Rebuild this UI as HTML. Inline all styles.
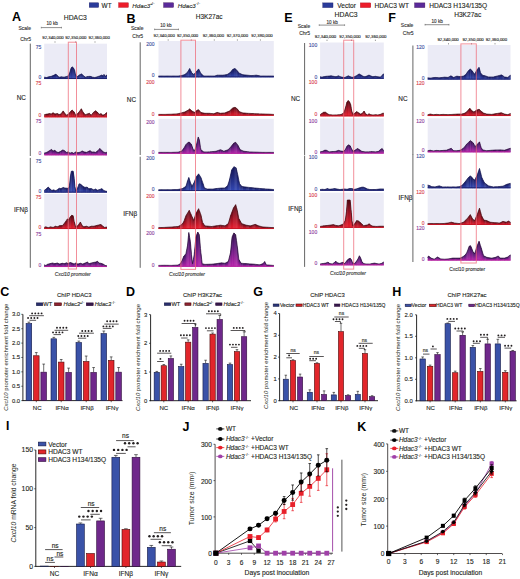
<!DOCTYPE html>
<html><head><meta charset="utf-8"><title>Figure</title>
<style>text{paint-order:stroke;}html,body{margin:0;padding:0;background:#fff;width:520px;height:579px;overflow:hidden;font-family:"Liberation Sans",sans-serif;}svg{display:block;}</style>
</head><body>
<svg width="520" height="579" viewBox="0 0 520 579" font-family="Liberation Sans, sans-serif"><defs><linearGradient id="cgb" x1="0" y1="0" x2="0" y2="1"><stop offset="0" stop-color="#15165a"/><stop offset="0.35" stop-color="#1f2675"/><stop offset="1" stop-color="#3348b4"/></linearGradient><linearGradient id="cgr" x1="0" y1="0" x2="0" y2="1"><stop offset="0" stop-color="#4e0812"/><stop offset="0.35" stop-color="#8c1020"/><stop offset="1" stop-color="#ec1e2e"/></linearGradient><linearGradient id="cgp" x1="0" y1="0" x2="0" y2="1"><stop offset="0" stop-color="#33104a"/><stop offset="0.35" stop-color="#5a1a78"/><stop offset="1" stop-color="#b824ac"/></linearGradient></defs><rect width="520" height="579" fill="#fff"/><rect x="89.2" y="2.8" width="9.5" height="4.6" fill="#2a3b9a" stroke="#1c1d66" stroke-width="0.4"/>
<text x="101.6" y="7.6" font-size="6.4" fill="#231f20" stroke="#231f20" stroke-width="0.12">WT</text>
<rect x="118.6" y="2.8" width="9.8" height="4.6" fill="#ec1c2a" stroke="#b01020" stroke-width="0.4"/>
<text x="132.3" y="7.6" font-size="6.2" fill="#231f20" stroke="#231f20" stroke-width="0.12"><tspan font-style="italic">Hdac3</tspan><tspan font-size="3.2" dy="-2.6">+/−</tspan></text>
<rect x="163.6" y="2.8" width="10" height="4.6" fill="#5a2a9a" stroke="#3c0f55" stroke-width="0.4"/>
<text x="177.8" y="7.6" font-size="6.2" fill="#231f20" stroke="#231f20" stroke-width="0.12"><tspan font-style="italic">Hdac3</tspan><tspan font-size="3.2" dy="-2.6">−/−</tspan></text>
<rect x="322.8" y="2.9" width="10.2" height="4.7" fill="#2a3b9a" stroke="#1c1d66" stroke-width="0.4"/>
<text x="337.2" y="7.6" font-size="6.6" fill="#231f20" stroke="#231f20" stroke-width="0.12">Vector</text>
<rect x="360.3" y="2.9" width="10.5" height="4.7" fill="#ec1c2a" stroke="#b01020" stroke-width="0.4"/>
<text x="374.6" y="7.6" font-size="6.6" fill="#231f20" stroke="#231f20" stroke-width="0.12">HDAC3 WT</text>
<rect x="414.6" y="2.9" width="10.3" height="4.7" fill="#5a2a9a" stroke="#3c0f55" stroke-width="0.4"/>
<text x="429.2" y="7.6" font-size="6.6" fill="#231f20" stroke="#231f20" stroke-width="0.12">HDAC3 H134/135Q</text>
<text x="12" y="21.3" font-size="12.5" font-weight="bold" fill="#000">A</text>
<text x="63.8" y="19.9" font-size="6.8" fill="#231f20" stroke="#231f20" stroke-width="0.12">HDAC3</text>
<text x="18.5" y="30.4" font-size="5" fill="#333" stroke="#333" stroke-width="0.12">Scale</text>
<text x="46.5" y="25.4" font-size="4.6" fill="#333" stroke="#333" stroke-width="0.12">10 kb</text>
<line x1="41.3" y1="27.6" x2="61.5" y2="27.6" stroke="#444" stroke-width="0.6"/>
<line x1="41.3" y1="26.8" x2="41.3" y2="28.4" stroke="#444" stroke-width="0.5"/>
<line x1="61.5" y1="26.8" x2="61.5" y2="28.4" stroke="#444" stroke-width="0.5"/>
<text x="20.2" y="40.8" font-size="5" fill="#333" stroke="#333" stroke-width="0.12">Chr5</text>
<text x="53" y="39.1" font-size="4.25" text-anchor="middle" fill="#222" stroke="#222" stroke-width="0.12">92,340,000</text>
<text x="75.8" y="39.1" font-size="4.25" text-anchor="middle" fill="#222" stroke="#222" stroke-width="0.12">92,350,000</text>
<text x="99.2" y="39.1" font-size="4.25" text-anchor="middle" fill="#222" stroke="#222" stroke-width="0.12">92,360,000</text>
<line x1="55" y1="41.4" x2="55" y2="42.6" stroke="#444" stroke-width="0.6"/>
<line x1="75.7" y1="41.4" x2="75.7" y2="42.6" stroke="#444" stroke-width="0.6"/>
<line x1="95" y1="41.4" x2="95" y2="42.6" stroke="#444" stroke-width="0.6"/>
<rect x="44.2" y="43.7" width="62.8" height="35.3" fill="#ebebf6"/>
<rect x="44.2" y="118" width="62.8" height="37.2" fill="#ebebf6"/>
<g fill="url(#cgb)"><path d="M44.2 79V77.2L45.4 77.3L45.8 77.4V79Z"/><path d="M45.4 79V77.3L46.4 77.5L46.8 77.4V79Z"/><path d="M46.4 79V77.5L46.6 77.5L47 77.4V79Z"/><path d="M46.6 79V77.5L47.8 77.1L48.2 77V79Z"/><path d="M47.8 79V77.1L48.8 76.8L49.2 76.7V79Z"/><path d="M48.8 79V76.8L49 76.8L49.4 76.7V79Z"/><path d="M49 79V76.8L50.2 76.5L50.6 76.4V79Z"/><path d="M50.2 79V76.5L51.3 76.3L51.6 76.2V79Z"/><path d="M51.3 79V76.3L51.4 76.3L51.8 76.1V79Z"/><path d="M51.4 79V76.3L52.6 75.8L53 75.6V79Z"/><path d="M52.6 79V75.8L53.7 75.3L54 75.1V79Z"/><path d="M53.7 79V75.3L53.8 75.3L54.2 75.1V79Z"/><path d="M53.8 79V75.3L55 74.6L55.4 74.4V79Z"/><path d="M55 79V74.6L55.9 74.1L56.2 74.5V79Z"/><path d="M55.9 79V74.1L56.2 74.4L56.6 74.8V79Z"/><path d="M56.2 79V74.4L57.3 75.6L57.7 75.9V79Z"/><path d="M57.3 79V75.6L57.4 75.6L57.8 75.9V79Z"/><path d="M57.4 79V75.6L58.6 76.7L59 77V79Z"/><path d="M58.6 79V76.7L59.2 77.2L59.5 77.1V79Z"/><path d="M59.2 79V77.2L59.8 77.1L60.2 77V79Z"/><path d="M59.8 79V77.1L61 76.9L61.4 76.8V79Z"/><path d="M61 79V76.9L61.6 76.8L61.9 76.8V79Z"/><path d="M61.6 79V76.8L62.2 76.9L62.6 76.9V79Z"/><path d="M62.2 79V76.9L63.4 77.1L63.8 77.1V79Z"/><path d="M63.4 79V77.1L64 77.2L64.3 77.1V79Z"/><path d="M64 79V77.2L64.6 77L64.9 76.9V79Z"/><path d="M64.6 79V77L65.8 76.7L66.1 76.6V79Z"/><path d="M65.8 79V76.7L66.4 76.5L66.8 76.4V79Z"/><path d="M66.4 79V76.5L67 76.4L67.3 76.2V79Z"/><path d="M67 79V76.4L68.2 76L68.5 75.3V79Z"/><path d="M68.2 79V76L68.2 75.9L68.6 75.2V79Z"/><path d="M68.2 79V75.9L69.4 73.5L69.8 72.7V79Z"/><path d="M69.4 79V73.5L69.7 72.9L70 71.7V79Z"/><path d="M69.7 79V72.9L70.6 69.7L70.9 68.6V79Z"/><path d="M70.6 79V69.7L70.9 68.7L71.3 68.1V79Z"/><path d="M70.9 79V68.7L71.8 67.3L72.1 66.9V79Z"/><path d="M71.8 79V67.3L72.1 66.8L72.5 67.1V79Z"/><path d="M72.1 79V66.8L73 67.6L73.3 67.8V79Z"/><path d="M73 79V67.6L73.3 67.8L73.7 68.4V79Z"/><path d="M73.3 79V67.8L74.2 69.3L74.5 69.9V79Z"/><path d="M74.2 79V69.3L74.5 69.9L74.9 71.5V79Z"/><path d="M74.5 79V69.9L75.4 73.7L75.8 75.3V79Z"/><path d="M75.4 79V73.7L75.8 75.3L76.1 75.6V79Z"/><path d="M75.8 79V75.3L76.6 76L76.9 76.3V79Z"/><path d="M76.6 79V76L77.3 76.5L77.7 76.3V79Z"/><path d="M77.3 79V76.5L77.8 76.2L78.2 75.9V79Z"/><path d="M77.8 79V76.2L79 75.2L79.3 75V79Z"/><path d="M79 79V75.2L79.2 75.1L79.5 74.9V79Z"/><path d="M79.2 79V75.1L80.2 74.6L80.5 74.4V79Z"/><path d="M80.2 79V74.6L81.4 74L81.8 74V79Z"/><path d="M81.4 79V74L81.6 73.9L81.9 74.2V79Z"/><path d="M81.6 79V73.9L82.6 74.8L82.9 75.2V79Z"/><path d="M82.6 79V74.8L83.4 75.6L83.7 75.9V79Z"/><path d="M83.4 79V75.6L83.8 75.9L84.2 76.2V79Z"/><path d="M83.8 79V75.9L85 77L85.3 77.1V79Z"/><path d="M85 79V77L85.2 77.2L85.6 77.1V79Z"/><path d="M85.2 79V77.2L86.2 76.9L86.5 76.8V79Z"/><path d="M86.2 79V76.9L87.4 76.6L87.8 76.5V79Z"/><path d="M87.4 79V76.6L87.6 76.5L88 76.5V79Z"/><path d="M87.6 79V76.5L88.6 76.4L88.9 76.4V79Z"/><path d="M88.6 79V76.4L89.8 76.3L90.2 76.3V79Z"/><path d="M89.8 79V76.3L90.1 76.3L90.4 76.4V79Z"/><path d="M90.1 79V76.3L91 76.6L91.3 76.8V79Z"/><path d="M91 79V76.6L92.2 77.1L92.5 77.2V79Z"/><path d="M92.2 79V77.1L92.5 77.2L92.8 77.2V79Z"/><path d="M92.5 79V77.2L93.4 77.3L93.8 77.3V79Z"/><path d="M93.4 79V77.3L94.6 77.5L94.9 77.5V79Z"/><path d="M94.6 79V77.5L94.9 77.5L95.3 77.4V79Z"/><path d="M94.9 79V77.5L95.8 77.2L96.2 77.1V79Z"/><path d="M95.8 79V77.2L97 76.9L97.3 76.8V79Z"/><path d="M97 79V76.9L97.3 76.8L97.7 76.7V79Z"/><path d="M97.3 79V76.8L98.2 76.5L98.5 76.4V79Z"/><path d="M98.2 79V76.5L99.4 76.1L99.8 75.9V79Z"/><path d="M99.4 79V76.1L99.8 75.9L100.1 75.8V79Z"/><path d="M99.8 79V75.9L100.6 75.5L100.9 75.4V79Z"/><path d="M100.6 79V75.5L101.6 75.1L101.9 75.2V79Z"/><path d="M101.6 79V75.1L101.8 75.2L102.1 75.3V79Z"/><path d="M101.8 79V75.2L102.8 75.6L103.1 75.2V79Z"/><path d="M102.8 79V75.6L103 75.4L103.3 75V79Z"/><path d="M103 79V75.4L104 74.4L104.3 74.9V79Z"/><path d="M104 79V74.4L104.2 74.7L104.5 75.2V79Z"/><path d="M104.2 79V74.7L105.2 76.3L105.6 76V79Z"/><path d="M105.2 79V76.3L105.4 76.2L105.8 75.9V79Z"/><path d="M105.4 79V76.2L106.4 75.3L106.8 75.3V79Z"/><path d="M106.4 79V75.3L106.6 75.3L106.9 75.3V79Z"/><path d="M106.6 79V75.3L107 75.3L107 75.3V79Z"/></g>
<path d="M44.2 77.15 L45.4 77.35 L46.42 77.52 L46.6 77.46 L47.8 77.1 L48.85 76.79 L49 76.76 L50.2 76.52 L51.27 76.3 L51.4 76.25 L52.6 75.77 L53.7 75.33 L53.8 75.28 L55 74.61 L55.88 74.12 L56.2 74.44 L57.33 75.58 L57.4 75.63 L58.6 76.67 L59.15 77.15 L59.8 77.05 L61 76.87 L61.58 76.79 L62.2 76.88 L63.4 77.06 L64 77.15 L64.6 77 L65.8 76.7 L66.42 76.55 L67 76.35 L68.2 75.95 L68.24 75.94 L69.4 73.53 L69.7 72.91 L70.6 69.75 L70.91 68.67 L71.8 67.33 L72.12 66.85 L73 67.55 L73.33 67.82 L74.2 69.29 L74.55 69.88 L75.4 73.72 L75.76 75.33 L76.6 75.98 L77.33 76.55 L77.8 76.17 L79 75.21 L79.15 75.09 L80.2 74.57 L81.4 73.97 L81.58 73.88 L82.6 74.83 L83.39 75.58 L83.8 75.93 L85 76.97 L85.21 77.15 L86.2 76.9 L87.4 76.6 L87.64 76.55 L88.6 76.45 L89.8 76.33 L90.06 76.3 L91 76.63 L92.2 77.05 L92.48 77.15 L93.4 77.29 L94.6 77.47 L94.91 77.52 L95.8 77.25 L97 76.89 L97.33 76.79 L98.2 76.48 L99.4 76.06 L99.76 75.94 L100.6 75.55 L101.58 75.09 L101.8 75.18 L102.79 75.58 L103 75.36 L104 74.36 L104.2 74.68 L105.21 76.3 L105.4 76.15 L106.42 75.33 L106.6 75.33 L107 75.33" fill="none" stroke="#141550" stroke-width="0.7" stroke-linejoin="round"/>
<line x1="44.2" y1="78.55" x2="107" y2="78.55" stroke="#1c1e68" stroke-width="0.9"/>
<text x="41.2" y="48.7" font-size="5" text-anchor="end" fill="#3e4f9e" stroke="#3e4f9e" stroke-width="0.12">75</text>
<text x="41.2" y="79" font-size="5" text-anchor="end" fill="#3e4f9e" stroke="#3e4f9e" stroke-width="0.12">0</text>
<g fill="url(#cgr)"><path d="M44.2 117.3V114.8L45.4 114.4L45.8 114.3V117.3Z"/><path d="M45.4 117.3V114.4L45.8 114.3L46.2 114.2V117.3Z"/><path d="M45.8 117.3V114.3L46.6 114.1L47 114.1V117.3Z"/><path d="M46.6 117.3V114.1L47.6 113.9L48 113.9V117.3Z"/><path d="M47.6 117.3V113.9L47.8 113.9L48.2 113.8V117.3Z"/><path d="M47.8 117.3V113.9L49 113.7L49.4 113.6V117.3Z"/><path d="M49 117.3V113.7L49.5 113.6L49.8 113.6V117.3Z"/><path d="M49.5 117.3V113.6L50.2 113.7L50.6 113.8V117.3Z"/><path d="M50.2 117.3V113.7L51.3 113.9L51.6 113.7V117.3Z"/><path d="M51.3 117.3V113.9L51.4 113.9L51.8 113.6V117.3Z"/><path d="M51.4 117.3V113.9L52.6 113.1L53 112.8V117.3Z"/><path d="M52.6 117.3V113.1L53.1 112.7L53.4 113V117.3Z"/><path d="M53.1 117.3V112.7L53.8 113.2L54.2 113.4V117.3Z"/><path d="M53.8 117.3V113.2L54.9 113.9L55.3 113.9V117.3Z"/><path d="M54.9 117.3V113.9L55 113.9L55.4 113.9V117.3Z"/><path d="M55 117.3V113.9L56.2 113.7L56.6 113.7V117.3Z"/><path d="M56.2 117.3V113.7L57.3 113.6L57.7 113.8V117.3Z"/><path d="M57.3 117.3V113.6L57.4 113.6L57.8 113.8V117.3Z"/><path d="M57.4 117.3V113.6L58.6 114.3L59 114.4V117.3Z"/><path d="M58.6 117.3V114.3L59.2 114.5L59.5 114.4V117.3Z"/><path d="M59.2 117.3V114.5L59.8 114.3L60.2 114.2V117.3Z"/><path d="M59.8 117.3V114.3L61 113.9L61.3 113.5V117.3Z"/><path d="M61 117.3V113.9L61 113.9L61.4 113.4V117.3Z"/><path d="M61 117.3V113.9L62.2 112.2L62.6 111.7V117.3Z"/><path d="M62.2 117.3V112.2L63.2 110.9L63.5 111.4V117.3Z"/><path d="M63.2 117.3V110.9L63.4 111.3L63.8 111.8V117.3Z"/><path d="M63.4 117.3V111.3L64.6 113L64.9 113.5V117.3Z"/><path d="M64.6 117.3V113L64.8 113.3L65.2 113.7V117.3Z"/><path d="M64.8 117.3V113.3L65.8 114.4L66.1 114.8V117.3Z"/><path d="M65.8 117.3V114.4L66.4 115.2L66.8 115V117.3Z"/><path d="M66.4 117.3V115.2L67 114.9L67.3 114.7V117.3Z"/><path d="M67 117.3V114.9L68.2 114.3L68.5 113.9V117.3Z"/><path d="M68.2 117.3V114.3L68.2 114.3L68.6 113.9V117.3Z"/><path d="M68.2 117.3V114.3L69.4 112.9L69.8 112.5V117.3Z"/><path d="M69.4 117.3V112.9L70.1 112.1L70.4 111.8V117.3Z"/><path d="M70.1 117.3V112.1L70.6 111.6L70.9 111.2V117.3Z"/><path d="M70.6 117.3V111.6L71.8 110.3L72.1 110V117.3Z"/><path d="M71.8 117.3V110.3L72.1 109.9L72.5 110.3V117.3Z"/><path d="M72.1 117.3V109.9L73 110.8L73.3 111.2V117.3Z"/><path d="M73 117.3V110.8L74.1 111.9L74.4 112.6V117.3Z"/><path d="M74.1 117.3V111.9L74.2 112.1L74.5 112.8V117.3Z"/><path d="M74.2 117.3V112.1L75.4 114.5L75.8 115.1V117.3Z"/><path d="M75.4 117.3V114.5L75.8 115.2L76.1 114.9V117.3Z"/><path d="M75.8 117.3V115.2L76.6 114.5L76.9 114.2V117.3Z"/><path d="M76.6 117.3V114.5L77.3 113.9L77.7 113.5V117.3Z"/><path d="M77.3 117.3V113.9L77.8 113.4L78.2 113V117.3Z"/><path d="M77.8 117.3V113.4L79 112L79.3 111.6V117.3Z"/><path d="M79 117.3V112L79.4 111.5L79.7 111V117.3Z"/><path d="M79.4 117.3V111.5L80.2 110.4L80.5 109.9V117.3Z"/><path d="M80.2 117.3V110.4L81.3 108.7L81.7 109.4V117.3Z"/><path d="M81.3 117.3V108.7L81.4 108.9L81.8 109.6V117.3Z"/><path d="M81.4 117.3V108.9L82.6 111.3L82.9 112V117.3Z"/><path d="M82.6 117.3V111.3L83 112.1L83.4 112.5V117.3Z"/><path d="M83 117.3V112.1L83.8 113.1L84.2 113.5V117.3Z"/><path d="M83.8 117.3V113.1L85 114.5L85.3 114.7V117.3Z"/><path d="M85 117.3V114.5L85.2 114.8L85.6 114.7V117.3Z"/><path d="M85.2 117.3V114.8L86.2 114.4L86.5 114.3V117.3Z"/><path d="M86.2 117.3V114.4L87.4 113.9L87.7 113.8V117.3Z"/><path d="M87.4 117.3V113.9L87.4 113.9L87.8 113.8V117.3Z"/><path d="M87.4 117.3V113.9L88.6 113.6L88.9 113.5V117.3Z"/><path d="M88.6 117.3V113.6L89.5 113.3L89.8 113.7V117.3Z"/><path d="M89.5 117.3V113.3L89.8 113.7L90.2 114V117.3Z"/><path d="M89.8 117.3V113.7L91 114.9L91.3 115V117.3Z"/><path d="M91 117.3V114.9L91.3 115.2L91.6 114.7V117.3Z"/><path d="M91.3 117.3V115.2L92.2 113.9L92.5 113.4V117.3Z"/><path d="M92.2 117.3V113.9L93.1 112.7L93.4 112.4V117.3Z"/><path d="M93.1 117.3V112.7L93.4 112.5L93.8 112.2V117.3Z"/><path d="M93.4 117.3V112.5L94.6 111.4L94.9 111.1V117.3Z"/><path d="M94.6 117.3V111.4L95.5 110.7L95.9 110.9V117.3Z"/><path d="M95.5 117.3V110.7L95.8 110.9L96.2 111.2V117.3Z"/><path d="M95.8 117.3V110.9L97 111.9L97.3 112.1V117.3Z"/><path d="M97 117.3V111.9L97.3 112.1L97.7 112.5V117.3Z"/><path d="M97.3 117.3V112.1L98.2 113.2L98.5 113.6V117.3Z"/><path d="M98.2 117.3V113.2L99.2 114.3L99.5 114.2V117.3Z"/><path d="M99.2 117.3V114.3L99.4 114.2L99.8 114.1V117.3Z"/><path d="M99.4 117.3V114.2L100.6 113.7L100.9 113.6V117.3Z"/><path d="M100.6 117.3V113.7L101 113.6L101.3 113.9V117.3Z"/><path d="M101 117.3V113.6L101.8 114.3L102.1 114.6V117.3Z"/><path d="M101.8 117.3V114.3L102.8 115.2L103.1 115V117.3Z"/><path d="M102.8 117.3V115.2L103 115.1L103.3 115V117.3Z"/><path d="M103 117.3V115.1L104.2 114.7L104.5 114.6V117.3Z"/><path d="M104.2 117.3V114.7L104.6 114.5L105 114.2V117.3Z"/><path d="M104.6 117.3V114.5L105.4 113.8L105.8 113.4V117.3Z"/><path d="M105.4 117.3V113.8L106.4 112.7L106.8 112.7V117.3Z"/><path d="M106.4 117.3V112.7L106.6 112.7L106.9 112.7V117.3Z"/><path d="M106.6 117.3V112.7L107 112.7L107 112.7V117.3Z"/></g>
<path d="M44.2 114.79 L45.4 114.43 L45.82 114.3 L46.6 114.15 L47.64 113.94 L47.8 113.91 L49 113.67 L49.45 113.58 L50.2 113.72 L51.27 113.94 L51.4 113.85 L52.6 113.05 L53.09 112.73 L53.8 113.2 L54.91 113.94 L55 113.93 L56.2 113.75 L57.33 113.58 L57.4 113.61 L58.6 114.25 L59.15 114.55 L59.8 114.33 L60.97 113.94 L61 113.9 L62.2 112.23 L63.15 110.91 L63.4 111.26 L64.6 112.98 L64.85 113.33 L65.8 114.43 L66.42 115.15 L67 114.88 L68.2 114.32 L68.24 114.3 L69.4 112.91 L70.06 112.12 L70.6 111.55 L71.8 110.28 L72.12 109.94 L73 110.82 L74.06 111.88 L74.2 112.15 L75.4 114.46 L75.76 115.15 L76.6 114.5 L77.33 113.94 L77.8 113.39 L79 111.98 L79.39 111.52 L80.2 110.36 L81.33 108.73 L81.4 108.86 L82.6 111.26 L83.03 112.12 L83.8 113.06 L85 114.53 L85.21 114.79 L86.2 114.4 L87.39 113.94 L87.4 113.94 L88.6 113.58 L89.45 113.33 L89.8 113.68 L91 114.88 L91.27 115.15 L92.2 113.92 L93.09 112.73 L93.4 112.46 L94.6 111.44 L95.52 110.67 L95.8 110.89 L97 111.85 L97.33 112.12 L98.2 113.16 L99.15 114.3 L99.4 114.2 L100.6 113.72 L100.97 113.58 L101.8 114.3 L102.79 115.15 L103 115.08 L104.2 114.68 L104.61 114.55 L105.4 113.75 L106.42 112.73 L106.6 112.73 L107 112.73" fill="none" stroke="#4a0810" stroke-width="0.7" stroke-linejoin="round"/>
<line x1="44.2" y1="116.85" x2="107" y2="116.85" stroke="#c01424" stroke-width="0.9"/>
<text x="41.2" y="85" font-size="5" text-anchor="end" fill="#d8404c" stroke="#d8404c" stroke-width="0.12">75</text>
<text x="41.2" y="117.3" font-size="5" text-anchor="end" fill="#d8404c" stroke="#d8404c" stroke-width="0.12">0</text>
<g fill="url(#cgp)"><path d="M44.2 155.2V153.1L45.4 152.8L45.8 152.7V155.2Z"/><path d="M45.4 155.2V152.8L45.8 152.7L46.2 152.6V155.2Z"/><path d="M45.8 155.2V152.7L46.6 152.4L47 152.2V155.2Z"/><path d="M46.6 155.2V152.4L47.6 151.9L48 151.6V155.2Z"/><path d="M47.6 155.2V151.9L47.8 151.8L48.2 151.5V155.2Z"/><path d="M47.8 155.2V151.8L49 151L49.4 150.7V155.2Z"/><path d="M49 155.2V151L49.5 150.7L49.8 150.5V155.2Z"/><path d="M49.5 155.2V150.7L50.2 150.2L50.6 150V155.2Z"/><path d="M50.2 155.2V150.2L51.4 149.5L51.8 149.7V155.2Z"/><path d="M51.4 155.2V149.5L51.5 149.5L51.9 149.8V155.2Z"/><path d="M51.5 155.2V149.5L52.6 150.5L53 150.8V155.2Z"/><path d="M52.6 155.2V150.5L53.1 150.9L53.4 150.8V155.2Z"/><path d="M53.1 155.2V150.9L53.8 150.7L54.2 150.6V155.2Z"/><path d="M53.8 155.2V150.7L54.9 150.3L55.3 150.7V155.2Z"/><path d="M54.9 155.2V150.3L55 150.4L55.4 150.7V155.2Z"/><path d="M55 155.2V150.4L56.2 151.6L56.6 151.9V155.2Z"/><path d="M56.2 155.2V151.6L56.7 152.1L57.1 152.2V155.2Z"/><path d="M56.7 155.2V152.1L57.4 152.2L57.8 152.3V155.2Z"/><path d="M57.4 155.2V152.2L58.5 152.4L58.9 152.2V155.2Z"/><path d="M58.5 155.2V152.4L58.6 152.3L59 152.2V155.2Z"/><path d="M58.6 155.2V152.3L59.8 151.8L60.2 151.6V155.2Z"/><path d="M59.8 155.2V151.8L60.4 151.5L60.7 151.3V155.2Z"/><path d="M60.4 155.2V151.5L61 151.1L61.4 150.9V155.2Z"/><path d="M61 155.2V151.1L62.2 150.3L62.6 150.1V155.2Z"/><path d="M62.2 155.2V150.3L62.8 149.9L63.1 150.1V155.2Z"/><path d="M62.8 155.2V149.9L63.4 150.2L63.8 150.3V155.2Z"/><path d="M63.4 155.2V150.2L64.6 150.7L64.9 151V155.2Z"/><path d="M64.6 155.2V150.7L64.6 150.7L65 151V155.2Z"/><path d="M64.6 155.2V150.7L65.8 151.8L66.1 152.1V155.2Z"/><path d="M65.8 155.2V151.8L66.4 152.4L66.8 152.3V155.2Z"/><path d="M66.4 155.2V152.4L67 152.2L67.3 152.1V155.2Z"/><path d="M67 155.2V152.2L68.2 151.9L68.5 152.1V155.2Z"/><path d="M68.2 155.2V151.9L68.2 151.9L68.6 152.1V155.2Z"/><path d="M68.2 155.2V151.9L69.4 152.7L69.8 152.9V155.2Z"/><path d="M69.4 155.2V152.7L70.1 153.1L70.4 153V155.2Z"/><path d="M70.1 155.2V153.1L70.6 152.9L70.9 152.7V155.2Z"/><path d="M70.6 155.2V152.9L71.8 152.4L72.1 152.5V155.2Z"/><path d="M71.8 155.2V152.4L71.9 152.4L72.2 152.6V155.2Z"/><path d="M71.9 155.2V152.4L73 153L73.3 153.1V155.2Z"/><path d="M73 155.2V153L73.7 153.3L74 153.1V155.2Z"/><path d="M73.7 155.2V153.3L74.2 153L74.5 152.7V155.2Z"/><path d="M74.2 155.2V153L75.4 152.1L75.8 151.9V155.2Z"/><path d="M75.4 155.2V152.1L75.8 151.9L76.1 152V155.2Z"/><path d="M75.8 155.2V151.9L76.6 152.2L76.9 152.3V155.2Z"/><path d="M76.6 155.2V152.2L77.8 152.7L78.2 152.7V155.2Z"/><path d="M77.8 155.2V152.7L77.9 152.7L78.3 152.6V155.2Z"/><path d="M77.9 155.2V152.7L79 152.5L79.3 152.4V155.2Z"/><path d="M79 155.2V152.5L80.2 152.2L80.5 152V155.2Z"/><path d="M80.2 155.2V152.2L80.4 152.1L80.7 151.9V155.2Z"/><path d="M80.4 155.2V152.1L81.4 151.4L81.8 151.2V155.2Z"/><path d="M81.4 155.2V151.4L82.2 150.9L82.5 151.1V155.2Z"/><path d="M82.2 155.2V150.9L82.6 151.1L82.9 151.3V155.2Z"/><path d="M82.6 155.2V151.1L83.8 151.8L84.2 151.9V155.2Z"/><path d="M83.8 155.2V151.8L84 151.9L84.3 151.9V155.2Z"/><path d="M84 155.2V151.9L85 152.1L85.3 152.1V155.2Z"/><path d="M85 155.2V152.1L86.2 152.3L86.5 152.3V155.2Z"/><path d="M86.2 155.2V152.3L86.4 152.4L86.8 152.2V155.2Z"/><path d="M86.4 155.2V152.4L87.4 151.9L87.8 151.7V155.2Z"/><path d="M87.4 155.2V151.9L88.2 151.5L88.6 151.4V155.2Z"/><path d="M88.2 155.2V151.5L88.6 151.3L88.9 151.2V155.2Z"/><path d="M88.6 155.2V151.3L89.8 150.8L90.2 150.7V155.2Z"/><path d="M89.8 155.2V150.8L90.1 150.7L90.4 150.9V155.2Z"/><path d="M90.1 155.2V150.7L91 151.4L91.3 151.7V155.2Z"/><path d="M91 155.2V151.4L91.9 152.1L92.2 152.1V155.2Z"/><path d="M91.9 155.2V152.1L92.2 152.1L92.5 152V155.2Z"/><path d="M92.2 155.2V152.1L93.4 151.9L93.8 151.9V155.2Z"/><path d="M93.4 155.2V151.9L93.7 151.9L94 152V155.2Z"/><path d="M93.7 155.2V151.9L94.6 152.1L94.9 152.2V155.2Z"/><path d="M94.6 155.2V152.1L95.5 152.4L95.9 152.1V155.2Z"/><path d="M95.5 155.2V152.4L95.8 152.2L96.2 151.9V155.2Z"/><path d="M95.8 155.2V152.2L97 151.3L97.3 151.1V155.2Z"/><path d="M97 155.2V151.3L97.9 150.7L98.3 150.2V155.2Z"/><path d="M97.9 155.2V150.7L98.2 150.4L98.5 149.9V155.2Z"/><path d="M98.2 155.2V150.4L99.4 148.9L99.8 148.5V155.2Z"/><path d="M99.4 155.2V148.9L99.8 148.5L100.1 148.8V155.2Z"/><path d="M99.8 155.2V148.5L100.6 149.3L100.9 149.7V155.2Z"/><path d="M100.6 155.2V149.3L101.6 150.3L101.9 150.6V155.2Z"/><path d="M101.6 155.2V150.3L101.8 150.5L102.1 150.8V155.2Z"/><path d="M101.8 155.2V150.5L103 151.5L103.3 151.8V155.2Z"/><path d="M103 155.2V151.5L103.4 151.9L103.7 152V155.2Z"/><path d="M103.4 155.2V151.9L104.2 152.3L104.5 152.4V155.2Z"/><path d="M104.2 155.2V152.3L105.2 152.7L105.6 152.6V155.2Z"/><path d="M105.2 155.2V152.7L105.4 152.7L105.8 152.6V155.2Z"/><path d="M105.4 155.2V152.7L106.4 152.4L106.8 152.4V155.2Z"/><path d="M106.4 155.2V152.4L106.6 152.4L106.9 152.4V155.2Z"/><path d="M106.6 155.2V152.4L107 152.4L107 152.4V155.2Z"/></g>
<path d="M44.2 153.09 L45.4 152.82 L45.82 152.73 L46.6 152.36 L47.64 151.88 L47.8 151.77 L49 150.97 L49.45 150.67 L50.2 150.23 L51.4 149.52 L51.52 149.45 L52.6 150.46 L53.09 150.91 L53.8 150.67 L54.91 150.3 L55 150.39 L56.2 151.59 L56.73 152.12 L57.4 152.21 L58.55 152.36 L58.6 152.34 L59.8 151.78 L60.36 151.52 L61 151.1 L62.2 150.32 L62.79 149.94 L63.4 150.18 L64.6 150.66 L64.61 150.67 L65.8 151.78 L66.42 152.36 L67 152.21 L68.2 151.89 L68.24 151.88 L69.4 152.65 L70.06 153.09 L70.6 152.88 L71.8 152.4 L71.88 152.36 L73 152.96 L73.7 153.33 L74.2 152.98 L75.4 152.13 L75.76 151.88 L76.6 152.21 L77.8 152.67 L77.94 152.73 L79 152.46 L80.2 152.16 L80.36 152.12 L81.4 151.43 L82.18 150.91 L82.6 151.13 L83.8 151.77 L84 151.88 L85 152.08 L86.2 152.32 L86.42 152.36 L87.4 151.91 L88.24 151.52 L88.6 151.35 L89.8 150.79 L90.06 150.67 L91 151.42 L91.88 152.12 L92.2 152.08 L93.4 151.92 L93.7 151.88 L94.6 152.12 L95.52 152.36 L95.8 152.16 L97 151.32 L97.94 150.67 L98.2 150.35 L99.4 148.91 L99.76 148.48 L100.6 149.33 L101.58 150.3 L101.8 150.5 L103 151.54 L103.39 151.88 L104.2 152.25 L105.21 152.73 L105.4 152.67 L106.42 152.36 L106.6 152.36 L107 152.36" fill="none" stroke="#2a0a3a" stroke-width="0.7" stroke-linejoin="round"/>
<line x1="44.2" y1="154.75" x2="107" y2="154.75" stroke="#b01e98" stroke-width="0.9"/>
<text x="41.2" y="123" font-size="5" text-anchor="end" fill="#8d3e9c" stroke="#8d3e9c" stroke-width="0.12">75</text>
<text x="41.2" y="155.2" font-size="5" text-anchor="end" fill="#8d3e9c" stroke="#8d3e9c" stroke-width="0.12">0</text>
<line x1="30.3" y1="43.6" x2="30.3" y2="156" stroke="#555" stroke-width="0.9"/>
<text x="16.7" y="99.7" font-size="6.4" fill="#222" stroke="#222" stroke-width="0.12">NC</text>
<rect x="44.2" y="194" width="62.8" height="35" fill="#ebebf6"/>
<g fill="url(#cgb)"><path d="M44.2 192.6V190.5L45.4 189.6L45.8 189.3V192.6Z"/><path d="M45.4 192.6V189.6L45.8 189.2L46.2 188.9V192.6Z"/><path d="M45.8 192.6V189.2L46.6 188.5L47 188.2V192.6Z"/><path d="M46.6 192.6V188.5L47.8 187.5L48.2 187.1V192.6Z"/><path d="M47.8 192.6V187.5L48.2 187.1L48.6 187.4V192.6Z"/><path d="M48.2 192.6V187.1L49 187.9L49.4 188.2V192.6Z"/><path d="M49 192.6V187.9L50.1 189L50.4 189.3V192.6Z"/><path d="M50.1 192.6V189L50.2 189.1L50.6 189.4V192.6Z"/><path d="M50.2 192.6V189.1L51.4 190.1L51.8 190.4V192.6Z"/><path d="M51.4 192.6V190.1L51.9 190.5L52.2 190.3V192.6Z"/><path d="M51.9 192.6V190.5L52.6 190.2L53 190.1V192.6Z"/><path d="M52.6 192.6V190.2L53.7 189.8L54 190V192.6Z"/><path d="M53.7 192.6V189.8L53.8 189.9L54.2 190.1V192.6Z"/><path d="M53.8 192.6V189.9L55 190.5L55.4 190.6V192.6Z"/><path d="M55 192.6V190.5L55.5 190.7L55.9 190.5V192.6Z"/><path d="M55.5 192.6V190.7L56.2 190.4L56.6 190.2V192.6Z"/><path d="M56.2 192.6V190.4L57.3 189.8L57.7 189.5V192.6Z"/><path d="M57.3 192.6V189.8L57.4 189.8L57.8 189.5V192.6Z"/><path d="M57.4 192.6V189.8L58.6 188.8L59 188.4V192.6Z"/><path d="M58.6 192.6V188.8L59.2 188.3L59.5 188.3V192.6Z"/><path d="M59.2 192.6V188.3L59.8 188.4L60.2 188.5V192.6Z"/><path d="M59.8 192.6V188.4L61 188.6L61.3 188.4V192.6Z"/><path d="M61 192.6V188.6L61 188.6L61.4 188.4V192.6Z"/><path d="M61 192.6V188.6L62.2 188L62.6 187.8V192.6Z"/><path d="M62.2 192.6V188L63.2 187.4L63.5 187.5V192.6Z"/><path d="M63.2 192.6V187.4L63.4 187.5L63.8 187.6V192.6Z"/><path d="M63.4 192.6V187.5L64.6 187.9L64.9 188V192.6Z"/><path d="M64.6 192.6V187.9L65.2 188L65.6 188.1V192.6Z"/><path d="M65.2 192.6V188L65.8 188.1L66.1 188.1V192.6Z"/><path d="M65.8 192.6V188.1L67 188.2L67.3 188.2V192.6Z"/><path d="M67 192.6V188.2L67.6 188.3L68 188.1V192.6Z"/><path d="M67.6 192.6V188.3L68.2 188L68.5 187.8V192.6Z"/><path d="M68.2 192.6V188L69.2 187.4L69.6 184.3V192.6Z"/><path d="M69.2 192.6V187.4L69.4 185.7L69.8 182.6V192.6Z"/><path d="M69.4 192.6V185.7L70.4 176.5L70.8 174.4V192.6Z"/><path d="M70.4 192.6V176.5L70.6 175.4L70.9 173.3V192.6Z"/><path d="M70.6 192.6V175.4L71.3 171.3L71.6 171.3V192.6Z"/><path d="M71.3 192.6V171.3L71.8 171.2L72.1 171.2V192.6Z"/><path d="M71.8 192.6V171.2L73 171.1L73.3 172.7V192.6Z"/><path d="M73 192.6V171.1L73.1 171.1L73.4 173.2V192.6Z"/><path d="M73.1 192.6V171.1L74.1 177.1L74.4 181.1V192.6Z"/><path d="M74.1 192.6V177.1L74.2 178.7L74.5 182.7V192.6Z"/><path d="M74.2 192.6V178.7L74.9 186.8L75.3 188.1V192.6Z"/><path d="M74.9 192.6V186.8L75.4 188.6L75.8 189.9V192.6Z"/><path d="M75.4 192.6V188.6L76.1 191.3L76.5 190.5V192.6Z"/><path d="M76.1 192.6V191.3L76.6 190.2L76.9 189.5V192.6Z"/><path d="M76.6 192.6V190.2L77.3 188.6L77.7 187.7V192.6Z"/><path d="M77.3 192.6V188.6L77.8 187.4L78.2 186.5V192.6Z"/><path d="M77.8 192.6V187.4L79 184.2L79.3 183.9V192.6Z"/><path d="M79 192.6V184.2L79.2 183.8L79.5 183.9V192.6Z"/><path d="M79.2 192.6V183.8L80.2 184.1L80.5 184.3V192.6Z"/><path d="M80.2 192.6V184.1L81 184.4L81.3 184.7V192.6Z"/><path d="M81 192.6V184.4L81.4 184.8L81.8 185.2V192.6Z"/><path d="M81.4 192.6V184.8L82.6 186L82.9 186.3V192.6Z"/><path d="M82.6 192.6V186L82.8 186.2L83.1 186.4V192.6Z"/><path d="M82.8 192.6V186.2L83.8 186.8L84.2 187V192.6Z"/><path d="M83.8 192.6V186.8L85 187.4L85.3 187.4V192.6Z"/><path d="M85 192.6V187.4L85 187.4L85.3 187.4V192.6Z"/><path d="M85 192.6V187.4L86.2 187.2L86.5 187.1V192.6Z"/><path d="M86.2 192.6V187.2L87 187.1L87.4 187.4V192.6Z"/><path d="M87 192.6V187.1L87.4 187.4L87.8 187.7V192.6Z"/><path d="M87.4 192.6V187.4L88.6 188.4L88.9 188.6V192.6Z"/><path d="M88.6 192.6V188.4L88.8 188.6L89.2 188.6V192.6Z"/><path d="M88.8 192.6V188.6L89.8 188.6L90.2 188.6V192.6Z"/><path d="M89.8 192.6V188.6L91 188.6L91.3 188.7V192.6Z"/><path d="M91 192.6V188.6L91.3 188.6L91.6 188.8V192.6Z"/><path d="M91.3 192.6V188.6L92.2 189.1L92.5 189.3V192.6Z"/><path d="M92.2 192.6V189.1L93.4 189.7L93.8 189.8V192.6Z"/><path d="M93.4 192.6V189.7L93.7 189.8L94 189.7V192.6Z"/><path d="M93.7 192.6V189.8L94.6 189.4L94.9 189.3V192.6Z"/><path d="M94.6 192.6V189.4L95.5 189L95.9 189.2V192.6Z"/><path d="M95.5 192.6V189L95.8 189.2L96.2 189.4V192.6Z"/><path d="M95.8 192.6V189.2L97 190L97.3 190.2V192.6Z"/><path d="M97 192.6V190L97.3 190.2L97.7 190.1V192.6Z"/><path d="M97.3 192.6V190.2L98.2 190L98.5 189.8V192.6Z"/><path d="M98.2 192.6V190L99.4 189.6L99.8 189.5V192.6Z"/><path d="M99.4 192.6V189.6L99.8 189.5L100.1 189.3V192.6Z"/><path d="M99.8 192.6V189.5L100.6 189.2L100.9 189V192.6Z"/><path d="M100.6 192.6V189.2L101.8 188.7L102.1 188.8V192.6Z"/><path d="M101.8 192.6V188.7L101.9 188.6L102.3 189V192.6Z"/><path d="M101.9 192.6V188.6L103 189.7L103.3 190V192.6Z"/><path d="M103 192.6V189.7L104 190.7L104.3 190.8V192.6Z"/><path d="M104 192.6V190.7L104.2 190.7L104.5 190.8V192.6Z"/><path d="M104.2 192.6V190.7L105.4 191L105.8 191.1V192.6Z"/><path d="M105.4 192.6V191L106.4 191.3L106.8 191.3V192.6Z"/><path d="M106.4 192.6V191.3L106.6 191.3L106.9 191.3V192.6Z"/><path d="M106.6 192.6V191.3L107 191.3L107 191.3V192.6Z"/></g>
<path d="M44.2 190.45 L45.4 189.56 L45.82 189.24 L46.6 188.54 L47.8 187.46 L48.24 187.06 L49 187.87 L50.06 189 L50.2 189.11 L51.4 190.07 L51.88 190.45 L52.6 190.21 L53.7 189.85 L53.8 189.9 L55 190.46 L55.52 190.7 L56.2 190.38 L57.33 189.85 L57.4 189.79 L58.6 188.75 L59.15 188.27 L59.8 188.4 L60.97 188.64 L61 188.62 L62.2 187.95 L63.15 187.42 L63.4 187.5 L64.6 187.85 L65.21 188.03 L65.8 188.09 L67 188.21 L67.64 188.27 L68.2 187.97 L69.21 187.42 L69.4 185.73 L70.42 176.52 L70.6 175.44 L71.27 171.3 L71.8 171.23 L73 171.07 L73.09 171.06 L74.06 177.12 L74.2 178.71 L74.91 186.82 L75.4 188.63 L76.12 191.3 L76.6 190.25 L77.33 188.64 L77.8 187.39 L79 184.19 L79.15 183.79 L80.2 184.14 L80.97 184.39 L81.4 184.82 L82.6 186.02 L82.79 186.21 L83.8 186.77 L84.97 187.42 L85 187.42 L86.2 187.21 L87.03 187.06 L87.4 187.38 L88.6 188.42 L88.85 188.64 L89.8 188.64 L91 188.64 L91.27 188.64 L92.2 189.1 L93.4 189.7 L93.7 189.85 L94.6 189.43 L95.52 189 L95.8 189.19 L97 189.99 L97.33 190.21 L98.2 189.95 L99.4 189.59 L99.76 189.48 L100.6 189.16 L101.8 188.69 L101.94 188.64 L103 189.7 L104 190.7 L104.2 190.75 L105.4 191.05 L106.42 191.3 L106.6 191.3 L107 191.3" fill="none" stroke="#141550" stroke-width="0.7" stroke-linejoin="round"/>
<line x1="44.2" y1="192.15" x2="107" y2="192.15" stroke="#1c1e68" stroke-width="0.9"/>
<text x="41.2" y="163" font-size="5" text-anchor="end" fill="#3e4f9e" stroke="#3e4f9e" stroke-width="0.12">75</text>
<text x="41.2" y="192.6" font-size="5" text-anchor="end" fill="#3e4f9e" stroke="#3e4f9e" stroke-width="0.12">0</text>
<g fill="url(#cgr)"><path d="M44.2 229V227.4L45.4 227L45.8 226.8V229Z"/><path d="M45.4 229V227L45.8 226.8L46.2 226.9V229Z"/><path d="M45.8 229V226.8L46.6 227.1L47 227.2V229Z"/><path d="M46.6 229V227.1L47.8 227.5L48.2 227.7V229Z"/><path d="M47.8 229V227.5L48.2 227.7L48.6 227.6V229Z"/><path d="M48.2 229V227.7L49 227.4L49.4 227.3V229Z"/><path d="M49 229V227.4L50.2 227L50.6 226.9V229Z"/><path d="M50.2 229V227L50.7 226.8L51 226.9V229Z"/><path d="M50.7 229V226.8L51.4 227L51.8 227.1V229Z"/><path d="M51.4 229V227L52.6 227.3L53 227.4V229Z"/><path d="M52.6 229V227.3L53.1 227.4L53.4 227.2V229Z"/><path d="M53.1 229V227.4L53.8 227.1L54.2 226.9V229Z"/><path d="M53.8 229V227.1L55 226.5L55.4 226.3V229Z"/><path d="M55 229V226.5L55.5 226.2L55.9 226.3V229Z"/><path d="M55.5 229V226.2L56.2 226.4L56.6 226.6V229Z"/><path d="M56.2 229V226.4L57.3 226.8L57.7 226.6V229Z"/><path d="M57.3 229V226.8L57.4 226.8L57.8 226.6V229Z"/><path d="M57.4 229V226.8L58.6 226.2L59 226V229Z"/><path d="M58.6 229V226.2L59.8 225.6L60.1 225.6V229Z"/><path d="M59.8 229V225.6L59.8 225.6L60.2 225.6V229Z"/><path d="M59.8 229V225.6L61 225.6L61.4 225.6V229Z"/><path d="M61 229V225.6L62.2 225.6L62.5 225.3V229Z"/><path d="M62.2 229V225.6L62.2 225.6L62.6 225.2V229Z"/><path d="M62.2 229V225.6L63.4 224.4L63.8 224V229Z"/><path d="M63.4 229V224.4L64 223.8L64.3 223.3V229Z"/><path d="M64 229V223.8L64.6 223L64.9 222.5V229Z"/><path d="M64.6 229V223L65.8 221.4L66.1 220.8V229Z"/><path d="M65.8 229V221.4L65.8 221.4L66.2 220.8V229Z"/><path d="M65.8 229V221.4L67 219.4L67.3 219V229Z"/><path d="M67 229V219.4L67.3 218.9L67.6 219.1V229Z"/><path d="M67.3 229V218.9L68.2 219.3L68.5 219.4V229Z"/><path d="M68.2 229V219.3L68.8 219.5L69.2 218.8V229Z"/><path d="M68.8 229V219.5L69.4 218.4L69.8 217.7V229Z"/><path d="M69.4 229V218.4L70.1 217.1L70.4 216.7V229Z"/><path d="M70.1 229V217.1L70.6 216.5L70.9 216.1V229Z"/><path d="M70.6 229V216.5L71.6 215.3L72 215.4V229Z"/><path d="M71.6 229V215.3L71.8 215.3L72.1 215.4V229Z"/><path d="M71.8 229V215.3L73 215.6L73.3 217V229Z"/><path d="M73 229V215.6L73.1 215.7L73.4 217.5V229Z"/><path d="M73.1 229V215.7L74.2 221.4L74.5 222.8V229Z"/><path d="M74.2 229V221.4L74.3 222L74.7 223.1V229Z"/><path d="M74.3 229V222L75.4 225.6L75.8 226.8V229Z"/><path d="M75.4 229V225.6L75.8 226.8L76.1 226.6V229Z"/><path d="M75.8 229V226.8L76.6 226.4L76.9 226.2V229Z"/><path d="M76.6 229V226.4L77.8 225.7L78.2 225.3V229Z"/><path d="M77.8 229V225.7L77.9 225.6L78.3 225.1V229Z"/><path d="M77.9 229V225.6L79 224L79.3 223.5V229Z"/><path d="M79 229V224L80.2 222.2L80.5 222.3V229Z"/><path d="M80.2 229V222.2L80.4 222L80.7 222.7V229Z"/><path d="M80.4 229V222L81.4 224L81.8 224.7V229Z"/><path d="M81.4 229V224L82.2 225.6L82.5 225.8V229Z"/><path d="M82.2 229V225.6L82.6 225.9L82.9 226.1V229Z"/><path d="M82.6 229V225.9L83.8 226.7L84.2 226.8V229Z"/><path d="M83.8 229V226.7L84 226.8L84.3 226.7V229Z"/><path d="M84 229V226.8L85 226.6L85.3 226.5V229Z"/><path d="M85 229V226.6L86.2 226.3L86.5 226.3V229Z"/><path d="M86.2 229V226.3L86.4 226.2L86.8 226.3V229Z"/><path d="M86.4 229V226.2L87.4 226.6L87.8 226.7V229Z"/><path d="M87.4 229V226.6L88.6 227L88.9 227V229Z"/><path d="M88.6 229V227L88.8 227.1L89.2 226.9V229Z"/><path d="M88.8 229V227.1L89.8 226.7L90.2 226.6V229Z"/><path d="M89.8 229V226.7L91 226.3L91.3 226.2V229Z"/><path d="M91 229V226.3L91.3 226.2L91.6 226.2V229Z"/><path d="M91.3 229V226.2L92.2 226.2L92.5 226.2V229Z"/><path d="M92.2 229V226.2L93.4 226.2L93.8 226.2V229Z"/><path d="M93.4 229V226.2L93.7 226.2L94 226.1V229Z"/><path d="M93.7 229V226.2L94.6 226L94.9 225.9V229Z"/><path d="M94.6 229V226L95.8 225.7L96.2 225.6V229Z"/><path d="M95.8 229V225.7L96.1 225.6L96.5 225.5V229Z"/><path d="M96.1 229V225.6L97 225.4L97.3 225.3V229Z"/><path d="M97 229V225.4L98.2 225.1L98.5 225V229Z"/><path d="M98.2 229V225.1L98.5 225L98.9 224.9V229Z"/><path d="M98.5 229V225L99.4 224.8L99.8 224.7V229Z"/><path d="M99.4 229V224.8L100.6 224.5L100.9 224.4V229Z"/><path d="M100.6 229V224.5L101 224.4L101.3 224.7V229Z"/><path d="M101 229V224.4L101.8 225.2L102.1 225.6V229Z"/><path d="M101.8 229V225.2L102.8 226.2L103.1 226.4V229Z"/><path d="M102.8 229V226.2L103 226.4L103.3 226.6V229Z"/><path d="M103 229V226.4L104.2 227.2L104.5 227.4V229Z"/><path d="M104.2 229V227.2L104.6 227.4L105 227.4V229Z"/><path d="M104.6 229V227.4L105.4 227.3L105.8 227.2V229Z"/><path d="M105.4 229V227.3L106.4 227.1L106.8 227.1V229Z"/><path d="M106.4 229V227.1L106.6 227.1L106.9 227.1V229Z"/><path d="M106.6 229V227.1L107 227.1L107 227.1V229Z"/></g>
<path d="M44.2 227.42 L45.4 226.97 L45.82 226.82 L46.6 227.1 L47.8 227.54 L48.24 227.7 L49 227.42 L50.2 226.99 L50.67 226.82 L51.4 227 L52.6 227.3 L53.09 227.42 L53.8 227.07 L55 226.47 L55.52 226.21 L56.2 226.44 L57.33 226.82 L57.4 226.78 L58.6 226.18 L59.76 225.61 L59.8 225.61 L61 225.61 L62.18 225.61 L62.2 225.59 L63.4 224.39 L64 223.79 L64.6 222.99 L65.8 221.39 L65.82 221.36 L67 219.39 L67.27 218.94 L68.2 219.3 L68.85 219.55 L69.4 218.44 L70.06 217.12 L70.6 216.5 L71.64 215.3 L71.8 215.34 L73 215.64 L73.09 215.67 L74.2 221.43 L74.3 221.97 L75.4 225.63 L75.76 226.82 L76.6 226.35 L77.8 225.68 L77.94 225.61 L79 224.02 L80.2 222.22 L80.36 221.97 L81.4 224.04 L82.18 225.61 L82.6 225.88 L83.8 226.68 L84 226.82 L85 226.57 L86.2 226.27 L86.42 226.21 L87.4 226.55 L88.6 226.97 L88.85 227.06 L89.8 226.73 L91 226.31 L91.27 226.21 L92.2 226.21 L93.4 226.21 L93.7 226.21 L94.6 225.99 L95.8 225.69 L96.12 225.61 L97 225.39 L98.2 225.09 L98.55 225 L99.4 224.79 L100.6 224.49 L100.97 224.39 L101.8 225.22 L102.79 226.21 L103 226.35 L104.2 227.15 L104.61 227.42 L105.4 227.27 L106.42 227.06 L106.6 227.06 L107 227.06" fill="none" stroke="#4a0810" stroke-width="0.7" stroke-linejoin="round"/>
<line x1="44.2" y1="228.55" x2="107" y2="228.55" stroke="#c01424" stroke-width="0.9"/>
<text x="41.2" y="199" font-size="5" text-anchor="end" fill="#d8404c" stroke="#d8404c" stroke-width="0.12">75</text>
<text x="41.2" y="229" font-size="5" text-anchor="end" fill="#d8404c" stroke="#d8404c" stroke-width="0.12">0</text>
<g fill="url(#cgp)"><path d="M44.2 267V264.8L45.4 265.3L45.8 265.4V267Z"/><path d="M45.4 267V265.3L45.8 265.5L46.2 265.2V267Z"/><path d="M45.8 267V265.5L46.6 264.9L47 264.7V267Z"/><path d="M46.6 267V264.9L47.6 264.2L48 264.2V267Z"/><path d="M47.6 267V264.2L47.8 264.2L48.2 264.1V267Z"/><path d="M47.8 267V264.2L49 263.9L49.4 263.8V267Z"/><path d="M49 267V263.9L50.1 263.6L50.4 263.5V267Z"/><path d="M50.1 267V263.6L50.2 263.6L50.6 263.5V267Z"/><path d="M50.2 267V263.6L51.4 263.3L51.8 263.2V267Z"/><path d="M51.4 267V263.3L52.5 263L52.8 263.1V267Z"/><path d="M52.5 267V263L52.6 263.1L53 263.1V267Z"/><path d="M52.6 267V263.1L53.8 263.4L54.2 263.4V267Z"/><path d="M53.8 267V263.4L54.9 263.6L55.3 263.5V267Z"/><path d="M54.9 267V263.6L55 263.6L55.4 263.5V267Z"/><path d="M55 267V263.6L56.2 263.3L56.6 263.2V267Z"/><path d="M56.2 267V263.3L57.3 263L57.7 263.2V267Z"/><path d="M57.3 267V263L57.4 263.1L57.8 263.2V267Z"/><path d="M57.4 267V263.1L58.6 263.5L59 263.7V267Z"/><path d="M58.6 267V263.5L59.8 264L60.1 263.9V267Z"/><path d="M59.8 267V264L59.8 264L60.2 263.9V267Z"/><path d="M59.8 267V264L61 263.6L61.4 263.5V267Z"/><path d="M61 267V263.6L62.2 263.3L62.5 263.3V267Z"/><path d="M62.2 267V263.3L62.2 263.3L62.6 263.3V267Z"/><path d="M62.2 267V263.3L63.4 263.5L63.8 263.5V267Z"/><path d="M63.4 267V263.5L64.6 263.6L64.9 263.5V267Z"/><path d="M64.6 267V263.6L64.6 263.6L65 263.5V267Z"/><path d="M64.6 267V263.6L65.8 263.1L66.1 262.9V267Z"/><path d="M65.8 267V263.1L66.4 262.8L66.8 263V267Z"/><path d="M66.4 267V262.8L67 263.1L67.3 263.2V267Z"/><path d="M67 267V263.1L68.2 263.6L68.5 263.4V267Z"/><path d="M68.2 267V263.6L68.2 263.6L68.6 263.4V267Z"/><path d="M68.2 267V263.6L69.4 262.9L69.8 262.6V267Z"/><path d="M69.4 267V262.9L70.1 262.4L70.4 262.5V267Z"/><path d="M70.1 267V262.4L70.6 262.6L70.9 262.7V267Z"/><path d="M70.6 267V262.6L71.8 263L72.1 263.2V267Z"/><path d="M71.8 267V263L71.9 263L72.2 263.2V267Z"/><path d="M71.9 267V263L73 263.5L73.3 263.7V267Z"/><path d="M73 267V263.5L74.1 264L74.4 263.8V267Z"/><path d="M74.1 267V264L74.2 263.9L74.5 263.7V267Z"/><path d="M74.2 267V263.9L75.4 263.2L75.8 263V267Z"/><path d="M75.4 267V263.2L75.8 263L76.1 263.2V267Z"/><path d="M75.8 267V263L76.6 263.4L76.9 263.6V267Z"/><path d="M76.6 267V263.4L77.8 263.9L78.2 263.9V267Z"/><path d="M77.8 267V263.9L77.9 264L78.3 263.9V267Z"/><path d="M77.9 267V264L79 263.7L79.3 263.6V267Z"/><path d="M79 267V263.7L80.2 263.3L80.5 263.3V267Z"/><path d="M80.2 267V263.3L80.4 263.3L80.7 263.4V267Z"/><path d="M80.4 267V263.3L81.4 263.6L81.8 263.7V267Z"/><path d="M81.4 267V263.6L82.6 263.9L82.9 263.9V267Z"/><path d="M82.6 267V263.9L82.8 264L83.1 263.9V267Z"/><path d="M82.8 267V264L83.8 263.6L84.2 263.5V267Z"/><path d="M83.8 267V263.6L85 263.1L85.3 263V267Z"/><path d="M85 267V263.1L85.2 263L85.6 262.9V267Z"/><path d="M85.2 267V263L86.2 262.6L86.5 262.4V267Z"/><path d="M86.2 267V262.6L87.4 262.1L87.7 262.4V267Z"/><path d="M87.4 267V262.1L87.4 262.1L87.8 262.4V267Z"/><path d="M87.4 267V262.1L88.6 263.2L88.9 263.5V267Z"/><path d="M88.6 267V263.2L89.1 263.6L89.4 263.5V267Z"/><path d="M89.1 267V263.6L89.8 263.4L90.2 263.3V267Z"/><path d="M89.8 267V263.4L91 263.1L91.3 263V267Z"/><path d="M91 267V263.1L91.3 263L91.6 262.9V267Z"/><path d="M91.3 267V263L92.2 262.8L92.5 262.7V267Z"/><path d="M92.2 267V262.8L93.4 262.5L93.8 262.4V267Z"/><path d="M93.4 267V262.5L93.7 262.4L94 262.4V267Z"/><path d="M93.7 267V262.4L94.6 262.3L94.9 262.2V267Z"/><path d="M94.6 267V262.3L95.8 262.1L96.2 261.9V267Z"/><path d="M95.8 267V262.1L95.9 262.1L96.2 261.9V267Z"/><path d="M95.9 267V262.1L97 261.4L97.3 261.2V267Z"/><path d="M97 267V261.4L97.3 261.2L97.7 261.6V267Z"/><path d="M97.3 267V261.2L98.2 262.1L98.5 262.4V267Z"/><path d="M98.2 267V262.1L99.2 263L99.5 263.1V267Z"/><path d="M99.2 267V263L99.4 263.1L99.8 263.1V267Z"/><path d="M99.4 267V263.1L100.6 263.2L100.9 263.3V267Z"/><path d="M100.6 267V263.2L101 263.3L101.3 263.4V267Z"/><path d="M101 267V263.3L101.8 263.6L102.1 263.7V267Z"/><path d="M101.8 267V263.6L103 264.1L103.3 264.2V267Z"/><path d="M103 267V264.1L103.4 264.2L103.7 264.5V267Z"/><path d="M103.4 267V264.2L104.2 264.8L104.5 265V267Z"/><path d="M104.2 267V264.8L105.2 265.5L105.6 265.5V267Z"/><path d="M105.2 267V265.5L105.4 265.5L105.8 265.6V267Z"/><path d="M105.4 267V265.5L106.4 265.7L106.8 265.7V267Z"/><path d="M106.4 267V265.7L106.6 265.7L106.9 265.7V267Z"/><path d="M106.6 267V265.7L107 265.7L107 265.7V267Z"/></g>
<path d="M44.2 264.85 L45.4 265.3 L45.82 265.45 L46.6 264.93 L47.64 264.24 L47.8 264.2 L49 263.9 L50.06 263.64 L50.2 263.6 L51.4 263.3 L52.48 263.03 L52.6 263.06 L53.8 263.36 L54.91 263.64 L55 263.61 L56.2 263.31 L57.33 263.03 L57.4 263.06 L58.6 263.54 L59.76 264 L59.8 263.99 L61 263.63 L62.18 263.27 L62.2 263.28 L63.4 263.46 L64.6 263.64 L64.61 263.64 L65.8 263.08 L66.42 262.79 L67 263.06 L68.2 263.62 L68.24 263.64 L69.4 262.86 L70.06 262.42 L70.6 262.6 L71.8 263 L71.88 263.03 L73 263.53 L74.06 264 L74.2 263.92 L75.4 263.23 L75.76 263.03 L76.6 263.4 L77.8 263.94 L77.94 264 L79 263.68 L80.2 263.32 L80.36 263.27 L81.4 263.58 L82.6 263.94 L82.79 264 L83.8 263.6 L85 263.12 L85.21 263.03 L86.2 262.59 L87.39 262.06 L87.4 262.07 L88.6 263.18 L89.09 263.64 L89.8 263.44 L91 263.11 L91.27 263.03 L92.2 262.8 L93.4 262.5 L93.7 262.42 L94.6 262.27 L95.8 262.07 L95.88 262.06 L97 261.41 L97.33 261.21 L98.2 262.08 L99.15 263.03 L99.4 263.06 L100.6 263.22 L100.97 263.27 L101.8 263.6 L103 264.08 L103.39 264.24 L104.2 264.78 L105.21 265.45 L105.4 265.49 L106.42 265.7 L106.6 265.7 L107 265.7" fill="none" stroke="#2a0a3a" stroke-width="0.7" stroke-linejoin="round"/>
<line x1="44.2" y1="266.55" x2="107" y2="266.55" stroke="#b01e98" stroke-width="0.9"/>
<text x="41.2" y="235.5" font-size="5" text-anchor="end" fill="#8d3e9c" stroke="#8d3e9c" stroke-width="0.12">75</text>
<text x="41.2" y="267" font-size="5" text-anchor="end" fill="#8d3e9c" stroke="#8d3e9c" stroke-width="0.12">0</text>
<line x1="30.3" y1="157.9" x2="30.3" y2="267.8" stroke="#555" stroke-width="0.9"/>
<text x="13.9" y="212.4" font-size="6.4" fill="#222" stroke="#222" stroke-width="0.12">IFNβ</text>
<rect x="68.3" y="42.2" width="8.2" height="226.8" fill="none" stroke="#ee6a78" stroke-width="1.0" stroke-opacity="0.75"/>
<text x="54.8" y="275.8" font-size="4.9" fill="#333" stroke="#333" stroke-width="0.12" font-style="italic">Cxcl10 promoter</text>
<text x="126.4" y="23.3" font-size="12.5" font-weight="bold" fill="#000">B</text>
<text x="195.8" y="19" font-size="6.5" fill="#231f20" stroke="#231f20" stroke-width="0.12">H3K27ac</text>
<text x="131" y="29.9" font-size="5" fill="#333" stroke="#333" stroke-width="0.12">Scale</text>
<text x="160.3" y="27.3" font-size="4.6" fill="#333" stroke="#333" stroke-width="0.12">10 kb</text>
<line x1="154.6" y1="29.4" x2="178.5" y2="29.4" stroke="#444" stroke-width="0.6"/>
<line x1="154.6" y1="28.6" x2="154.6" y2="30.2" stroke="#444" stroke-width="0.5"/>
<line x1="178.5" y1="28.6" x2="178.5" y2="30.2" stroke="#444" stroke-width="0.5"/>
<text x="132.3" y="37.7" font-size="5" fill="#333" stroke="#333" stroke-width="0.12">Chr5</text>
<text x="164.2" y="37.2" font-size="4.25" text-anchor="middle" fill="#222" stroke="#222" stroke-width="0.12">92,340,000</text>
<text x="187.6" y="37.2" font-size="4.25" text-anchor="middle" fill="#222" stroke="#222" stroke-width="0.12">92,350,000</text>
<text x="213.4" y="37.2" font-size="4.25" text-anchor="middle" fill="#222" stroke="#222" stroke-width="0.12">92,360,000</text>
<text x="237.4" y="37.2" font-size="4.25" text-anchor="middle" fill="#222" stroke="#222" stroke-width="0.12">92,370,000</text>
<text x="262" y="37.2" font-size="4.25" text-anchor="middle" fill="#222" stroke="#222" stroke-width="0.12">92,380,000</text>
<line x1="168.2" y1="39.4" x2="168.2" y2="40.6" stroke="#444" stroke-width="0.6"/>
<line x1="191.3" y1="39.4" x2="191.3" y2="40.6" stroke="#444" stroke-width="0.6"/>
<line x1="214.3" y1="39.4" x2="214.3" y2="40.6" stroke="#444" stroke-width="0.6"/>
<line x1="237.4" y1="39.4" x2="237.4" y2="40.6" stroke="#444" stroke-width="0.6"/>
<line x1="260.4" y1="39.4" x2="260.4" y2="40.6" stroke="#444" stroke-width="0.6"/>
<rect x="158.5" y="41" width="115.3" height="36.3" fill="#ebebf6"/>
<rect x="158.5" y="118.8" width="115.3" height="34.9" fill="#ebebf6"/>
<g fill="url(#cgb)"><path d="M158.5 77.3V76L159.7 76L160 76V77.3Z"/><path d="M159.7 77.3V76L160.9 76L161.2 76V77.3Z"/><path d="M160.9 77.3V76L162.1 76L162.4 76V77.3Z"/><path d="M162.1 77.3V76L163.3 76L163.7 76V77.3Z"/><path d="M163.3 77.3V76L164.5 76L164.8 76V77.3Z"/><path d="M164.5 77.3V76L164.7 76L165 76V77.3Z"/><path d="M164.7 77.3V76L165.7 76L166 76V77.3Z"/><path d="M165.7 77.3V76L166.9 76L167.2 76V77.3Z"/><path d="M166.9 77.3V76L168.1 76L168.4 76V77.3Z"/><path d="M168.1 77.3V76L169.3 76L169.7 76V77.3Z"/><path d="M169.3 77.3V76L170.5 76L170.8 76V77.3Z"/><path d="M170.5 77.3V76L171.4 76L171.7 76V77.3Z"/><path d="M171.4 77.3V76L171.7 76L172 76V77.3Z"/><path d="M171.7 77.3V76L172.9 76L173.2 76V77.3Z"/><path d="M172.9 77.3V76L174.1 76L174.4 76V77.3Z"/><path d="M174.1 77.3V76L175.3 76L175.7 76V77.3Z"/><path d="M175.3 77.3V76L176.5 76L176.8 76V77.3Z"/><path d="M176.5 77.3V76L177.7 76L178 76V77.3Z"/><path d="M177.7 77.3V76L178.1 76L178.4 76V77.3Z"/><path d="M178.1 77.3V76L178.9 75.9L179.2 75.9V77.3Z"/><path d="M178.9 77.3V75.9L180.1 75.8L180.4 75.7V77.3Z"/><path d="M180.1 77.3V75.8L181.3 75.6L181.7 75.6V77.3Z"/><path d="M181.3 77.3V75.6L181.4 75.6L181.8 75.5V77.3Z"/><path d="M181.4 77.3V75.6L182.5 75.3L182.8 75.2V77.3Z"/><path d="M182.5 77.3V75.3L183.7 74.9L184 74.8V77.3Z"/><path d="M183.7 77.3V74.9L184.8 74.5L185.1 74.2V77.3Z"/><path d="M184.8 77.3V74.5L184.9 74.4L185.2 74.1V77.3Z"/><path d="M184.9 77.3V74.4L186.1 73.4L186.4 73.1V77.3Z"/><path d="M186.1 77.3V73.4L187.3 72.4L187.7 72V77.3Z"/><path d="M187.3 77.3V72.4L187.5 72.3L187.8 71.7V77.3Z"/><path d="M187.5 77.3V72.3L188.5 70.5L188.8 69.9V77.3Z"/><path d="M188.5 77.3V70.5L189.7 68.5L190 69.2V77.3Z"/><path d="M189.7 77.3V68.5L189.7 68.5L190 69.2V77.3Z"/><path d="M189.7 77.3V68.5L190.9 71L191.2 71.8V77.3Z"/><path d="M190.9 77.3V71L191.5 72.3L191.8 72.6V77.3Z"/><path d="M191.5 77.3V72.3L192.1 72.9L192.4 73.2V77.3Z"/><path d="M192.1 77.3V72.9L193.3 74.1L193.7 74.4V77.3Z"/><path d="M193.3 77.3V74.1L193.7 74.5L194.1 74.1V77.3Z"/><path d="M193.7 77.3V74.5L194.5 73.7L194.8 73.3V77.3Z"/><path d="M194.5 77.3V73.7L195.7 72.4L196 72V77.3Z"/><path d="M195.7 77.3V72.4L196.4 71.6L196.7 71.2V77.3Z"/><path d="M196.4 77.3V71.6L196.9 71L197.2 70.6V77.3Z"/><path d="M196.9 77.3V71L198.1 69.6L198.4 69.1V77.3Z"/><path d="M198.1 77.3V69.6L198.6 68.9L199 69.6V77.3Z"/><path d="M198.6 77.3V68.9L199.3 70.3L199.7 71V77.3Z"/><path d="M199.3 77.3V70.3L200.5 72.7L200.8 73.4V77.3Z"/><path d="M200.5 77.3V72.7L200.9 73.4L201.2 73.7V77.3Z"/><path d="M200.9 77.3V73.4L201.7 74.2L202 74.5V77.3Z"/><path d="M201.7 77.3V74.2L202.9 75.2L203.2 75.5V77.3Z"/><path d="M202.9 77.3V75.2L203.8 76L204.1 76V77.3Z"/><path d="M203.8 77.3V76L204.1 76L204.4 76V77.3Z"/><path d="M204.1 77.3V76L205.3 76L205.7 76V77.3Z"/><path d="M205.3 77.3V76L206.5 76L206.8 76V77.3Z"/><path d="M206.5 77.3V76L207.7 76L208 76V77.3Z"/><path d="M207.7 77.3V76L208.9 76L209.2 76V77.3Z"/><path d="M208.9 77.3V76L209.3 76L209.7 76V77.3Z"/><path d="M209.3 77.3V76L210.1 76L210.4 76V77.3Z"/><path d="M210.1 77.3V76L211.3 76L211.7 76V77.3Z"/><path d="M211.3 77.3V76L212.5 76L212.8 76V77.3Z"/><path d="M212.5 77.3V76L213.7 76L214 76V77.3Z"/><path d="M213.7 77.3V76L214.9 76L215.2 75.9V77.3Z"/><path d="M214.9 77.3V76L214.9 76L215.3 75.9V77.3Z"/><path d="M214.9 77.3V76L216.1 75.6L216.4 75.4V77.3Z"/><path d="M216.1 77.3V75.6L217.2 75.2L217.5 75.2V77.3Z"/><path d="M217.2 77.3V75.2L217.3 75.2L217.7 75.2V77.3Z"/><path d="M217.3 77.3V75.2L218.5 75.2L218.8 75.2V77.3Z"/><path d="M218.5 77.3V75.2L219.7 75.2L220 75.2V77.3Z"/><path d="M219.7 77.3V75.2L220.9 75.2L221.2 75.2V77.3Z"/><path d="M220.9 77.3V75.2L222.1 75.2L222.4 75.2V77.3Z"/><path d="M222.1 77.3V75.2L222.7 75.2L223.1 75.1V77.3Z"/><path d="M222.7 77.3V75.2L223.3 75.1L223.7 75V77.3Z"/><path d="M223.3 77.3V75.1L224.5 74.9L224.8 74.9V77.3Z"/><path d="M224.5 77.3V74.9L225.7 74.7L226 74.7V77.3Z"/><path d="M225.7 77.3V74.7L226.9 74.6L227.2 74.5V77.3Z"/><path d="M226.9 77.3V74.6L227.2 74.5L227.5 74.3V77.3Z"/><path d="M227.2 77.3V74.5L228.1 73.9L228.4 73.7V77.3Z"/><path d="M228.1 77.3V73.9L229.3 73.1L229.7 72.9V77.3Z"/><path d="M229.3 77.3V73.1L230.5 72.3L230.8 71.9V77.3Z"/><path d="M230.5 77.3V72.3L230.5 72.3L230.9 71.8V77.3Z"/><path d="M230.5 77.3V72.3L231.7 70.8L232 70.3V77.3Z"/><path d="M231.7 77.3V70.8L232.8 69.4L233.1 69.2V77.3Z"/><path d="M232.8 77.3V69.4L232.9 69.3L233.2 69.2V77.3Z"/><path d="M232.9 77.3V69.3L234.1 68.8L234.4 68.7V77.3Z"/><path d="M234.1 77.3V68.8L235 68.5L235.4 68.8V77.3Z"/><path d="M235 77.3V68.5L235.3 68.8L235.7 69.1V77.3Z"/><path d="M235.3 77.3V68.8L236.5 70L236.8 70.3V77.3Z"/><path d="M236.5 77.3V70L237.2 70.7L237.6 71.1V77.3Z"/><path d="M237.2 77.3V70.7L237.7 71.3L238 71.7V77.3Z"/><path d="M237.7 77.3V71.3L238.9 72.7L239.2 73.1V77.3Z"/><path d="M238.9 77.3V72.7L239.5 73.4L239.8 73.5V77.3Z"/><path d="M239.5 77.3V73.4L240.1 73.6L240.4 73.8V77.3Z"/><path d="M240.1 77.3V73.6L241.3 74.1L241.7 74.3V77.3Z"/><path d="M241.3 77.3V74.1L242.5 74.6L242.8 74.7V77.3Z"/><path d="M242.5 77.3V74.6L242.8 74.7L243.2 74.8V77.3Z"/><path d="M242.8 77.3V74.7L243.7 74.8L244 74.9V77.3Z"/><path d="M243.7 77.3V74.8L244.9 74.9L245.2 75V77.3Z"/><path d="M244.9 77.3V74.9L246.1 75.1L246.4 75.1V77.3Z"/><path d="M246.1 77.3V75.1L247.3 75.2L247.6 75.2V77.3Z"/><path d="M247.3 77.3V75.2L247.3 75.2L247.7 75.2V77.3Z"/><path d="M247.3 77.3V75.2L248.5 75.3L248.8 75.3V77.3Z"/><path d="M248.5 77.3V75.3L249.7 75.4L250 75.5V77.3Z"/><path d="M249.7 77.3V75.4L250.9 75.5L251.2 75.6V77.3Z"/><path d="M250.9 77.3V75.5L251.8 75.6L252.1 75.6V77.3Z"/><path d="M251.8 77.3V75.6L252.1 75.6L252.4 75.6V77.3Z"/><path d="M252.1 77.3V75.6L253.3 75.5L253.7 75.4V77.3Z"/><path d="M253.3 77.3V75.5L254.5 75.4L254.8 75.3V77.3Z"/><path d="M254.5 77.3V75.4L255.7 75.2L256.1 75.2V77.3Z"/><path d="M255.7 77.3V75.2L256.2 75.2L256.6 75.2V77.3Z"/><path d="M256.2 77.3V75.2L256.9 75.3L257.2 75.4V77.3Z"/><path d="M256.9 77.3V75.3L258.1 75.5L258.5 75.6V77.3Z"/><path d="M258.1 77.3V75.5L259.3 75.7L259.7 75.8V77.3Z"/><path d="M259.3 77.3V75.7L260.5 76L260.9 76V77.3Z"/><path d="M260.5 77.3V76L260.7 76L261 76V77.3Z"/><path d="M260.7 77.3V76L261.7 76L262.1 76V77.3Z"/><path d="M261.7 77.3V76L262.9 76L263.2 76V77.3Z"/><path d="M262.9 77.3V76L264.1 76L264.5 76V77.3Z"/><path d="M264.1 77.3V76L265.1 76L265.5 76V77.3Z"/><path d="M265.1 77.3V76L265.3 76L265.7 76V77.3Z"/><path d="M265.3 77.3V76L266.5 76L266.9 76V77.3Z"/><path d="M266.5 77.3V76L267.7 76L268.1 76V77.3Z"/><path d="M267.7 77.3V76L268.9 76L269.2 76V77.3Z"/><path d="M268.9 77.3V76L269.6 76L270 76V77.3Z"/><path d="M269.6 77.3V76L270.1 76L270.5 76V77.3Z"/><path d="M270.1 77.3V76L271.3 76L271.7 76V77.3Z"/><path d="M271.3 77.3V76L272.5 76L272.9 76V77.3Z"/><path d="M272.5 77.3V76L273 76L273.3 76V77.3Z"/><path d="M273 77.3V76L273.7 76L273.8 76V77.3Z"/><path d="M273.7 77.3V76L273.8 76L273.8 76V77.3Z"/></g>
<path d="M158.5 76 L159.7 76 L160.9 76 L162.1 76 L163.3 76 L164.5 76 L164.7 76 L165.7 76 L166.9 76 L168.1 76 L169.3 76 L170.5 76 L171.39 76 L171.7 76 L172.9 76 L174.1 76 L175.3 76 L176.5 76 L177.7 76 L178.09 76 L178.9 75.91 L180.1 75.77 L181.3 75.64 L181.44 75.62 L182.5 75.27 L183.7 74.87 L184.79 74.51 L184.9 74.41 L186.1 73.41 L187.3 72.41 L187.46 72.28 L188.5 70.52 L189.7 68.48 L189.7 68.49 L190.9 71.04 L191.48 72.28 L192.1 72.89 L193.3 74.09 L193.71 74.51 L194.5 73.66 L195.7 72.36 L196.39 71.61 L196.9 71 L198.1 69.56 L198.62 68.93 L199.3 70.28 L200.5 72.68 L200.86 73.39 L201.7 74.15 L202.9 75.23 L203.76 76 L204.1 76 L205.3 76 L206.5 76 L207.7 76 L208.9 76 L209.34 76 L210.1 76 L211.3 76 L212.5 76 L213.7 76 L214.9 76 L214.92 76 L216.1 75.57 L217.15 75.18 L217.3 75.18 L218.5 75.18 L219.7 75.18 L220.9 75.18 L222.1 75.18 L222.73 75.18 L223.3 75.09 L224.5 74.91 L225.7 74.73 L226.9 74.55 L227.2 74.51 L228.1 73.91 L229.3 73.11 L230.5 72.31 L230.54 72.28 L231.7 70.77 L232.78 69.38 L232.9 69.33 L234.1 68.85 L235.01 68.48 L235.3 68.77 L236.5 69.97 L237.24 70.71 L237.7 71.27 L238.9 72.7 L239.47 73.39 L240.1 73.64 L241.3 74.12 L242.5 74.6 L242.82 74.73 L243.7 74.82 L244.9 74.94 L246.1 75.06 L247.29 75.18 L247.3 75.18 L248.5 75.3 L249.7 75.42 L250.9 75.54 L251.75 75.62 L252.1 75.59 L253.3 75.47 L254.5 75.35 L255.7 75.23 L256.21 75.18 L256.9 75.3 L258.1 75.53 L259.3 75.75 L260.5 75.97 L260.68 76 L261.7 76 L262.9 76 L264.1 76 L265.14 76 L265.3 76 L266.5 76 L267.7 76 L268.9 76 L269.61 76 L270.1 76 L271.3 76 L272.5 76 L272.96 76 L273.7 76 L273.8 76" fill="none" stroke="#141550" stroke-width="0.7" stroke-linejoin="round"/>
<line x1="158.5" y1="76.85" x2="273.8" y2="76.85" stroke="#1c1e68" stroke-width="0.9"/>
<text x="154.6" y="46" font-size="5" text-anchor="end" fill="#3e4f9e" stroke="#3e4f9e" stroke-width="0.12">200</text>
<text x="154.6" y="77.3" font-size="5" text-anchor="end" fill="#3e4f9e" stroke="#3e4f9e" stroke-width="0.12">0</text>
<g fill="url(#cgr)"><path d="M158.5 115.7V114.4L159.7 114.4L160 114.4V115.7Z"/><path d="M159.7 115.7V114.4L160.9 114.4L161.2 114.4V115.7Z"/><path d="M160.9 115.7V114.4L162.1 114.4L162.4 114.4V115.7Z"/><path d="M162.1 115.7V114.4L163.3 114.4L163.7 114.4V115.7Z"/><path d="M163.3 115.7V114.4L164.5 114.4L164.8 114.4V115.7Z"/><path d="M164.5 115.7V114.4L164.7 114.4L165 114.4V115.7Z"/><path d="M164.7 115.7V114.4L165.7 114.4L166 114.4V115.7Z"/><path d="M165.7 115.7V114.4L166.9 114.3L167.2 114.3V115.7Z"/><path d="M166.9 115.7V114.3L168.1 114.3L168.4 114.3V115.7Z"/><path d="M168.1 115.7V114.3L169.3 114.3L169.7 114.2V115.7Z"/><path d="M169.3 115.7V114.3L170.5 114.2L170.8 114.2V115.7Z"/><path d="M170.5 115.7V114.2L171.4 114.2L171.7 114.2V115.7Z"/><path d="M171.4 115.7V114.2L171.7 114.2L172 114.2V115.7Z"/><path d="M171.7 115.7V114.2L172.9 114.1L173.2 114.1V115.7Z"/><path d="M172.9 115.7V114.1L174.1 114L174.4 114V115.7Z"/><path d="M174.1 115.7V114L175.3 113.9L175.7 113.9V115.7Z"/><path d="M175.3 115.7V113.9L176.5 113.9L176.8 113.8V115.7Z"/><path d="M176.5 115.7V113.9L177.7 113.8L178 113.8V115.7Z"/><path d="M177.7 115.7V113.8L178.1 113.8L178.4 113.7V115.7Z"/><path d="M178.1 115.7V113.8L178.9 113.5L179.2 113.4V115.7Z"/><path d="M178.9 115.7V113.5L180.1 113.2L180.4 113.1V115.7Z"/><path d="M180.1 115.7V113.2L181.3 112.9L181.7 112.8V115.7Z"/><path d="M181.3 115.7V112.9L181.4 112.9L181.8 112.8V115.7Z"/><path d="M181.4 115.7V112.9L182.5 112.6L182.8 112.5V115.7Z"/><path d="M182.5 115.7V112.6L183.7 112.3L184 112.2V115.7Z"/><path d="M183.7 115.7V112.3L184.8 112L185.1 111.8V115.7Z"/><path d="M184.8 115.7V112L184.9 111.9L185.2 111.7V115.7Z"/><path d="M184.9 115.7V111.9L186.1 111.3L186.4 111.1V115.7Z"/><path d="M186.1 115.7V111.3L187.3 110.6L187.7 110.4V115.7Z"/><path d="M187.3 115.7V110.6L188.1 110.2L188.5 109.9V115.7Z"/><path d="M188.1 115.7V110.2L188.5 109.9L188.8 109.6V115.7Z"/><path d="M188.5 115.7V109.9L189.7 108.8L190 109.2V115.7Z"/><path d="M189.7 115.7V108.8L189.7 108.8L190 109.2V115.7Z"/><path d="M189.7 115.7V108.8L190.9 110L191.2 110.4V115.7Z"/><path d="M190.9 115.7V110L191.9 111.1L192.3 111.2V115.7Z"/><path d="M191.9 115.7V111.1L192.1 111.2L192.4 111.3V115.7Z"/><path d="M192.1 115.7V111.2L193.3 111.7L193.7 111.9V115.7Z"/><path d="M193.3 115.7V111.7L194.5 112.3L194.8 112.4V115.7Z"/><path d="M194.5 115.7V112.3L194.8 112.4L195.2 112.1V115.7Z"/><path d="M194.8 115.7V112.4L195.7 111.5L196 111.2V115.7Z"/><path d="M195.7 115.7V111.5L196.9 110.3L197.2 110.1V115.7Z"/><path d="M196.9 115.7V110.3L197.1 110.2L197.4 110.1V115.7Z"/><path d="M197.1 115.7V110.2L198.1 109.9L198.4 109.8V115.7Z"/><path d="M198.1 115.7V109.9L198.6 109.7L199 110.2V115.7Z"/><path d="M198.6 115.7V109.7L199.3 110.5L199.7 111V115.7Z"/><path d="M199.3 115.7V110.5L200.5 112L200.8 112.4V115.7Z"/><path d="M200.5 115.7V112L200.9 112.4L201.2 112.5V115.7Z"/><path d="M200.9 115.7V112.4L201.7 112.6L202 112.7V115.7Z"/><path d="M201.7 115.7V112.6L202.9 112.9L203.2 112.9V115.7Z"/><path d="M202.9 115.7V112.9L204.1 113.1L204.4 113.2V115.7Z"/><path d="M204.1 115.7V113.1L204.9 113.3L205.2 113.3V115.7Z"/><path d="M204.9 115.7V113.3L205.3 113.3L205.7 113.3V115.7Z"/><path d="M205.3 115.7V113.3L206.5 113.3L206.8 113.3V115.7Z"/><path d="M206.5 115.7V113.3L207.7 113.3L208 113.3V115.7Z"/><path d="M207.7 115.7V113.3L208.9 113.3L209.2 113.3V115.7Z"/><path d="M208.9 115.7V113.3L209.3 113.3L209.7 113.3V115.7Z"/><path d="M209.3 115.7V113.3L210.1 113.4L210.4 113.4V115.7Z"/><path d="M210.1 115.7V113.4L211.3 113.5L211.7 113.5V115.7Z"/><path d="M211.3 115.7V113.5L212.5 113.6L212.8 113.7V115.7Z"/><path d="M212.5 115.7V113.6L213.7 113.7L214 113.7V115.7Z"/><path d="M213.7 115.7V113.7L213.8 113.8L214.2 113.6V115.7Z"/><path d="M213.8 115.7V113.8L214.9 113.3L215.2 113.2V115.7Z"/><path d="M214.9 115.7V113.3L216.1 112.8L216.4 112.7V115.7Z"/><path d="M216.1 115.7V112.8L217.2 112.4L217.5 112.5V115.7Z"/><path d="M217.2 115.7V112.4L217.3 112.5L217.7 112.5V115.7Z"/><path d="M217.3 115.7V112.5L218.5 112.8L218.8 112.9V115.7Z"/><path d="M218.5 115.7V112.8L219.7 113.1L220 113.2V115.7Z"/><path d="M219.7 115.7V113.1L220.5 113.3L220.8 113.3V115.7Z"/><path d="M220.5 115.7V113.3L220.9 113.3L221.2 113.2V115.7Z"/><path d="M220.9 115.7V113.3L222.1 113.1L222.4 113.1V115.7Z"/><path d="M222.1 115.7V113.1L223.3 113L223.7 113V115.7Z"/><path d="M223.3 115.7V113L224.5 112.9L224.8 112.9V115.7Z"/><path d="M224.5 115.7V112.9L225 112.9L225.3 112.7V115.7Z"/><path d="M225 115.7V112.9L225.7 112.6L226 112.4V115.7Z"/><path d="M225.7 115.7V112.6L226.9 112.1L227.2 111.9V115.7Z"/><path d="M226.9 115.7V112.1L228.1 111.6L228.4 111.5V115.7Z"/><path d="M228.1 115.7V111.6L229.3 111.1L229.7 110.9V115.7Z"/><path d="M229.3 115.7V111.1L229.4 111.1L229.8 110.7V115.7Z"/><path d="M229.4 115.7V111.1L230.5 110.1L230.8 109.7V115.7Z"/><path d="M230.5 115.7V110.1L231.7 109L232 108.6V115.7Z"/><path d="M231.7 115.7V109L232.8 107.9L233.1 107.8V115.7Z"/><path d="M232.8 115.7V107.9L232.9 107.9L233.2 107.8V115.7Z"/><path d="M232.9 115.7V107.9L234.1 107.5L234.4 107.4V115.7Z"/><path d="M234.1 115.7V107.5L235 107.3L235.4 107.5V115.7Z"/><path d="M235 115.7V107.3L235.3 107.5L235.7 107.7V115.7Z"/><path d="M235.3 115.7V107.5L236.5 108.3L236.8 108.6V115.7Z"/><path d="M236.5 115.7V108.3L237.2 108.8L237.6 109.3V115.7Z"/><path d="M237.2 115.7V108.8L237.7 109.4L238 109.9V115.7Z"/><path d="M237.7 115.7V109.4L238.9 111L239.2 111.5V115.7Z"/><path d="M238.9 115.7V111L239.5 111.7L239.8 111.9V115.7Z"/><path d="M239.5 115.7V111.7L240.1 112L240.4 112.1V115.7Z"/><path d="M240.1 115.7V112L241.3 112.4L241.7 112.5V115.7Z"/><path d="M241.3 115.7V112.4L242.5 112.8L242.8 112.9V115.7Z"/><path d="M242.5 115.7V112.8L242.8 112.9L243.2 112.9V115.7Z"/><path d="M242.8 115.7V112.9L243.7 112.9L244 113V115.7Z"/><path d="M243.7 115.7V112.9L244.9 113.1L245.2 113.1V115.7Z"/><path d="M244.9 115.7V113.1L246.1 113.2L246.4 113.2V115.7Z"/><path d="M246.1 115.7V113.2L247.3 113.3L247.6 113.3V115.7Z"/><path d="M247.3 115.7V113.3L247.3 113.3L247.7 113.3V115.7Z"/><path d="M247.3 115.7V113.3L248.5 113.4L248.8 113.4V115.7Z"/><path d="M248.5 115.7V113.4L249.7 113.4L250 113.4V115.7Z"/><path d="M249.7 115.7V113.4L250.9 113.5L251.2 113.5V115.7Z"/><path d="M250.9 115.7V113.5L251.8 113.5L252.1 113.5V115.7Z"/><path d="M251.8 115.7V113.5L252.1 113.5L252.4 113.6V115.7Z"/><path d="M252.1 115.7V113.5L253.3 113.6L253.7 113.6V115.7Z"/><path d="M253.3 115.7V113.6L254.5 113.7L254.8 113.7V115.7Z"/><path d="M254.5 115.7V113.7L255.7 113.7L256.1 113.7V115.7Z"/><path d="M255.7 115.7V113.7L256.2 113.8L256.6 113.8V115.7Z"/><path d="M256.2 115.7V113.8L256.9 113.8L257.2 113.8V115.7Z"/><path d="M256.9 115.7V113.8L258.1 113.8L258.5 113.8V115.7Z"/><path d="M258.1 115.7V113.8L259.3 113.9L259.7 113.9V115.7Z"/><path d="M259.3 115.7V113.9L260.5 113.9L260.9 113.9V115.7Z"/><path d="M260.5 115.7V113.9L261.7 113.9L262.1 113.9V115.7Z"/><path d="M261.7 115.7V113.9L262.9 114L263.2 114V115.7Z"/><path d="M262.9 115.7V114L262.9 114L263.3 114V115.7Z"/><path d="M262.9 115.7V114L264.1 114L264.5 114V115.7Z"/><path d="M264.1 115.7V114L265.3 114.1L265.7 114.1V115.7Z"/><path d="M265.3 115.7V114.1L266.5 114.1L266.9 114.1V115.7Z"/><path d="M266.5 115.7V114.1L267.7 114.1L268.1 114.1V115.7Z"/><path d="M267.7 115.7V114.1L268.9 114.2L269.2 114.2V115.7Z"/><path d="M268.9 115.7V114.2L269.6 114.2L270 114.2V115.7Z"/><path d="M269.6 115.7V114.2L270.1 114.2L270.5 114.2V115.7Z"/><path d="M270.1 115.7V114.2L271.3 114.3L271.7 114.3V115.7Z"/><path d="M271.3 115.7V114.3L272.5 114.4L272.9 114.4V115.7Z"/><path d="M272.5 115.7V114.4L273 114.4L273.3 114.4V115.7Z"/><path d="M273 115.7V114.4L273.7 114.4L273.8 114.4V115.7Z"/><path d="M273.7 115.7V114.4L273.8 114.4L273.8 114.4V115.7Z"/></g>
<path d="M158.5 114.4 L159.7 114.4 L160.9 114.4 L162.1 114.4 L163.3 114.4 L164.5 114.4 L164.7 114.4 L165.7 114.37 L166.9 114.33 L168.1 114.3 L169.3 114.26 L170.5 114.22 L171.39 114.2 L171.7 114.18 L172.9 114.1 L174.1 114.02 L175.3 113.94 L176.5 113.86 L177.7 113.78 L178.09 113.75 L178.9 113.53 L180.1 113.21 L181.3 112.89 L181.44 112.86 L182.5 112.57 L183.7 112.25 L184.79 111.96 L184.9 111.9 L186.1 111.26 L187.3 110.62 L188.13 110.18 L188.5 109.86 L189.7 108.84 L189.7 108.84 L190.9 110.04 L191.93 111.07 L192.1 111.15 L193.3 111.7 L194.5 112.26 L194.83 112.41 L195.7 111.54 L196.9 110.34 L197.06 110.18 L198.1 109.88 L198.62 109.73 L199.3 110.54 L200.5 111.98 L200.86 112.41 L201.7 112.6 L202.9 112.86 L204.1 113.13 L204.88 113.3 L205.3 113.3 L206.5 113.3 L207.7 113.3 L208.9 113.3 L209.34 113.3 L210.1 113.38 L211.3 113.5 L212.5 113.62 L213.7 113.74 L213.8 113.75 L214.9 113.31 L216.1 112.83 L217.15 112.41 L217.3 112.45 L218.5 112.77 L219.7 113.09 L220.5 113.3 L220.9 113.26 L222.1 113.14 L223.3 113.02 L224.5 112.9 L224.96 112.86 L225.7 112.56 L226.9 112.08 L228.1 111.6 L229.3 111.12 L229.43 111.07 L230.5 110.07 L231.7 108.95 L232.78 107.95 L232.9 107.91 L234.1 107.55 L235.01 107.28 L235.3 107.48 L236.5 108.32 L237.24 108.84 L237.7 109.44 L238.9 111 L239.47 111.74 L240.1 111.95 L241.3 112.35 L242.5 112.75 L242.82 112.86 L243.7 112.95 L244.9 113.06 L246.1 113.19 L247.29 113.3 L247.3 113.3 L248.5 113.36 L249.7 113.42 L250.9 113.48 L251.75 113.53 L252.1 113.54 L253.3 113.6 L254.5 113.66 L255.7 113.72 L256.21 113.75 L256.9 113.77 L258.1 113.81 L259.3 113.85 L260.5 113.89 L261.7 113.93 L262.9 113.97 L262.91 113.97 L264.1 114.01 L265.3 114.05 L266.5 114.09 L267.7 114.13 L268.9 114.17 L269.61 114.2 L270.1 114.23 L271.3 114.3 L272.5 114.37 L272.96 114.4 L273.7 114.4 L273.8 114.4" fill="none" stroke="#4a0810" stroke-width="0.7" stroke-linejoin="round"/>
<line x1="158.5" y1="115.25" x2="273.8" y2="115.25" stroke="#c01424" stroke-width="0.9"/>
<text x="154.6" y="83.5" font-size="5" text-anchor="end" fill="#d8404c" stroke="#d8404c" stroke-width="0.12">200</text>
<text x="154.6" y="115.7" font-size="5" text-anchor="end" fill="#d8404c" stroke="#d8404c" stroke-width="0.12">0</text>
<g fill="url(#cgp)"><path d="M158.5 153.7V152.4L159.7 152.4L160 152.4V153.7Z"/><path d="M159.7 153.7V152.4L160.9 152.4L161.2 152.4V153.7Z"/><path d="M160.9 153.7V152.4L162.1 152.4L162.4 152.4V153.7Z"/><path d="M162.1 153.7V152.4L163.3 152.4L163.7 152.4V153.7Z"/><path d="M163.3 153.7V152.4L164.5 152.4L164.8 152.4V153.7Z"/><path d="M164.5 153.7V152.4L164.7 152.4L165 152.4V153.7Z"/><path d="M164.7 153.7V152.4L165.7 152.4L166 152.4V153.7Z"/><path d="M165.7 153.7V152.4L166.9 152.4L167.2 152.4V153.7Z"/><path d="M166.9 153.7V152.4L168.1 152.4L168.4 152.4V153.7Z"/><path d="M168.1 153.7V152.4L169.3 152.4L169.7 152.4V153.7Z"/><path d="M169.3 153.7V152.4L170.5 152.4L170.8 152.4V153.7Z"/><path d="M170.5 153.7V152.4L171.4 152.4L171.7 152.4V153.7Z"/><path d="M171.4 153.7V152.4L171.7 152.4L172 152.4V153.7Z"/><path d="M171.7 153.7V152.4L172.9 152.3L173.2 152.3V153.7Z"/><path d="M172.9 153.7V152.3L174.1 152.3L174.4 152.3V153.7Z"/><path d="M174.1 153.7V152.3L175.3 152.2L175.7 152.2V153.7Z"/><path d="M175.3 153.7V152.2L176.5 152.2L176.8 152.2V153.7Z"/><path d="M176.5 153.7V152.2L177.7 152.2L178 152.1V153.7Z"/><path d="M177.7 153.7V152.2L178.1 152.1L178.4 152V153.7Z"/><path d="M178.1 153.7V152.1L178.9 151.9L179.2 151.8V153.7Z"/><path d="M178.9 153.7V151.9L180.1 151.6L180.4 151.5V153.7Z"/><path d="M180.1 153.7V151.6L181.3 151.3L181.7 151V153.7Z"/><path d="M181.3 153.7V151.3L181.4 151.2L181.8 150.8V153.7Z"/><path d="M181.4 153.7V151.2L182.5 150L182.8 149.6V153.7Z"/><path d="M182.5 153.7V150L183.7 148.6L184 147.9V153.7Z"/><path d="M183.7 153.7V148.6L183.7 148.5L184 147.9V153.7Z"/><path d="M183.7 153.7V148.5L184.9 146.4L185.2 145.7V153.7Z"/><path d="M184.9 153.7V146.4L185.9 144.6L186.3 144.2V153.7Z"/><path d="M185.9 153.7V144.6L186.1 144.4L186.4 144V153.7Z"/><path d="M186.1 153.7V144.4L187.3 143.2L187.7 142.8V153.7Z"/><path d="M187.3 153.7V143.2L188.1 142.3L188.5 142.3V153.7Z"/><path d="M188.1 153.7V142.3L188.5 142.3L188.8 142.3V153.7Z"/><path d="M188.5 153.7V142.3L189.7 142.3L190 142.8V153.7Z"/><path d="M189.7 153.7V142.3L189.7 142.3L190 142.8V153.7Z"/><path d="M189.7 153.7V142.3L190.9 143.8L191.2 144.3V153.7Z"/><path d="M190.9 153.7V143.8L191.5 144.6L191.8 145.6V153.7Z"/><path d="M191.5 153.7V144.6L192.1 146.3L192.4 147.3V153.7Z"/><path d="M192.1 153.7V146.3L193.3 149.7L193.6 149.8V153.7Z"/><path d="M193.3 153.7V149.7L193.3 149.7L193.7 149.9V153.7Z"/><path d="M193.3 153.7V149.7L194.5 150.2L194.8 150.3V153.7Z"/><path d="M194.5 153.7V150.2L194.8 150.4L195.2 149.2V153.7Z"/><path d="M194.8 153.7V150.4L195.7 147.5L196 146.3V153.7Z"/><path d="M195.7 153.7V147.5L196.4 145.2L196.7 143.6V153.7Z"/><path d="M196.4 153.7V145.2L196.9 142.9L197.2 141.3V153.7Z"/><path d="M196.9 153.7V142.9L198.1 137.3L198.4 137.6V153.7Z"/><path d="M198.1 153.7V137.3L198.2 137L198.5 137.8V153.7Z"/><path d="M198.2 153.7V137L199.3 139.6L199.6 141.9V153.7Z"/><path d="M199.3 153.7V139.6L199.3 139.7L199.7 141.9V153.7Z"/><path d="M199.3 153.7V139.7L200.5 147.4L200.8 149.6V153.7Z"/><path d="M200.5 153.7V147.4L200.9 149.7L201.2 150V153.7Z"/><path d="M200.9 153.7V149.7L201.7 150.3L202 150.6V153.7Z"/><path d="M201.7 153.7V150.3L202.9 151.3L203.2 151.5V153.7Z"/><path d="M202.9 153.7V151.3L203.8 151.9L204.1 151.9V153.7Z"/><path d="M203.8 153.7V151.9L204.1 151.9L204.4 151.9V153.7Z"/><path d="M204.1 153.7V151.9L205.3 151.9L205.7 151.9V153.7Z"/><path d="M205.3 153.7V151.9L206.5 151.9L206.8 151.9V153.7Z"/><path d="M206.5 153.7V151.9L207.7 151.9L208 151.9V153.7Z"/><path d="M207.7 153.7V151.9L208.9 151.9L209.2 151.9V153.7Z"/><path d="M208.9 153.7V151.9L209.3 151.9L209.7 151.9V153.7Z"/><path d="M209.3 153.7V151.9L210.1 151.8L210.4 151.8V153.7Z"/><path d="M210.1 153.7V151.8L211.3 151.7L211.7 151.7V153.7Z"/><path d="M211.3 153.7V151.7L212.5 151.6L212.8 151.6V153.7Z"/><path d="M212.5 153.7V151.6L213.7 151.5L214 151.4V153.7Z"/><path d="M213.7 153.7V151.5L214.9 151.4L215.2 151.3V153.7Z"/><path d="M214.9 153.7V151.4L216 151.2L216.4 151.1V153.7Z"/><path d="M216 153.7V151.2L216.1 151.2L216.4 151.1V153.7Z"/><path d="M216.1 153.7V151.2L217.3 150.8L217.7 150.7V153.7Z"/><path d="M217.3 153.7V150.8L218.5 150.4L218.8 150.3V153.7Z"/><path d="M218.5 153.7V150.4L219.7 150L220 149.8V153.7Z"/><path d="M219.7 153.7V150L220.5 149.7L220.8 149.9V153.7Z"/><path d="M220.5 153.7V149.7L220.9 149.9L221.2 150V153.7Z"/><path d="M220.9 153.7V149.9L222.1 150.4L222.4 150.6V153.7Z"/><path d="M222.1 153.7V150.4L223.3 151L223.7 151.2V153.7Z"/><path d="M223.3 153.7V151L223.8 151.2L224.2 151.1V153.7Z"/><path d="M223.8 153.7V151.2L224.5 151L224.8 150.9V153.7Z"/><path d="M224.5 153.7V151L225.7 150.6L226 150.5V153.7Z"/><path d="M225.7 153.7V150.6L226.9 150.2L227.2 150.1V153.7Z"/><path d="M226.9 153.7V150.2L228.1 149.8L228.4 149.5V153.7Z"/><path d="M228.1 153.7V149.8L228.3 149.7L228.7 149.3V153.7Z"/><path d="M228.3 153.7V149.7L229.3 148.6L229.7 148.2V153.7Z"/><path d="M229.3 153.7V148.6L230.5 147.2L230.8 146.8V153.7Z"/><path d="M230.5 153.7V147.2L231.7 145.9L232 145.4V153.7Z"/><path d="M231.7 153.7V145.9L231.7 145.8L232 145.4V153.7Z"/><path d="M231.7 153.7V145.8L232.9 144.3L233.2 143.8V153.7Z"/><path d="M232.9 153.7V144.3L233.9 143L234.2 142.9V153.7Z"/><path d="M233.9 153.7V143L234.1 142.9L234.4 142.8V153.7Z"/><path d="M234.1 153.7V142.9L235.3 142.5L235.7 142.3V153.7Z"/><path d="M235.3 153.7V142.5L235.7 142.3L236 142.8V153.7Z"/><path d="M235.7 153.7V142.3L236.5 143.4L236.8 143.8V153.7Z"/><path d="M236.5 153.7V143.4L237.7 144.9L238 145.5V153.7Z"/><path d="M237.7 153.7V144.9L237.9 145.2L238.3 145.9V153.7Z"/><path d="M237.9 153.7V145.2L238.9 147.2L239.2 147.9V153.7Z"/><path d="M238.9 153.7V147.2L240.1 149.6L240.4 149.8V153.7Z"/><path d="M240.1 153.7V149.6L240.1 149.7L240.5 149.8V153.7Z"/><path d="M240.1 153.7V149.7L241.3 150.2L241.7 150.3V153.7Z"/><path d="M241.3 153.7V150.2L242.5 150.7L242.8 150.8V153.7Z"/><path d="M242.5 153.7V150.7L243.7 151.2L244 151.3V153.7Z"/><path d="M243.7 153.7V151.2L243.9 151.2L244.3 151.3V153.7Z"/><path d="M243.9 153.7V151.2L244.9 151.4L245.2 151.4V153.7Z"/><path d="M244.9 153.7V151.4L246.1 151.5L246.4 151.6V153.7Z"/><path d="M246.1 153.7V151.5L247.3 151.7L247.7 151.7V153.7Z"/><path d="M247.3 153.7V151.7L248.5 151.8L248.8 151.8V153.7Z"/><path d="M248.5 153.7V151.8L249.5 151.9L249.9 151.9V153.7Z"/><path d="M249.5 153.7V151.9L249.7 151.9L250 151.9V153.7Z"/><path d="M249.7 153.7V151.9L250.9 152L251.2 152V153.7Z"/><path d="M250.9 153.7V152L252.1 152L252.4 152V153.7Z"/><path d="M252.1 153.7V152L253.3 152L253.7 152.1V153.7Z"/><path d="M253.3 153.7V152L254.5 152.1L254.8 152.1V153.7Z"/><path d="M254.5 153.7V152.1L255.7 152.1L256.1 152.1V153.7Z"/><path d="M255.7 153.7V152.1L256.2 152.1L256.6 152.2V153.7Z"/><path d="M256.2 153.7V152.1L256.9 152.2L257.2 152.2V153.7Z"/><path d="M256.9 153.7V152.2L258.1 152.2L258.5 152.2V153.7Z"/><path d="M258.1 153.7V152.2L259.3 152.2L259.7 152.3V153.7Z"/><path d="M259.3 153.7V152.2L260.5 152.3L260.9 152.3V153.7Z"/><path d="M260.5 153.7V152.3L261.7 152.3L262.1 152.3V153.7Z"/><path d="M261.7 153.7V152.3L262.9 152.4L263.2 152.4V153.7Z"/><path d="M262.9 153.7V152.4L262.9 152.4L263.3 152.4V153.7Z"/><path d="M262.9 153.7V152.4L264.1 152.4L264.5 152.4V153.7Z"/><path d="M264.1 153.7V152.4L265.3 152.4L265.7 152.4V153.7Z"/><path d="M265.3 153.7V152.4L266.5 152.4L266.9 152.4V153.7Z"/><path d="M266.5 153.7V152.4L267.7 152.4L268.1 152.4V153.7Z"/><path d="M267.7 153.7V152.4L268.9 152.4L269.2 152.4V153.7Z"/><path d="M268.9 153.7V152.4L270.1 152.4L270.5 152.4V153.7Z"/><path d="M270.1 153.7V152.4L271.3 152.4L271.7 152.4V153.7Z"/><path d="M271.3 153.7V152.4L272.5 152.4L272.9 152.4V153.7Z"/><path d="M272.5 153.7V152.4L273 152.4L273.3 152.4V153.7Z"/><path d="M273 153.7V152.4L273.7 152.4L273.8 152.4V153.7Z"/><path d="M273.7 153.7V152.4L273.8 152.4L273.8 152.4V153.7Z"/></g>
<path d="M158.5 152.4 L159.7 152.39 L160.9 152.39 L162.1 152.38 L163.3 152.37 L164.5 152.37 L164.7 152.37 L165.7 152.37 L166.9 152.38 L168.1 152.38 L169.3 152.39 L170.5 152.4 L171.39 152.4 L171.7 152.39 L172.9 152.34 L174.1 152.3 L175.3 152.25 L176.5 152.2 L177.7 152.16 L178.09 152.14 L178.9 151.93 L180.1 151.61 L181.3 151.29 L181.44 151.25 L182.5 149.97 L183.67 148.57 L183.7 148.52 L184.9 146.36 L185.9 144.55 L186.1 144.36 L187.3 143.16 L188.13 142.32 L188.5 142.32 L189.7 142.32 L189.7 142.33 L190.9 143.83 L191.48 144.55 L192.1 146.33 L193.27 149.69 L193.3 149.7 L194.5 150.22 L194.83 150.36 L195.7 147.5 L196.39 145.22 L196.9 142.88 L198.1 137.33 L198.18 136.96 L199.29 139.64 L199.3 139.68 L200.5 147.39 L200.86 149.69 L201.7 150.34 L202.9 151.26 L203.76 151.92 L204.1 151.92 L205.3 151.92 L206.5 151.92 L207.7 151.92 L208.9 151.92 L209.34 151.92 L210.1 151.84 L211.3 151.72 L212.5 151.6 L213.7 151.48 L214.9 151.36 L216.04 151.25 L216.1 151.23 L217.3 150.81 L218.5 150.39 L219.7 149.97 L220.5 149.69 L220.9 149.87 L222.1 150.43 L223.3 150.99 L223.85 151.25 L224.5 151.02 L225.7 150.6 L226.9 150.18 L228.1 149.76 L228.31 149.69 L229.3 148.57 L230.5 147.21 L231.66 145.89 L231.7 145.84 L232.9 144.28 L233.89 142.99 L234.1 142.91 L235.3 142.46 L235.68 142.32 L236.5 143.39 L237.7 144.95 L237.91 145.22 L238.9 147.2 L240.1 149.6 L240.14 149.69 L241.3 150.16 L242.5 150.66 L243.7 151.15 L243.94 151.25 L244.9 151.37 L246.1 151.51 L247.3 151.65 L248.5 151.8 L249.52 151.92 L249.7 151.93 L250.9 151.97 L252.1 152.01 L253.3 152.05 L254.5 152.09 L255.7 152.13 L256.21 152.14 L256.9 152.17 L258.1 152.21 L259.3 152.25 L260.5 152.29 L261.7 152.33 L262.9 152.37 L262.91 152.37 L264.1 152.37 L265.3 152.37 L266.5 152.38 L267.7 152.38 L268.9 152.39 L270.1 152.39 L271.3 152.39 L272.5 152.4 L272.96 152.4 L273.7 152.4 L273.8 152.4" fill="none" stroke="#2a0a3a" stroke-width="0.7" stroke-linejoin="round"/>
<line x1="158.5" y1="153.25" x2="273.8" y2="153.25" stroke="#b01e98" stroke-width="0.9"/>
<text x="154.6" y="123.8" font-size="5" text-anchor="end" fill="#8d3e9c" stroke="#8d3e9c" stroke-width="0.12">200</text>
<text x="154.6" y="153.7" font-size="5" text-anchor="end" fill="#8d3e9c" stroke="#8d3e9c" stroke-width="0.12">0</text>
<line x1="140.2" y1="42.3" x2="140.2" y2="155" stroke="#555" stroke-width="0.9"/>
<text x="126.8" y="102.2" font-size="6.4" fill="#222" stroke="#222" stroke-width="0.12">NC</text>
<rect x="158.5" y="193" width="115.3" height="36" fill="#ebebf6"/>
<g fill="url(#cgb)"><path d="M158.5 191V189.7L159.7 189.7L160 189.7V191Z"/><path d="M159.7 191V189.7L160.9 189.7L161.2 189.7V191Z"/><path d="M160.9 191V189.7L162.1 189.7L162.4 189.7V191Z"/><path d="M162.1 191V189.7L163.3 189.7L163.7 189.7V191Z"/><path d="M163.3 191V189.7L164.5 189.7L164.8 189.7V191Z"/><path d="M164.5 191V189.7L164.7 189.7L165 189.7V191Z"/><path d="M164.7 191V189.7L165.7 189.7L166 189.7V191Z"/><path d="M165.7 191V189.7L166.9 189.7L167.2 189.7V191Z"/><path d="M166.9 191V189.7L168.1 189.7L168.4 189.7V191Z"/><path d="M168.1 191V189.7L169.3 189.7L169.7 189.7V191Z"/><path d="M169.3 191V189.7L170.5 189.7L170.8 189.7V191Z"/><path d="M170.5 191V189.7L171.4 189.7L171.7 189.7V191Z"/><path d="M171.4 191V189.7L171.7 189.7L172 189.7V191Z"/><path d="M171.7 191V189.7L172.9 189.6L173.2 189.6V191Z"/><path d="M172.9 191V189.6L174.1 189.6L174.4 189.6V191Z"/><path d="M174.1 191V189.6L175.3 189.6L175.7 189.5V191Z"/><path d="M175.3 191V189.6L176.5 189.5L176.8 189.5V191Z"/><path d="M176.5 191V189.5L177.7 189.5L178 189.5V191Z"/><path d="M177.7 191V189.5L178.1 189.5L178.4 189.4V191Z"/><path d="M178.1 191V189.5L178.9 189.3L179.2 189.2V191Z"/><path d="M178.9 191V189.3L180.1 189.1L180.4 189V191Z"/><path d="M180.1 191V189.1L181.3 188.8L181.7 188.8V191Z"/><path d="M181.3 191V188.8L182.5 188.6L182.8 188.4V191Z"/><path d="M182.5 191V188.6L182.6 188.6L182.9 188.3V191Z"/><path d="M182.6 191V188.6L183.7 187.8L184 187.6V191Z"/><path d="M183.7 191V187.8L184.9 187L185.2 186.8V191Z"/><path d="M184.9 191V187L185.9 186.3L186.3 185.2V191Z"/><path d="M185.9 191V186.3L186.1 185.7L186.4 184.5V191Z"/><path d="M186.1 191V185.7L187.3 181.7L187.7 180.7V191Z"/><path d="M187.3 191V181.7L187.5 181.2L187.8 180.2V191Z"/><path d="M187.5 191V181.2L188.5 178.3L188.8 177.6V191Z"/><path d="M188.5 191V178.3L188.8 177.4L189.2 178.5V191Z"/><path d="M188.8 191V177.4L189.7 180.2L190 181.3V191Z"/><path d="M189.7 191V180.2L190.4 182.3L190.7 183.2V191Z"/><path d="M190.4 191V182.3L190.9 183.7L191.2 184.6V191Z"/><path d="M190.9 191V183.7L191.9 186.3L192.3 185.7V191Z"/><path d="M191.9 191V186.3L192.1 186L192.4 185.4V191Z"/><path d="M192.1 191V186L193.3 183.9L193.7 183.2V191Z"/><path d="M193.3 191V183.9L194.2 182.3L194.5 181.4V191Z"/><path d="M194.2 191V182.3L194.5 181.5L194.8 180.6V191Z"/><path d="M194.5 191V181.5L195.7 178.5L196 177.6V191Z"/><path d="M195.7 191V178.5L196.4 176.7L196.7 176.3V191Z"/><path d="M196.4 191V176.7L196.9 176.1L197.2 175.6V191Z"/><path d="M196.9 191V176.1L198.1 174.5L198.4 174.1V191Z"/><path d="M198.1 191V174.5L198.6 173.8L199 174.4V191Z"/><path d="M198.6 191V173.8L199.3 174.9L199.7 175.5V191Z"/><path d="M199.3 191V174.9L200.5 176.8L200.8 177.4V191Z"/><path d="M200.5 191V176.8L200.9 177.4L201.2 178.4V191Z"/><path d="M200.9 191V177.4L201.7 179.7L202 180.7V191Z"/><path d="M201.7 191V179.7L202.6 182.3L203 183.4V191Z"/><path d="M202.6 191V182.3L202.9 183.1L203.2 184.2V191Z"/><path d="M202.9 191V183.1L204.1 186.9L204.4 187.9V191Z"/><path d="M204.1 191V186.9L204.4 187.9L204.8 188V191Z"/><path d="M204.4 191V187.9L205.3 188.3L205.7 188.4V191Z"/><path d="M205.3 191V188.3L206.5 188.8L206.8 188.9V191Z"/><path d="M206.5 191V188.8L207.1 189L207.5 189V191Z"/><path d="M207.1 191V189L207.7 189L208 189V191Z"/><path d="M207.7 191V189L208.9 189L209.2 189V191Z"/><path d="M208.9 191V189L210.1 189L210.4 189V191Z"/><path d="M210.1 191V189L211.3 189L211.7 189V191Z"/><path d="M211.3 191V189L212.5 189L212.8 189V191Z"/><path d="M212.5 191V189L212.7 189L213 189V191Z"/><path d="M212.7 191V189L213.7 188.9L214 188.8V191Z"/><path d="M213.7 191V188.9L214.9 188.7L215.2 188.7V191Z"/><path d="M214.9 191V188.7L216 188.6L216.4 188.5V191Z"/><path d="M216 191V188.6L216.1 188.6L216.4 188.5V191Z"/><path d="M216.1 191V188.6L217.3 188.4L217.7 188.4V191Z"/><path d="M217.3 191V188.4L218.5 188.3L218.8 188.3V191Z"/><path d="M218.5 191V188.3L219.7 188.2L220 188.2V191Z"/><path d="M219.7 191V188.2L220.5 188.1L220.8 188.1V191Z"/><path d="M220.5 191V188.1L220.9 188.1L221.2 188.1V191Z"/><path d="M220.9 191V188.1L222.1 188L222.4 188V191Z"/><path d="M222.1 191V188L223.3 188L223.7 188V191Z"/><path d="M223.3 191V188L224.5 187.9L224.8 187.9V191Z"/><path d="M224.5 191V187.9L225 187.9L225.3 187.6V191Z"/><path d="M225 191V187.9L225.7 187.3L226 187V191Z"/><path d="M225.7 191V187.3L226.9 186.3L227.2 186V191Z"/><path d="M226.9 191V186.3L227.6 185.7L228 184.6V191Z"/><path d="M227.6 191V185.7L228.1 184.2L228.4 183.1V191Z"/><path d="M228.1 191V184.2L229.3 180.5L229.7 179.1V191Z"/><path d="M229.3 191V180.5L229.4 180.1L229.8 178.5V191Z"/><path d="M229.4 191V180.1L230.5 175.3L230.8 173.7V191Z"/><path d="M230.5 191V175.3L231.7 170L232 169.5V191Z"/><path d="M231.7 191V170L231.7 170L232 169.5V191Z"/><path d="M231.7 191V170L232.9 168.2L233.2 167.7V191Z"/><path d="M232.9 191V168.2L233.9 166.7L234.2 166.9V191Z"/><path d="M233.9 191V166.7L234.1 166.8L234.4 167V191Z"/><path d="M234.1 191V166.8L235.3 167.4L235.7 167.6V191Z"/><path d="M235.3 191V167.4L236.1 167.8L236.5 169.3V191Z"/><path d="M236.1 191V167.8L236.5 169.4L236.8 170.9V191Z"/><path d="M236.5 191V169.4L237.7 174.5L238 176.3V191Z"/><path d="M237.7 191V174.5L237.7 174.6L238 176.3V191Z"/><path d="M237.7 191V174.6L238.9 180.6L239.2 182.3V191Z"/><path d="M238.9 191V180.6L239.5 183.4L239.8 183.9V191Z"/><path d="M239.5 191V183.4L240.1 184.3L240.4 184.7V191Z"/><path d="M240.1 191V184.3L241.3 185.8L241.7 186.3V191Z"/><path d="M241.3 191V185.8L241.7 186.3L242.1 186.4V191Z"/><path d="M241.7 191V186.3L242.5 186.5L242.8 186.5V191Z"/><path d="M242.5 191V186.5L243.7 186.7L244 186.7V191Z"/><path d="M243.7 191V186.7L244.9 186.9L245.2 186.9V191Z"/><path d="M244.9 191V186.9L246.1 187L246.4 187.1V191Z"/><path d="M246.1 191V187L247.3 187.2L247.6 187.3V191Z"/><path d="M247.3 191V187.2L247.3 187.2L247.7 187.3V191Z"/><path d="M247.3 191V187.2L248.5 187.4L248.8 187.4V191Z"/><path d="M248.5 191V187.4L249.7 187.5L250 187.5V191Z"/><path d="M249.7 191V187.5L250.9 187.6L251.2 187.6V191Z"/><path d="M250.9 191V187.6L252.1 187.7L252.4 187.7V191Z"/><path d="M252.1 191V187.7L253.3 187.8L253.7 187.9V191Z"/><path d="M253.3 191V187.8L254 187.9L254.3 187.9V191Z"/><path d="M254 191V187.9L254.5 188L254.8 188V191Z"/><path d="M254.5 191V188L255.7 188.1L256.1 188.1V191Z"/><path d="M255.7 191V188.1L256.9 188.2L257.2 188.2V191Z"/><path d="M256.9 191V188.2L258.1 188.3L258.5 188.3V191Z"/><path d="M258.1 191V188.3L259.3 188.4L259.7 188.5V191Z"/><path d="M259.3 191V188.4L260.5 188.6L260.9 188.6V191Z"/><path d="M260.5 191V188.6L260.7 188.6L261 188.6V191Z"/><path d="M260.7 191V188.6L261.7 188.6L262.1 188.7V191Z"/><path d="M261.7 191V188.6L262.9 188.7L263.2 188.7V191Z"/><path d="M262.9 191V188.7L264.1 188.8L264.5 188.8V191Z"/><path d="M264.1 191V188.8L265.3 188.9L265.7 188.9V191Z"/><path d="M265.3 191V188.9L266.5 189L266.9 189V191Z"/><path d="M266.5 191V189L267.4 189L267.7 189V191Z"/><path d="M267.4 191V189L267.7 189L268.1 189.1V191Z"/><path d="M267.7 191V189L268.9 189.1L269.2 189.2V191Z"/><path d="M268.9 191V189.1L270.1 189.2L270.5 189.3V191Z"/><path d="M270.1 191V189.2L271.3 189.3L271.7 189.4V191Z"/><path d="M271.3 191V189.3L272.5 189.4L272.9 189.5V191Z"/><path d="M272.5 191V189.4L273 189.5L273.3 189.5V191Z"/><path d="M273 191V189.5L273.7 189.5L273.8 189.5V191Z"/><path d="M273.7 191V189.5L273.8 189.5L273.8 189.5V191Z"/></g>
<path d="M158.5 189.7 L159.7 189.7 L160.9 189.7 L162.1 189.7 L163.3 189.7 L164.5 189.7 L164.7 189.7 L165.7 189.7 L166.9 189.7 L168.1 189.69 L169.3 189.69 L170.5 189.69 L171.39 189.69 L171.7 189.68 L172.9 189.64 L174.1 189.6 L175.3 189.56 L176.5 189.52 L177.7 189.48 L178.09 189.46 L178.9 189.3 L180.1 189.06 L181.3 188.82 L182.5 188.58 L182.55 188.57 L183.7 187.81 L184.9 187.01 L185.9 186.34 L186.1 185.69 L187.3 181.75 L187.46 181.21 L188.5 178.27 L188.8 177.41 L189.7 180.23 L190.37 182.32 L190.9 183.69 L191.93 186.34 L192.1 186.03 L193.3 183.87 L194.16 182.32 L194.5 181.47 L195.7 178.47 L196.39 176.74 L196.9 176.08 L198.1 174.52 L198.62 173.84 L199.3 174.92 L200.5 176.84 L200.86 177.41 L201.7 179.73 L202.64 182.32 L202.9 183.13 L204.1 186.88 L204.43 187.9 L205.3 188.26 L206.5 188.76 L207.11 189.02 L207.7 189.02 L208.9 189.02 L210.1 189.02 L211.3 189.02 L212.5 189.02 L212.69 189.02 L213.7 188.88 L214.9 188.72 L216.04 188.57 L216.1 188.56 L217.3 188.44 L218.5 188.32 L219.7 188.2 L220.5 188.12 L220.9 188.1 L222.1 188.05 L223.3 187.99 L224.5 187.93 L224.96 187.9 L225.7 187.29 L226.9 186.29 L227.64 185.67 L228.1 184.24 L229.3 180.49 L229.43 180.09 L230.5 175.27 L231.66 170.04 L231.7 169.99 L232.9 168.19 L233.89 166.7 L234.1 166.8 L235.3 167.4 L236.12 167.81 L236.5 169.42 L237.69 174.51 L237.7 174.57 L238.9 180.57 L239.47 183.44 L240.1 184.25 L241.3 185.81 L241.71 186.34 L242.5 186.47 L243.7 186.66 L244.9 186.85 L246.1 187.04 L247.29 187.23 L247.3 187.23 L248.5 187.35 L249.7 187.47 L250.9 187.59 L252.1 187.71 L253.3 187.83 L253.98 187.9 L254.5 187.95 L255.7 188.07 L256.9 188.19 L258.1 188.31 L259.3 188.43 L260.5 188.55 L260.68 188.57 L261.7 188.64 L262.9 188.72 L264.1 188.8 L265.3 188.88 L266.5 188.96 L267.38 189.02 L267.7 189.04 L268.9 189.14 L270.1 189.24 L271.3 189.33 L272.5 189.43 L272.96 189.46 L273.7 189.46 L273.8 189.46" fill="none" stroke="#141550" stroke-width="0.7" stroke-linejoin="round"/>
<line x1="158.5" y1="190.55" x2="273.8" y2="190.55" stroke="#1c1e68" stroke-width="0.9"/>
<text x="154.6" y="160" font-size="5" text-anchor="end" fill="#3e4f9e" stroke="#3e4f9e" stroke-width="0.12">200</text>
<text x="154.6" y="191" font-size="5" text-anchor="end" fill="#3e4f9e" stroke="#3e4f9e" stroke-width="0.12">0</text>
<g fill="url(#cgr)"><path d="M158.5 229V227.6L159.7 227.6L160 227.6V229Z"/><path d="M159.7 229V227.6L160.9 227.5L161.2 227.5V229Z"/><path d="M160.9 229V227.5L162.1 227.5L162.4 227.5V229Z"/><path d="M162.1 229V227.5L163.3 227.5L163.7 227.4V229Z"/><path d="M163.3 229V227.5L164.5 227.4L164.8 227.4V229Z"/><path d="M164.5 229V227.4L164.7 227.4L165 227.4V229Z"/><path d="M164.7 229V227.4L165.7 227.3L166 227.3V229Z"/><path d="M165.7 229V227.3L166.9 227.3L167.2 227.2V229Z"/><path d="M166.9 229V227.3L168.1 227.2L168.4 227.2V229Z"/><path d="M168.1 229V227.2L169.3 227.1L169.7 227.1V229Z"/><path d="M169.3 229V227.1L170.5 227L170.8 227V229Z"/><path d="M170.5 229V227L171.4 227L171.7 226.9V229Z"/><path d="M171.4 229V227L171.7 226.9L172 226.9V229Z"/><path d="M171.7 229V226.9L172.9 226.9L173.2 226.8V229Z"/><path d="M172.9 229V226.9L174.1 226.8L174.4 226.8V229Z"/><path d="M174.1 229V226.8L175.3 226.7L175.7 226.7V229Z"/><path d="M175.3 229V226.7L176.5 226.6L176.8 226.6V229Z"/><path d="M176.5 229V226.6L177.7 226.5L178 226.5V229Z"/><path d="M177.7 229V226.5L178.1 226.5L178.4 226.3V229Z"/><path d="M178.1 229V226.5L178.9 226.1L179.2 225.9V229Z"/><path d="M178.9 229V226.1L180.1 225.4L180.4 225.3V229Z"/><path d="M180.1 229V225.4L181.3 224.8L181.7 224.5V229Z"/><path d="M181.3 229V224.8L181.4 224.7L181.8 224.3V229Z"/><path d="M181.4 229V224.7L182.5 223.5L182.8 223V229Z"/><path d="M182.5 229V223.5L183.7 222.1L184 221.1V229Z"/><path d="M183.7 229V222.1L183.7 222L184 221V229Z"/><path d="M183.7 229V222L184.9 218.6L185.2 217.6V229Z"/><path d="M184.9 229V218.6L185.9 215.8L186.3 215.2V229Z"/><path d="M185.9 229V215.8L186.1 215.5L186.4 214.9V229Z"/><path d="M186.1 229V215.5L187.3 213.5L187.7 212.9V229Z"/><path d="M187.3 229V213.5L188.5 211.5L188.8 210.9V229Z"/><path d="M188.5 229V211.5L189.2 210.2L189.6 211V229Z"/><path d="M189.2 229V210.2L189.7 211.3L190 212.1V229Z"/><path d="M189.7 229V211.3L190.9 214L191.2 214.8V229Z"/><path d="M190.9 229V214L191.5 215.4L191.8 216.1V229Z"/><path d="M191.5 229V215.4L192.1 216.7L192.4 217.5V229Z"/><path d="M192.1 229V216.7L193.3 219.4L193.7 220.1V229Z"/><path d="M193.3 229V219.4L193.7 220.3L194.1 219.2V229Z"/><path d="M193.7 229V220.3L194.5 217.9L194.8 216.9V229Z"/><path d="M194.5 229V217.9L195.7 214.3L196 213.4V229Z"/><path d="M195.7 229V214.3L195.9 213.6L196.3 212.9V229Z"/><path d="M195.9 229V213.6L196.9 211.8L197.2 211.2V229Z"/><path d="M196.9 229V211.8L198.1 209.6L198.4 209V229Z"/><path d="M198.1 229V209.6L198.6 208.7L199 209.6V229Z"/><path d="M198.6 229V208.7L199.3 210.5L199.7 211.4V229Z"/><path d="M199.3 229V210.5L200.5 213.7L200.8 214.7V229Z"/><path d="M200.5 229V213.7L200.9 214.7L201.2 216.2V229Z"/><path d="M200.9 229V214.7L201.7 218.4L202 219.9V229Z"/><path d="M201.7 229V218.4L202.6 222.5L203 223V229Z"/><path d="M202.6 229V222.5L202.9 222.9L203.2 223.4V229Z"/><path d="M202.9 229V222.9L204.1 224.7L204.4 225.2V229Z"/><path d="M204.1 229V224.7L204.9 225.8L205.2 225.9V229Z"/><path d="M204.9 229V225.8L205.3 225.9L205.7 225.9V229Z"/><path d="M205.3 229V225.9L206.5 226L206.8 226V229Z"/><path d="M206.5 229V226L207.7 226.1L208 226.2V229Z"/><path d="M207.7 229V226.1L208.9 226.3L209.2 226.3V229Z"/><path d="M208.9 229V226.3L210.1 226.4L210.4 226.4V229Z"/><path d="M210.1 229V226.4L211.3 226.5L211.7 226.5V229Z"/><path d="M211.3 229V226.5L211.6 226.5L211.9 226.5V229Z"/><path d="M211.6 229V226.5L212.5 226.4L212.8 226.3V229Z"/><path d="M212.5 229V226.4L213.7 226.2L214 226.1V229Z"/><path d="M213.7 229V226.2L214.9 226L215.2 226V229Z"/><path d="M214.9 229V226L216 225.8L216.4 225.8V229Z"/><path d="M216 229V225.8L216.1 225.8L216.4 225.8V229Z"/><path d="M216.1 229V225.8L217.3 225.7L217.7 225.6V229Z"/><path d="M217.3 229V225.7L218.5 225.5L218.8 225.4V229Z"/><path d="M218.5 229V225.5L219.7 225.3L220 225.2V229Z"/><path d="M219.7 229V225.3L220.5 225.2L220.8 225.2V229Z"/><path d="M220.5 229V225.2L220.9 225.2L221.2 225.3V229Z"/><path d="M220.9 229V225.2L222.1 225.4L222.4 225.5V229Z"/><path d="M222.1 229V225.4L223.3 225.6L223.7 225.7V229Z"/><path d="M223.3 229V225.6L224.5 225.8L224.8 225.8V229Z"/><path d="M224.5 229V225.8L225 225.8L225.3 225.6V229Z"/><path d="M225 229V225.8L225.7 225.4L226 225.1V229Z"/><path d="M225.7 229V225.4L226.9 224.6L227.2 224.3V229Z"/><path d="M226.9 229V224.6L228.1 223.8L228.4 223.1V229Z"/><path d="M228.1 229V223.8L228.3 223.6L228.7 222.4V229Z"/><path d="M228.3 229V223.6L229.3 220.2L229.7 218.9V229Z"/><path d="M229.3 229V220.2L230.5 216L230.8 215V229Z"/><path d="M230.5 229V216L230.5 215.8L230.9 214.9V229Z"/><path d="M230.5 229V215.8L231.7 212.7L232 211.8V229Z"/><path d="M231.7 229V212.7L232.9 209.5L233.2 208.5V229Z"/><path d="M232.9 229V209.5L233.4 208L233.8 207.5V229Z"/><path d="M233.4 229V208L234.1 207L234.4 206.5V229Z"/><path d="M234.1 229V207L235.3 205.2L235.7 204.7V229Z"/><path d="M235.3 229V205.2L235.7 204.6L236 205.9V229Z"/><path d="M235.7 229V204.6L236.5 207.6L236.8 208.8V229Z"/><path d="M236.5 229V207.6L237.2 210.2L237.6 212.1V229Z"/><path d="M237.2 229V210.2L237.7 212.6L238 214.5V229Z"/><path d="M237.7 229V212.6L238.8 218.5L239.2 219.1V229Z"/><path d="M238.8 229V218.5L238.9 218.7L239.2 219.3V229Z"/><path d="M238.9 229V218.7L240.1 220.8L240.4 221.4V229Z"/><path d="M240.1 229V220.8L241.3 222.9L241.7 223.5V229Z"/><path d="M241.3 229V222.9L241.7 223.6L242.1 223.7V229Z"/><path d="M241.7 229V223.6L242.5 223.9L242.8 224V229Z"/><path d="M242.5 229V223.9L243.7 224.3L244 224.4V229Z"/><path d="M243.7 229V224.3L244.9 224.7L245.2 224.9V229Z"/><path d="M244.9 229V224.7L246.1 225.2L246.4 225.2V229Z"/><path d="M246.1 229V225.2L246.2 225.2L246.5 225.2V229Z"/><path d="M246.2 229V225.2L247.3 225.3L247.7 225.4V229Z"/><path d="M247.3 229V225.3L248.5 225.5L248.8 225.6V229Z"/><path d="M248.5 229V225.5L249.7 225.7L250 225.8V229Z"/><path d="M249.7 229V225.7L250.6 225.8L251 225.7V229Z"/><path d="M250.6 229V225.8L250.9 225.8L251.2 225.6V229Z"/><path d="M250.9 229V225.8L252.1 225.3L252.4 225.2V229Z"/><path d="M252.1 229V225.3L253.3 224.9L253.7 224.8V229Z"/><path d="M253.3 229V224.9L254.5 224.5L254.8 224.4V229Z"/><path d="M254.5 229V224.5L255.1 224.3L255.4 224.4V229Z"/><path d="M255.1 229V224.3L255.7 224.6L256.1 224.7V229Z"/><path d="M255.7 229V224.6L256.9 225.1L257.2 225.3V229Z"/><path d="M256.9 229V225.1L258.1 225.7L258.5 225.8V229Z"/><path d="M258.1 229V225.7L258.4 225.8L258.8 225.9V229Z"/><path d="M258.4 229V225.8L259.3 226.1L259.7 226.1V229Z"/><path d="M259.3 229V226.1L260.5 226.4L260.9 226.4V229Z"/><path d="M260.5 229V226.4L261.7 226.7L262.1 226.7V229Z"/><path d="M261.7 229V226.7L262.9 227L263.2 227V229Z"/><path d="M262.9 229V227L262.9 227L263.3 227V229Z"/><path d="M262.9 229V227L264.1 227L264.5 227.1V229Z"/><path d="M264.1 229V227L265.3 227.1L265.7 227.1V229Z"/><path d="M265.3 229V227.1L266.5 227.2L266.9 227.2V229Z"/><path d="M266.5 229V227.2L267.7 227.3L268.1 227.3V229Z"/><path d="M267.7 229V227.3L268.9 227.4L269.2 227.4V229Z"/><path d="M268.9 229V227.4L269.6 227.4L270 227.4V229Z"/><path d="M269.6 229V227.4L270.1 227.4L270.5 227.5V229Z"/><path d="M270.1 229V227.4L271.3 227.5L271.7 227.5V229Z"/><path d="M271.3 229V227.5L272.5 227.6L272.9 227.6V229Z"/><path d="M272.5 229V227.6L273 227.6L273.3 227.6V229Z"/><path d="M273 229V227.6L273.7 227.6L273.8 227.6V229Z"/><path d="M273.7 229V227.6L273.8 227.6L273.8 227.6V229Z"/></g>
<path d="M158.5 227.63 L159.7 227.59 L160.9 227.55 L162.1 227.5 L163.3 227.46 L164.5 227.42 L164.7 227.41 L165.7 227.34 L166.9 227.26 L168.1 227.18 L169.3 227.1 L170.5 227.02 L171.39 226.96 L171.7 226.94 L172.9 226.86 L174.1 226.78 L175.3 226.7 L176.5 226.62 L177.7 226.54 L178.09 226.52 L178.9 226.09 L180.1 225.45 L181.3 224.81 L181.44 224.73 L182.5 223.46 L183.67 222.05 L183.7 221.97 L184.9 218.61 L185.9 215.8 L186.1 215.47 L187.3 213.47 L188.5 211.47 L189.25 210.22 L189.7 211.26 L190.9 214.02 L191.48 215.36 L192.1 216.72 L193.3 219.36 L193.71 220.27 L194.5 217.91 L195.7 214.31 L195.95 213.57 L196.9 211.82 L198.1 209.62 L198.62 208.66 L199.3 210.48 L200.5 213.72 L200.86 214.69 L201.7 218.37 L202.64 222.5 L202.9 222.89 L204.1 224.69 L204.88 225.85 L205.3 225.89 L206.5 226.01 L207.7 226.13 L208.9 226.25 L210.1 226.37 L211.3 226.49 L211.57 226.52 L212.5 226.38 L213.7 226.2 L214.9 226.02 L216.04 225.85 L216.1 225.84 L217.3 225.66 L218.5 225.48 L219.7 225.3 L220.5 225.18 L220.9 225.24 L222.1 225.42 L223.3 225.6 L224.5 225.78 L224.96 225.85 L225.7 225.36 L226.9 224.56 L228.1 223.76 L228.31 223.62 L229.3 220.16 L230.5 215.96 L230.54 215.8 L231.7 212.69 L232.9 209.46 L233.45 207.99 L234.1 207.01 L235.3 205.21 L235.68 204.64 L236.5 207.58 L237.24 210.22 L237.7 212.65 L238.8 218.48 L238.9 218.65 L240.1 220.78 L241.3 222.9 L241.71 223.62 L242.5 223.89 L243.7 224.31 L244.9 224.73 L246.1 225.15 L246.17 225.18 L247.3 225.35 L248.5 225.53 L249.7 225.71 L250.63 225.85 L250.9 225.76 L252.1 225.34 L253.3 224.92 L254.5 224.5 L255.1 224.29 L255.7 224.57 L256.9 225.13 L258.1 225.69 L258.45 225.85 L259.3 226.06 L260.5 226.36 L261.7 226.66 L262.9 226.96 L262.91 226.96 L264.1 227.04 L265.3 227.12 L266.5 227.2 L267.7 227.28 L268.9 227.36 L269.61 227.41 L270.1 227.44 L271.3 227.52 L272.5 227.6 L272.96 227.63 L273.7 227.63 L273.8 227.63" fill="none" stroke="#4a0810" stroke-width="0.7" stroke-linejoin="round"/>
<line x1="158.5" y1="228.55" x2="273.8" y2="228.55" stroke="#c01424" stroke-width="0.9"/>
<text x="154.6" y="198" font-size="5" text-anchor="end" fill="#d8404c" stroke="#d8404c" stroke-width="0.12">200</text>
<text x="154.6" y="229" font-size="5" text-anchor="end" fill="#d8404c" stroke="#d8404c" stroke-width="0.12">0</text>
<g fill="url(#cgp)"><path d="M158.5 266.7V265.4L159.7 265.4L160 265.4V266.7Z"/><path d="M159.7 266.7V265.4L160.9 265.4L161.2 265.3V266.7Z"/><path d="M160.9 266.7V265.4L162.1 265.3L162.4 265.3V266.7Z"/><path d="M162.1 266.7V265.3L163.3 265.3L163.7 265.3V266.7Z"/><path d="M163.3 266.7V265.3L164.5 265.3L164.8 265.3V266.7Z"/><path d="M164.5 266.7V265.3L164.7 265.3L165 265.3V266.7Z"/><path d="M164.7 266.7V265.3L165.7 265.3L166 265.3V266.7Z"/><path d="M165.7 266.7V265.3L166.9 265.3L167.2 265.3V266.7Z"/><path d="M166.9 266.7V265.3L168.1 265.3L168.4 265.3V266.7Z"/><path d="M168.1 266.7V265.3L169.3 265.4L169.7 265.4V266.7Z"/><path d="M169.3 266.7V265.4L170.5 265.4L170.8 265.4V266.7Z"/><path d="M170.5 266.7V265.4L171.4 265.4L171.7 265.4V266.7Z"/><path d="M171.4 266.7V265.4L171.7 265.4L172 265.4V266.7Z"/><path d="M171.7 266.7V265.4L172.9 265.3L173.2 265.3V266.7Z"/><path d="M172.9 266.7V265.3L174.1 265.3L174.4 265.2V266.7Z"/><path d="M174.1 266.7V265.3L175.3 265.2L175.7 265.2V266.7Z"/><path d="M175.3 266.7V265.2L176.5 265.1L176.8 265.1V266.7Z"/><path d="M176.5 266.7V265.1L177.7 265.1L178 265.1V266.7Z"/><path d="M177.7 266.7V265.1L178.1 265.1L178.4 264.8V266.7Z"/><path d="M178.1 266.7V265.1L178.9 264.6L179.2 264.4V266.7Z"/><path d="M178.9 266.7V264.6L180.1 263.8L180.4 263.5V266.7Z"/><path d="M180.1 266.7V263.8L180.3 263.7L180.7 263.1V266.7Z"/><path d="M180.3 266.7V263.7L181.3 261.9L181.7 261.2V266.7Z"/><path d="M181.3 266.7V261.9L182.1 260.4L182.5 259.5V266.7Z"/><path d="M182.1 266.7V260.4L182.5 259.4L182.8 258.6V266.7Z"/><path d="M182.5 266.7V259.4L183.7 256.6L184 256.1V266.7Z"/><path d="M183.7 266.7V256.6L183.7 256.5L184 256.1V266.7Z"/><path d="M183.7 266.7V256.5L184.9 255L185.2 254.5V266.7Z"/><path d="M184.9 266.7V255L185.9 253.7L186.3 251.9V266.7Z"/><path d="M185.9 266.7V253.7L186.1 252.7L186.4 250.9V266.7Z"/><path d="M186.1 266.7V252.7L187.3 246.7L187.7 244V266.7Z"/><path d="M187.3 266.7V246.7L187.5 245.9L187.8 242.4V266.7Z"/><path d="M187.5 266.7V245.9L188.5 235.5L188.8 232.7V266.7Z"/><path d="M188.5 266.7V235.5L188.8 232.5L189.2 234.5V266.7Z"/><path d="M188.8 266.7V232.5L189.7 237.6L190 239.6V266.7Z"/><path d="M189.7 266.7V237.6L190.4 241.4L190.7 245.6V266.7Z"/><path d="M190.4 266.7V241.4L190.9 247.8L191.2 252V266.7Z"/><path d="M190.9 266.7V247.8L191.5 254.8L191.8 257.6V266.7Z"/><path d="M191.5 266.7V254.8L192.1 259.7L192.4 262.5V266.7Z"/><path d="M192.1 266.7V259.7L192.6 263.7L192.9 261.7V266.7Z"/><path d="M192.6 266.7V263.7L193.3 259.7L193.7 257.7V266.7Z"/><path d="M193.3 266.7V259.7L194.2 254.8L194.5 251.3V266.7Z"/><path d="M194.2 266.7V254.8L194.5 251.4L194.8 247.9V266.7Z"/><path d="M194.5 266.7V251.4L195.7 239.4L196 236.6V266.7Z"/><path d="M195.7 266.7V239.4L195.9 236.9L196.3 236V266.7Z"/><path d="M195.9 266.7V236.9L196.9 234.3L197.2 233.3V266.7Z"/><path d="M196.9 266.7V234.3L197.7 232L198.1 232.6V266.7Z"/><path d="M197.7 266.7V232L198.1 232.6L198.4 233.2V266.7Z"/><path d="M198.1 266.7V232.6L199.3 234.7L199.6 238.7V266.7Z"/><path d="M199.3 266.7V234.7L199.3 234.8L199.7 238.8V266.7Z"/><path d="M199.3 266.7V234.8L200.5 248.5L200.8 252.5V266.7Z"/><path d="M200.5 266.7V248.5L200.9 252.6L201.2 255.5V266.7Z"/><path d="M200.9 266.7V252.6L201.7 259.6L202 262.5V266.7Z"/><path d="M201.7 266.7V259.6L202.2 263.7L202.5 263.8V266.7Z"/><path d="M202.2 266.7V263.7L202.9 263.9L203.2 264V266.7Z"/><path d="M202.9 266.7V263.9L204.1 264.2L204.4 264.3V266.7Z"/><path d="M204.1 266.7V264.2L204.9 264.4L205.2 264.4V266.7Z"/><path d="M204.9 266.7V264.4L205.3 264.4L205.7 264.4V266.7Z"/><path d="M205.3 266.7V264.4L206.5 264.3L206.8 264.3V266.7Z"/><path d="M206.5 266.7V264.3L207.7 264.3L208 264.3V266.7Z"/><path d="M207.7 266.7V264.3L208.9 264.2L209.2 264.2V266.7Z"/><path d="M208.9 266.7V264.2L210.1 264.2L210.4 264.2V266.7Z"/><path d="M210.1 266.7V264.2L211.3 264.2L211.7 264.2V266.7Z"/><path d="M211.3 266.7V264.2L211.6 264.2L211.9 264.1V266.7Z"/><path d="M211.6 266.7V264.2L212.5 264.1L212.8 264V266.7Z"/><path d="M212.5 266.7V264.1L213.7 263.9L214 263.9V266.7Z"/><path d="M213.7 266.7V263.9L214.9 263.8L215.2 263.8V266.7Z"/><path d="M214.9 266.7V263.8L216 263.7L216.4 263.7V266.7Z"/><path d="M216 266.7V263.7L216.1 263.7L216.4 263.6V266.7Z"/><path d="M216.1 266.7V263.7L217.3 263.5L217.7 263.5V266.7Z"/><path d="M217.3 266.7V263.5L218.5 263.3L218.8 263.3V266.7Z"/><path d="M218.5 266.7V263.3L219.7 263.1L220 263.1V266.7Z"/><path d="M219.7 266.7V263.1L220.9 262.9L221.2 262.9V266.7Z"/><path d="M220.9 266.7V262.9L221.6 262.8L222 262.9V266.7Z"/><path d="M221.6 266.7V262.8L222.1 262.9L222.4 262.9V266.7Z"/><path d="M222.1 266.7V262.9L223.3 263L223.7 263.1V266.7Z"/><path d="M223.3 266.7V263L224.5 263.2L224.8 263.3V266.7Z"/><path d="M224.5 266.7V263.2L225 263.3L225.3 263.1V266.7Z"/><path d="M225 266.7V263.3L225.7 262.9L226 262.7V266.7Z"/><path d="M225.7 266.7V262.9L226.9 262.2L227.2 262V266.7Z"/><path d="M226.9 266.7V262.2L228.1 261.6L228.4 260.9V266.7Z"/><path d="M228.1 266.7V261.6L228.3 261.5L228.7 260.1V266.7Z"/><path d="M228.3 266.7V261.5L229.3 257.5L229.7 256.1V266.7Z"/><path d="M229.3 266.7V257.5L230.5 252.7L230.8 249.5V266.7Z"/><path d="M230.5 266.7V252.7L230.5 252.6L230.9 249.1V266.7Z"/><path d="M230.5 266.7V252.6L231.7 241L232 237.5V266.7Z"/><path d="M231.7 266.7V241L232.1 236.9L232.5 236.1V266.7Z"/><path d="M232.1 266.7V236.9L232.9 235.1L233.2 234.4V266.7Z"/><path d="M232.9 266.7V235.1L233.9 232.9L234.2 233.3V266.7Z"/><path d="M233.9 266.7V232.9L234.1 233.1L234.4 233.5V266.7Z"/><path d="M234.1 266.7V233.1L235.3 234.3L235.7 234.7V266.7Z"/><path d="M235.3 266.7V234.3L235.7 234.7L236 237.2V266.7Z"/><path d="M235.7 266.7V234.7L236.5 240.6L236.8 243.1V266.7Z"/><path d="M236.5 266.7V240.6L237.2 245.9L237.6 248.9V266.7Z"/><path d="M237.2 266.7V245.9L237.7 249.8L238 252.8V266.7Z"/><path d="M237.7 266.7V249.8L238.8 259.2L239.2 259.9V266.7Z"/><path d="M238.8 266.7V259.2L238.9 259.4L239.2 260.1V266.7Z"/><path d="M238.9 266.7V259.4L240.1 261.6L240.4 262.2V266.7Z"/><path d="M240.1 266.7V261.6L241 263.3L241.4 263.3V266.7Z"/><path d="M241 266.7V263.3L241.3 263.3L241.7 263.3V266.7Z"/><path d="M241.3 266.7V263.3L242.5 263.4L242.8 263.4V266.7Z"/><path d="M242.5 266.7V263.4L243.7 263.5L244 263.5V266.7Z"/><path d="M243.7 266.7V263.5L244.9 263.5L245.2 263.6V266.7Z"/><path d="M244.9 266.7V263.5L246.1 263.6L246.4 263.7V266.7Z"/><path d="M246.1 266.7V263.6L247.3 263.7L247.6 263.7V266.7Z"/><path d="M247.3 266.7V263.7L247.3 263.7L247.7 263.7V266.7Z"/><path d="M247.3 266.7V263.7L248.5 263.8L248.8 263.8V266.7Z"/><path d="M248.5 266.7V263.8L249.7 263.9L250 263.9V266.7Z"/><path d="M249.7 266.7V263.9L250.9 264L251.2 264V266.7Z"/><path d="M250.9 266.7V264L252.1 264L252.4 264.1V266.7Z"/><path d="M252.1 266.7V264L253.3 264.1L253.7 264.1V266.7Z"/><path d="M253.3 266.7V264.1L254 264.2L254.3 264.2V266.7Z"/><path d="M254 266.7V264.2L254.5 264.2L254.8 264.3V266.7Z"/><path d="M254.5 266.7V264.2L255.7 264.4L256.1 264.4V266.7Z"/><path d="M255.7 266.7V264.4L256.9 264.5L257.2 264.6V266.7Z"/><path d="M256.9 266.7V264.5L258.1 264.7L258.5 264.7V266.7Z"/><path d="M258.1 266.7V264.7L259.3 264.8L259.7 264.8V266.7Z"/><path d="M259.3 266.7V264.8L259.6 264.8L259.9 264.7V266.7Z"/><path d="M259.6 266.7V264.8L260.5 264.5L260.9 264.4V266.7Z"/><path d="M260.5 266.7V264.5L261.7 264.1L262.1 264V266.7Z"/><path d="M261.7 266.7V264.1L262.9 263.7L263.2 263.3V266.7Z"/><path d="M262.9 266.7V263.7L262.9 263.7L263.3 263.3V266.7Z"/><path d="M262.9 266.7V263.7L264.1 262.2L264.5 261.8V266.7Z"/><path d="M264.1 266.7V262.2L264.7 261.5L265 262.2V266.7Z"/><path d="M264.7 266.7V261.5L265.3 262.8L265.7 263.5V266.7Z"/><path d="M265.3 266.7V262.8L266.3 264.8L266.6 264.9V266.7Z"/><path d="M266.3 266.7V264.8L266.5 264.9L266.9 264.9V266.7Z"/><path d="M266.5 266.7V264.9L267.7 265L268.1 265V266.7Z"/><path d="M267.7 266.7V265L268.9 265.1L269.2 265.1V266.7Z"/><path d="M268.9 266.7V265.1L270.1 265.2L270.5 265.2V266.7Z"/><path d="M270.1 266.7V265.2L271.3 265.3L271.7 265.3V266.7Z"/><path d="M271.3 266.7V265.3L272.5 265.4L272.9 265.4V266.7Z"/><path d="M272.5 266.7V265.4L273 265.4L273.3 265.4V266.7Z"/><path d="M273 266.7V265.4L273.7 265.4L273.8 265.4V266.7Z"/><path d="M273.7 266.7V265.4L273.8 265.4L273.8 265.4V266.7Z"/></g>
<path d="M158.5 265.4 L159.7 265.38 L160.9 265.35 L162.1 265.33 L163.3 265.3 L164.5 265.28 L164.7 265.28 L165.7 265.3 L166.9 265.32 L168.1 265.34 L169.3 265.36 L170.5 265.38 L171.39 265.4 L171.7 265.38 L172.9 265.32 L174.1 265.26 L175.3 265.2 L176.5 265.14 L177.7 265.07 L178.09 265.05 L178.9 264.57 L180.1 263.85 L180.32 263.71 L181.3 261.88 L182.11 260.37 L182.5 259.41 L183.67 256.57 L183.7 256.53 L184.9 254.97 L185.9 253.67 L186.1 252.68 L187.3 246.68 L187.46 245.86 L188.5 235.5 L188.8 232.46 L189.7 237.59 L190.37 241.39 L190.9 247.8 L191.48 254.79 L192.1 259.73 L192.6 263.71 L193.3 259.7 L194.16 254.79 L194.5 251.39 L195.7 239.39 L195.95 236.93 L196.9 234.31 L197.73 232.02 L198.1 232.65 L199.29 234.7 L199.3 234.76 L200.5 248.47 L200.86 252.55 L201.7 259.58 L202.2 263.71 L202.9 263.89 L204.1 264.19 L204.88 264.38 L205.3 264.37 L206.5 264.33 L207.7 264.29 L208.9 264.25 L210.1 264.21 L211.3 264.17 L211.57 264.16 L212.5 264.07 L213.7 263.95 L214.9 263.83 L216.04 263.71 L216.1 263.7 L217.3 263.51 L218.5 263.32 L219.7 263.13 L220.9 262.94 L221.62 262.82 L222.1 262.89 L223.3 263.05 L224.5 263.21 L224.96 263.27 L225.7 262.88 L226.9 262.24 L228.1 261.6 L228.31 261.48 L229.3 257.53 L230.5 252.73 L230.54 252.55 L231.7 241 L232.11 236.93 L232.9 235.14 L233.89 232.91 L234.1 233.12 L235.3 234.32 L235.68 234.7 L236.5 240.56 L237.24 245.86 L237.7 249.79 L238.8 259.25 L238.9 259.42 L240.1 261.58 L241.04 263.27 L241.3 263.29 L242.5 263.37 L243.7 263.46 L244.9 263.54 L246.1 263.63 L247.29 263.71 L247.3 263.72 L248.5 263.8 L249.7 263.88 L250.9 263.96 L252.1 264.04 L253.3 264.12 L253.98 264.16 L254.5 264.22 L255.7 264.37 L256.9 264.51 L258.1 264.65 L259.3 264.8 L259.56 264.83 L260.5 264.52 L261.7 264.12 L262.9 263.72 L262.91 263.71 L264.1 262.23 L264.7 261.48 L265.3 262.78 L266.26 264.83 L266.5 264.85 L267.7 264.95 L268.9 265.06 L270.1 265.16 L271.3 265.26 L272.5 265.36 L272.96 265.4 L273.7 265.4 L273.8 265.4" fill="none" stroke="#2a0a3a" stroke-width="0.7" stroke-linejoin="round"/>
<line x1="158.5" y1="266.25" x2="273.8" y2="266.25" stroke="#b01e98" stroke-width="0.9"/>
<text x="154.6" y="235" font-size="5" text-anchor="end" fill="#8d3e9c" stroke="#8d3e9c" stroke-width="0.12">200</text>
<text x="154.6" y="266.7" font-size="5" text-anchor="end" fill="#8d3e9c" stroke="#8d3e9c" stroke-width="0.12">0</text>
<line x1="140.2" y1="156.7" x2="140.2" y2="267.8" stroke="#555" stroke-width="0.9"/>
<text x="123.2" y="215.5" font-size="6.4" fill="#222" stroke="#222" stroke-width="0.12">IFNβ</text>
<rect x="180.9" y="40.2" width="14.6" height="229.2" fill="none" stroke="#ee6a78" stroke-width="1.0" stroke-opacity="0.75"/>
<text x="169" y="276" font-size="4.9" fill="#333" stroke="#333" stroke-width="0.12" font-style="italic">Cxcl10 promoter</text>
<text x="284.2" y="21.7" font-size="12.5" font-weight="bold" fill="#000">E</text>
<text x="334.6" y="17" font-size="6.8" fill="#231f20" stroke="#231f20" stroke-width="0.12">HDAC3</text>
<text x="297.7" y="27.5" font-size="5" fill="#333" stroke="#333" stroke-width="0.12">Scale</text>
<text x="326.5" y="23.6" font-size="4.6" fill="#333" stroke="#333" stroke-width="0.12">10 kb</text>
<line x1="319.2" y1="25.1" x2="344.6" y2="25.1" stroke="#444" stroke-width="0.6"/>
<line x1="319.2" y1="24.3" x2="319.2" y2="25.9" stroke="#444" stroke-width="0.5"/>
<line x1="344.6" y1="24.3" x2="344.6" y2="25.9" stroke="#444" stroke-width="0.5"/>
<text x="299.2" y="35.2" font-size="5" fill="#333" stroke="#333" stroke-width="0.12">Chr5</text>
<text x="325.5" y="38.1" font-size="4.25" text-anchor="middle" fill="#222" stroke="#222" stroke-width="0.12">92,340,000</text>
<text x="350" y="38.1" font-size="4.25" text-anchor="middle" fill="#222" stroke="#222" stroke-width="0.12">92,350,000</text>
<text x="375.8" y="38.1" font-size="4.25" text-anchor="middle" fill="#222" stroke="#222" stroke-width="0.12">92,360,000</text>
<line x1="327" y1="39.7" x2="327" y2="40.9" stroke="#444" stroke-width="0.6"/>
<line x1="351.5" y1="39.7" x2="351.5" y2="40.9" stroke="#444" stroke-width="0.6"/>
<line x1="375.4" y1="39.7" x2="375.4" y2="40.9" stroke="#444" stroke-width="0.6"/>
<rect x="320.1" y="42.5" width="63.7" height="36.3" fill="#ebebf6"/>
<rect x="320.1" y="118.4" width="63.7" height="35.1" fill="#ebebf6"/>
<g fill="url(#cgb)"><path d="M320.1 78.8V76.7L321.3 76.9L321.7 77V78.8Z"/><path d="M321.3 78.8V76.9L321.8 77.1L322.2 77V78.8Z"/><path d="M321.8 78.8V77.1L322.5 76.9L322.9 76.9V78.8Z"/><path d="M322.5 78.8V76.9L323.7 76.7L324 76.6V78.8Z"/><path d="M323.7 78.8V76.7L323.7 76.7L324.1 76.6V78.8Z"/><path d="M323.7 78.8V76.7L324.9 76.5L325.3 76.5V78.8Z"/><path d="M324.9 78.8V76.5L326.1 76.3L326.5 76.3V78.8Z"/><path d="M326.1 78.8V76.3L326.2 76.3L326.5 76.3V78.8Z"/><path d="M326.2 78.8V76.3L327.3 76.2L327.7 76.2V78.8Z"/><path d="M327.3 78.8V76.2L328.5 76.1L328.9 76.1V78.8Z"/><path d="M328.5 78.8V76.1L328.6 76.1L329 76V78.8Z"/><path d="M328.6 78.8V76.1L329.7 76L330.1 75.9V78.8Z"/><path d="M329.7 78.8V76L330.9 75.8L331.3 75.9V78.8Z"/><path d="M330.9 78.8V75.8L331.1 75.8L331.4 75.9V78.8Z"/><path d="M331.1 78.8V75.8L332.1 76L332.5 76.1V78.8Z"/><path d="M332.1 78.8V76L333.3 76.3L333.7 76.3V78.8Z"/><path d="M333.3 78.8V76.3L333.5 76.3L333.9 76.4V78.8Z"/><path d="M333.5 78.8V76.3L334.5 76.5L334.9 76.5V78.8Z"/><path d="M334.5 78.8V76.5L335.7 76.6L336.1 76.7V78.8Z"/><path d="M335.7 78.8V76.6L336 76.7L336.4 76.6V78.8Z"/><path d="M336 78.8V76.7L336.9 76.4L337.3 76.3V78.8Z"/><path d="M336.9 78.8V76.4L338.1 76L338.5 75.8V78.8Z"/><path d="M338.1 78.8V76L338.5 75.8L338.8 76V78.8Z"/><path d="M338.5 78.8V75.8L339.3 76.2L339.7 76.4V78.8Z"/><path d="M339.3 78.8V76.2L340.3 76.7L340.7 76.8V78.8Z"/><path d="M340.3 78.8V76.7L340.5 76.7L340.9 76.8V78.8Z"/><path d="M340.5 78.8V76.7L341.7 77L342.1 77.1V78.8Z"/><path d="M341.7 78.8V77L342.8 77.3L343.1 77.3V78.8Z"/><path d="M342.8 78.8V77.3L342.9 77.3L343.3 77.4V78.8Z"/><path d="M342.9 78.8V77.3L344.1 77.4L344.5 77.5V78.8Z"/><path d="M344.1 78.8V77.4L344.6 77.5L345 77.3V78.8Z"/><path d="M344.6 78.8V77.5L345.3 77.2L345.7 77V78.8Z"/><path d="M345.3 78.8V77.2L346.5 76.7L346.8 76.5V78.8Z"/><path d="M346.5 78.8V76.7L346.5 76.7L346.9 76.5V78.8Z"/><path d="M346.5 78.8V76.7L347.7 76.1L348.1 76V78.8Z"/><path d="M347.7 78.8V76.1L348.3 75.8L348.7 76V78.8Z"/><path d="M348.3 78.8V75.8L348.9 76.1L349.3 76.3V78.8Z"/><path d="M348.9 78.8V76.1L350.1 76.7L350.5 76.8V78.8Z"/><path d="M350.1 78.8V76.7L350.2 76.7L350.5 76.8V78.8Z"/><path d="M350.2 78.8V76.7L351.3 77L351.7 77.1V78.8Z"/><path d="M351.3 78.8V77L352.2 77.3L352.6 77.2V78.8Z"/><path d="M352.2 78.8V77.3L352.5 77.2L352.9 77.1V78.8Z"/><path d="M352.5 78.8V77.2L353.7 76.9L354.1 76.8V78.8Z"/><path d="M353.7 78.8V76.9L354.5 76.7L354.8 76.5V78.8Z"/><path d="M354.5 78.8V76.7L354.9 76.5L355.3 76.3V78.8Z"/><path d="M354.9 78.8V76.5L356.1 75.9L356.5 75.7V78.8Z"/><path d="M356.1 78.8V75.9L356.9 75.5L357.3 75.2V78.8Z"/><path d="M356.9 78.8V75.5L357.3 75.2L357.7 74.9V78.8Z"/><path d="M357.3 78.8V75.2L358.5 74.3L358.9 74.1V78.8Z"/><path d="M358.5 78.8V74.3L359.1 73.9L359.5 74.1V78.8Z"/><path d="M359.1 78.8V73.9L359.7 74.2L360.1 74.4V78.8Z"/><path d="M359.7 78.8V74.2L360.9 74.9L361.3 75.1V78.8Z"/><path d="M360.9 78.8V74.9L361.2 75.1L361.6 75.3V78.8Z"/><path d="M361.2 78.8V75.1L362.1 75.7L362.5 75.9V78.8Z"/><path d="M362.1 78.8V75.7L363.1 76.3L363.4 76.4V78.8Z"/><path d="M363.1 78.8V76.3L363.3 76.4L363.7 76.4V78.8Z"/><path d="M363.3 78.8V76.4L364.5 76.6L364.9 76.7V78.8Z"/><path d="M364.5 78.8V76.6L364.9 76.7L365.3 76.6V78.8Z"/><path d="M364.9 78.8V76.7L365.7 76.4L366.1 76.3V78.8Z"/><path d="M365.7 78.8V76.4L366.8 76.1L367.1 75.9V78.8Z"/><path d="M366.8 78.8V76.1L366.9 76L367.3 75.9V78.8Z"/><path d="M366.9 78.8V76L368.1 75.5L368.5 75.3V78.8Z"/><path d="M368.1 78.8V75.5L369 75.1L369.3 75.3V78.8Z"/><path d="M369 78.8V75.1L369.3 75.2L369.7 75.4V78.8Z"/><path d="M369.3 78.8V75.2L370.5 75.8L370.9 76V78.8Z"/><path d="M370.5 78.8V75.8L371.1 76.1L371.4 76.2V78.8Z"/><path d="M371.1 78.8V76.1L371.7 76.3L372.1 76.4V78.8Z"/><path d="M371.7 78.8V76.3L372.9 76.7L373.3 76.6V78.8Z"/><path d="M372.9 78.8V76.7L372.9 76.7L373.3 76.6V78.8Z"/><path d="M372.9 78.8V76.7L374.1 76.5L374.5 76.5V78.8Z"/><path d="M374.1 78.8V76.5L375.3 76.3L375.7 76.4V78.8Z"/><path d="M375.3 78.8V76.3L375.4 76.3L375.7 76.4V78.8Z"/><path d="M375.4 78.8V76.3L376.5 76.5L376.9 76.5V78.8Z"/><path d="M376.5 78.8V76.5L377.7 76.7L378.1 76.7V78.8Z"/><path d="M377.7 78.8V76.7L377.8 76.7L378.2 76.7V78.8Z"/><path d="M377.8 78.8V76.7L378.9 76.9L379.3 76.9V78.8Z"/><path d="M378.9 78.8V76.9L380.1 77L380.5 76.9V78.8Z"/><path d="M380.1 78.8V77L380.3 77.1L380.7 76.8V78.8Z"/><path d="M380.3 78.8V77.1L381.3 76.2L381.7 75.9V78.8Z"/><path d="M381.3 78.8V76.2L382.2 75.5L382.5 75V78.8Z"/><path d="M382.2 78.8V75.5L382.5 75L382.9 74.6V78.8Z"/><path d="M382.5 78.8V75L383.4 73.9L383.7 73.9V78.8Z"/><path d="M383.4 78.8V73.9L383.7 73.9L383.8 73.9V78.8Z"/><path d="M383.7 78.8V73.9L383.8 73.9L383.8 73.9V78.8Z"/></g>
<path d="M320.1 76.69 L321.3 76.95 L321.85 77.06 L322.5 76.93 L323.69 76.69 L323.7 76.69 L324.9 76.51 L326.1 76.33 L326.15 76.32 L327.3 76.21 L328.5 76.09 L328.62 76.08 L329.7 75.97 L330.9 75.85 L331.08 75.83 L332.1 76.04 L333.3 76.28 L333.54 76.32 L334.5 76.47 L335.7 76.65 L336 76.69 L336.9 76.38 L338.1 75.96 L338.46 75.83 L339.3 76.22 L340.31 76.69 L340.5 76.74 L341.7 77.04 L342.77 77.31 L342.9 77.32 L344.1 77.45 L344.62 77.5 L345.3 77.2 L346.46 76.69 L346.5 76.67 L347.7 76.11 L348.31 75.83 L348.9 76.11 L350.1 76.67 L350.15 76.69 L351.3 77.03 L352.25 77.31 L352.5 77.24 L353.7 76.9 L354.46 76.69 L354.9 76.47 L356.1 75.87 L356.92 75.46 L357.3 75.19 L358.5 74.32 L359.14 73.86 L359.7 74.19 L360.9 74.9 L361.23 75.09 L362.1 75.67 L363.08 76.32 L363.3 76.37 L364.5 76.61 L364.92 76.69 L365.7 76.43 L366.77 76.08 L366.9 76.02 L368.1 75.49 L368.98 75.09 L369.3 75.24 L370.5 75.81 L371.08 76.08 L371.7 76.28 L372.9 76.68 L372.92 76.69 L374.1 76.52 L375.3 76.34 L375.38 76.32 L376.5 76.49 L377.7 76.67 L377.85 76.69 L378.9 76.85 L380.1 77.03 L380.31 77.06 L381.3 76.2 L382.15 75.46 L382.5 75.01 L383.38 73.86 L383.7 73.86 L383.8 73.86" fill="none" stroke="#141550" stroke-width="0.7" stroke-linejoin="round"/>
<line x1="320.1" y1="78.35" x2="383.8" y2="78.35" stroke="#1c1e68" stroke-width="0.9"/>
<text x="317.2" y="46.7" font-size="5" text-anchor="end" fill="#3e4f9e" stroke="#3e4f9e" stroke-width="0.12">100</text>
<text x="317.2" y="78.8" font-size="5" text-anchor="end" fill="#3e4f9e" stroke="#3e4f9e" stroke-width="0.12">0</text>
<g fill="url(#cgr)"><path d="M320.1 116.3V114.7L321.3 113.8L321.7 113.6V116.3Z"/><path d="M321.3 116.3V113.8L321.8 113.5L322.2 113.2V116.3Z"/><path d="M321.8 116.3V113.5L322.5 113L322.9 112.8V116.3Z"/><path d="M322.5 116.3V113L323.7 112.2L324 112.2V116.3Z"/><path d="M323.7 116.3V112.2L323.7 112.2L324.1 112.2V116.3Z"/><path d="M323.7 116.3V112.2L324.9 112.2L325.3 112.2V116.3Z"/><path d="M324.9 116.3V112.2L325.5 112.2L325.9 112.5V116.3Z"/><path d="M325.5 116.3V112.2L326.1 112.7L326.5 113V116.3Z"/><path d="M326.1 116.3V112.7L327.3 113.6L327.7 113.8V116.3Z"/><path d="M327.3 116.3V113.6L327.4 113.7L327.7 113.9V116.3Z"/><path d="M327.4 116.3V113.7L328.5 114.3L328.9 114.5V116.3Z"/><path d="M328.5 116.3V114.3L329.2 114.7L329.6 114.7V116.3Z"/><path d="M329.2 116.3V114.7L329.7 114.7L330.1 114.8V116.3Z"/><path d="M329.7 116.3V114.7L330.9 114.8L331.3 114.9V116.3Z"/><path d="M330.9 116.3V114.8L332.1 114.9L332.5 114.9V116.3Z"/><path d="M332.1 116.3V114.9L332.3 114.9L332.7 114.9V116.3Z"/><path d="M332.3 116.3V114.9L333.3 114.9L333.7 114.9V116.3Z"/><path d="M333.3 116.3V114.9L334.5 114.9L334.9 114.9V116.3Z"/><path d="M334.5 116.3V114.9L335.7 114.9L336.1 114.9V116.3Z"/><path d="M335.7 116.3V114.9L336 114.9L336.4 114.9V116.3Z"/><path d="M336 116.3V114.9L336.9 114.9L337.3 114.9V116.3Z"/><path d="M336.9 116.3V114.9L338.1 114.8L338.5 114.8V116.3Z"/><path d="M338.1 116.3V114.8L339.3 114.7L339.7 114.7V116.3Z"/><path d="M339.3 116.3V114.7L339.7 114.7L340 114.6V116.3Z"/><path d="M339.7 116.3V114.7L340.5 114.5L340.9 114.4V116.3Z"/><path d="M340.5 116.3V114.5L341.7 114.2L342.1 114.1V116.3Z"/><path d="M341.7 116.3V114.2L342.2 114.1L342.5 113.7V116.3Z"/><path d="M342.2 116.3V114.1L342.9 113.3L343.3 113V116.3Z"/><path d="M342.9 116.3V113.3L344 112.2L344.4 111.2V116.3Z"/><path d="M344 116.3V112.2L344.1 111.9L344.5 110.8V116.3Z"/><path d="M344.1 116.3V111.9L345.3 108.2L345.7 107.1V116.3Z"/><path d="M345.3 116.3V108.2L345.6 107.3L346 105.9V116.3Z"/><path d="M345.6 116.3V107.3L346.5 103.7L346.9 102.4V116.3Z"/><path d="M346.5 116.3V103.7L346.8 102.4L347.2 101.9V116.3Z"/><path d="M346.8 116.3V102.4L347.7 101.1L348.1 100.6V116.3Z"/><path d="M347.7 116.3V101.1L348.1 100.5L348.4 100.8V116.3Z"/><path d="M348.1 116.3V100.5L348.9 101.2L349.3 101.5V116.3Z"/><path d="M348.9 116.3V101.2L349.5 101.8L349.9 102.6V116.3Z"/><path d="M349.5 116.3V101.8L350.1 103.2L350.5 104V116.3Z"/><path d="M350.1 116.3V103.2L350.8 104.8L351.1 107V116.3Z"/><path d="M350.8 116.3V104.8L351.3 108.2L351.7 110.4V116.3Z"/><path d="M351.3 116.3V108.2L351.8 111L352.1 112V116.3Z"/><path d="M351.8 116.3V111L352.5 113.1L352.9 114.1V116.3Z"/><path d="M352.5 116.3V113.1L353 114.4L353.3 114.2V116.3Z"/><path d="M353 116.3V114.4L353.7 114L354.1 113.7V116.3Z"/><path d="M353.7 116.3V114L354.5 113.5L354.8 113.2V116.3Z"/><path d="M354.5 116.3V113.5L354.9 113.1L355.3 112.8V116.3Z"/><path d="M354.9 116.3V113.1L356.1 112.1L356.5 111.8V116.3Z"/><path d="M356.1 116.3V112.1L356.7 111.6L357 111.8V116.3Z"/><path d="M356.7 116.3V111.6L357.3 112L357.7 112.2V116.3Z"/><path d="M357.3 116.3V112L358.5 112.7L358.9 112.9V116.3Z"/><path d="M358.5 116.3V112.7L358.8 112.8L359.1 113.1V116.3Z"/><path d="M358.8 116.3V112.8L359.7 113.5L360.1 113.7V116.3Z"/><path d="M359.7 116.3V113.5L360.6 114.1L361 113.9V116.3Z"/><path d="M360.6 116.3V114.1L360.9 113.9L361.3 113.8V116.3Z"/><path d="M360.9 116.3V113.9L362.1 113.4L362.5 113.2V116.3Z"/><path d="M362.1 116.3V113.4L362.5 113.2L362.8 112.7V116.3Z"/><path d="M362.5 116.3V113.2L363.3 112.1L363.7 111.6V116.3Z"/><path d="M363.3 116.3V112.1L364.1 111L364.4 111.6V116.3Z"/><path d="M364.1 116.3V111L364.5 111.8L364.9 112.4V116.3Z"/><path d="M364.5 116.3V111.8L365.5 113.7L365.9 113.9V116.3Z"/><path d="M365.5 116.3V113.7L365.7 113.8L366.1 114V116.3Z"/><path d="M365.7 116.3V113.8L366.9 114.6L367.3 114.8V116.3Z"/><path d="M366.9 116.3V114.6L367.4 114.9L367.7 114.7V116.3Z"/><path d="M367.4 116.3V114.9L368.1 114.4L368.5 114.1V116.3Z"/><path d="M368.1 116.3V114.4L369 113.7L369.3 113.9V116.3Z"/><path d="M369 116.3V113.7L369.3 113.9L369.7 114.1V116.3Z"/><path d="M369.3 116.3V113.9L370.5 114.6L370.9 114.7V116.3Z"/><path d="M370.5 116.3V114.6L370.7 114.7L371.1 114.7V116.3Z"/><path d="M370.7 116.3V114.7L371.7 114.8L372.1 114.9V116.3Z"/><path d="M371.7 116.3V114.8L372.9 115L373.3 115V116.3Z"/><path d="M372.9 116.3V115L372.9 115L373.3 115V116.3Z"/><path d="M372.9 116.3V115L374.1 114.9L374.5 114.8V116.3Z"/><path d="M374.1 116.3V114.9L375.3 114.7L375.7 114.7V116.3Z"/><path d="M375.3 116.3V114.7L375.4 114.7L375.7 114.7V116.3Z"/><path d="M375.4 116.3V114.7L376.5 114.8L376.9 114.8V116.3Z"/><path d="M376.5 116.3V114.8L377.7 114.9L378.1 114.9V116.3Z"/><path d="M377.7 116.3V114.9L377.8 114.9L378.2 114.9V116.3Z"/><path d="M377.8 116.3V114.9L378.9 114.7L379.3 114.7V116.3Z"/><path d="M378.9 116.3V114.7L380.1 114.5L380.5 114.4V116.3Z"/><path d="M380.1 116.3V114.5L380.3 114.4L380.7 114.3V116.3Z"/><path d="M380.3 116.3V114.4L381.3 113.9L381.7 113.7V116.3Z"/><path d="M381.3 116.3V113.9L382.2 113.5L382.5 113.4V116.3Z"/><path d="M382.2 116.3V113.5L382.5 113.4L382.9 113.3V116.3Z"/><path d="M382.5 116.3V113.4L383.4 113.2L383.7 113.2V116.3Z"/><path d="M383.4 116.3V113.2L383.7 113.2L383.8 113.2V116.3Z"/><path d="M383.7 116.3V113.2L383.8 113.2L383.8 113.2V116.3Z"/></g>
<path d="M320.1 114.69 L321.3 113.85 L321.85 113.46 L322.5 113.03 L323.69 112.23 L323.7 112.23 L324.9 112.23 L325.54 112.23 L326.1 112.68 L327.3 113.64 L327.38 113.71 L328.5 114.3 L329.23 114.69 L329.7 114.73 L330.9 114.83 L332.1 114.92 L332.31 114.94 L333.3 114.94 L334.5 114.94 L335.7 114.94 L336 114.94 L336.9 114.88 L338.1 114.8 L339.3 114.72 L339.69 114.69 L340.5 114.49 L341.7 114.19 L342.15 114.08 L342.9 113.33 L344 112.23 L344.1 111.92 L345.3 108.23 L345.6 107.31 L346.5 103.71 L346.83 102.38 L347.7 101.08 L348.06 100.54 L348.9 101.24 L349.54 101.77 L350.1 103.17 L350.77 104.85 L351.3 108.16 L351.75 111 L352.5 113.09 L352.98 114.45 L353.7 113.97 L354.46 113.46 L354.9 113.1 L356.1 112.1 L356.68 111.62 L357.3 111.98 L358.5 112.69 L358.77 112.85 L359.7 113.47 L360.62 114.08 L360.9 113.94 L362.1 113.38 L362.46 113.22 L363.3 112.05 L364.06 111 L364.5 111.8 L365.54 113.71 L365.7 113.82 L366.9 114.62 L367.38 114.94 L368.1 114.39 L368.98 113.71 L369.3 113.89 L370.5 114.57 L370.71 114.69 L371.7 114.83 L372.9 115 L372.92 115 L374.1 114.85 L375.3 114.7 L375.38 114.69 L376.5 114.8 L377.7 114.92 L377.85 114.94 L378.9 114.73 L380.1 114.49 L380.31 114.45 L381.3 113.92 L382.15 113.46 L382.5 113.39 L383.38 113.22 L383.7 113.22 L383.8 113.22" fill="none" stroke="#4a0810" stroke-width="0.7" stroke-linejoin="round"/>
<line x1="320.1" y1="115.85" x2="383.8" y2="115.85" stroke="#c01424" stroke-width="0.9"/>
<text x="317.2" y="84.2" font-size="5" text-anchor="end" fill="#d8404c" stroke="#d8404c" stroke-width="0.12">100</text>
<text x="317.2" y="116.3" font-size="5" text-anchor="end" fill="#d8404c" stroke="#d8404c" stroke-width="0.12">0</text>
<g fill="url(#cgp)"><path d="M320.1 153.5V151.9L321.3 151.6L321.7 151.5V153.5Z"/><path d="M321.3 153.5V151.6L322.5 151.4L322.8 151.2V153.5Z"/><path d="M322.5 153.5V151.4L322.5 151.3L322.9 151.2V153.5Z"/><path d="M322.5 153.5V151.3L323.7 150.7L324.1 150.6V153.5Z"/><path d="M323.7 153.5V150.7L324.9 150.1L325.3 150.2V153.5Z"/><path d="M324.9 153.5V150.1L324.9 150.1L325.3 150.2V153.5Z"/><path d="M324.9 153.5V150.1L326.1 150.3L326.5 150.3V153.5Z"/><path d="M326.1 153.5V150.3L326.8 150.4L327.1 150.6V153.5Z"/><path d="M326.8 153.5V150.4L327.3 150.7L327.7 150.9V153.5Z"/><path d="M327.3 153.5V150.7L328.5 151.4L328.9 151.6V153.5Z"/><path d="M328.5 153.5V151.4L329.2 151.9L329.6 151.8V153.5Z"/><path d="M329.2 153.5V151.9L329.7 151.8L330.1 151.8V153.5Z"/><path d="M329.7 153.5V151.8L330.9 151.7L331.3 151.7V153.5Z"/><path d="M330.9 153.5V151.7L332.1 151.6L332.5 151.6V153.5Z"/><path d="M332.1 153.5V151.6L332.3 151.6L332.7 151.6V153.5Z"/><path d="M332.3 153.5V151.6L333.3 151.5L333.7 151.5V153.5Z"/><path d="M333.3 153.5V151.5L334.5 151.4L334.9 151.4V153.5Z"/><path d="M334.5 153.5V151.4L335.4 151.4L335.7 151.3V153.5Z"/><path d="M335.4 153.5V151.4L335.7 151.3L336.1 151.2V153.5Z"/><path d="M335.7 153.5V151.3L336.9 150.9L337.3 150.8V153.5Z"/><path d="M336.9 153.5V150.9L338.1 150.5L338.5 150.4V153.5Z"/><path d="M338.1 153.5V150.5L338.5 150.4L338.8 150.5V153.5Z"/><path d="M338.5 153.5V150.4L339.3 150.6L339.7 150.7V153.5Z"/><path d="M339.3 153.5V150.6L340.5 150.9L340.9 151V153.5Z"/><path d="M340.5 153.5V150.9L340.9 151L341.3 151.1V153.5Z"/><path d="M340.9 153.5V151L341.7 151.1L342.1 151.2V153.5Z"/><path d="M341.7 153.5V151.1L342.9 151.3L343.3 151.3V153.5Z"/><path d="M342.9 153.5V151.3L343.4 151.4L343.7 151.1V153.5Z"/><path d="M343.4 153.5V151.4L344.1 150.7L344.5 150.4V153.5Z"/><path d="M344.1 153.5V150.7L345.2 149.8L345.6 149V153.5Z"/><path d="M345.2 153.5V149.8L345.3 149.6L345.7 148.9V153.5Z"/><path d="M345.3 153.5V149.6L346.5 147.1L346.9 146.4V153.5Z"/><path d="M346.5 153.5V147.1L346.8 146.4L347.2 146.1V153.5Z"/><path d="M346.8 153.5V146.4L347.7 145.5L348.1 145.1V153.5Z"/><path d="M347.7 153.5V145.5L348.3 144.8L348.7 145V153.5Z"/><path d="M348.3 153.5V144.8L348.9 145.1L349.3 145.3V153.5Z"/><path d="M348.9 153.5V145.1L350.1 145.7L350.5 146.3V153.5Z"/><path d="M350.1 153.5V145.7L350.2 145.7L350.5 146.5V153.5Z"/><path d="M350.2 153.5V145.7L351.3 148.2L351.7 148.9V153.5Z"/><path d="M351.3 153.5V148.2L351.8 149.2L352.1 149.7V153.5Z"/><path d="M351.8 153.5V149.2L352.5 150.3L352.9 150.8V153.5Z"/><path d="M352.5 153.5V150.3L353.2 151.4L353.6 151.1V153.5Z"/><path d="M353.2 153.5V151.4L353.7 151.1L354.1 150.8V153.5Z"/><path d="M353.7 153.5V151.1L354.9 150.3L355.3 150V153.5Z"/><path d="M354.9 153.5V150.3L355.1 150.1L355.4 149.9V153.5Z"/><path d="M355.1 153.5V150.1L356.1 149.5L356.5 149.2V153.5Z"/><path d="M356.1 153.5V149.5L357.3 148.7L357.7 148.6V153.5Z"/><path d="M357.3 153.5V148.7L357.5 148.5L357.9 148.7V153.5Z"/><path d="M357.5 153.5V148.5L358.5 149.1L358.9 149.3V153.5Z"/><path d="M358.5 153.5V149.1L359.6 149.8L360 150V153.5Z"/><path d="M359.6 153.5V149.8L359.7 149.8L360.1 150.1V153.5Z"/><path d="M359.7 153.5V149.8L360.9 150.7L361.3 150.9V153.5Z"/><path d="M360.9 153.5V150.7L361.8 151.4L362.2 151.4V153.5Z"/><path d="M361.8 153.5V151.4L362.1 151.4L362.5 151.5V153.5Z"/><path d="M362.1 153.5V151.4L363.3 151.6L363.7 151.7V153.5Z"/><path d="M363.3 153.5V151.6L364.5 151.8L364.9 151.8V153.5Z"/><path d="M364.5 153.5V151.8L364.9 151.9L365.3 151.9V153.5Z"/><path d="M364.9 153.5V151.9L365.7 151.9L366.1 151.9V153.5Z"/><path d="M365.7 153.5V151.9L366.9 151.9L367.3 151.9V153.5Z"/><path d="M366.9 153.5V151.9L368.1 151.9L368.5 151.9V153.5Z"/><path d="M368.1 153.5V151.9L368.6 151.9L369 151.8V153.5Z"/><path d="M368.6 153.5V151.9L369.3 151.8L369.7 151.8V153.5Z"/><path d="M369.3 153.5V151.8L370.5 151.7L370.9 151.7V153.5Z"/><path d="M370.5 153.5V151.7L371.7 151.6L372 151.6V153.5Z"/><path d="M371.7 153.5V151.6L371.7 151.6L372.1 151.6V153.5Z"/><path d="M371.7 153.5V151.6L372.9 151.7L373.3 151.7V153.5Z"/><path d="M372.9 153.5V151.7L374.1 151.8L374.5 151.8V153.5Z"/><path d="M374.1 153.5V151.8L375.3 151.9L375.7 151.8V153.5Z"/><path d="M375.3 153.5V151.9L375.4 151.9L375.7 151.8V153.5Z"/><path d="M375.4 153.5V151.9L376.5 151.7L376.9 151.6V153.5Z"/><path d="M376.5 153.5V151.7L377.7 151.5L378.1 151.4V153.5Z"/><path d="M377.7 153.5V151.5L378.5 151.4L378.8 151.1V153.5Z"/><path d="M378.5 153.5V151.4L378.9 151L379.3 150.7V153.5Z"/><path d="M378.9 153.5V151L380.1 149.9L380.5 149.6V153.5Z"/><path d="M380.1 153.5V149.9L380.9 149.2L381.3 149V153.5Z"/><path d="M380.9 153.5V149.2L381.3 149L381.7 148.8V153.5Z"/><path d="M381.3 153.5V149L382.2 148.5L382.5 149.1V153.5Z"/><path d="M382.2 153.5V148.5L382.5 149.1L382.9 149.6V153.5Z"/><path d="M382.5 153.5V149.1L383.4 150.4L383.7 150.4V153.5Z"/><path d="M383.4 153.5V150.4L383.7 150.4L383.8 150.4V153.5Z"/><path d="M383.7 153.5V150.4L383.8 150.4L383.8 150.4V153.5Z"/></g>
<path d="M320.1 151.86 L321.3 151.61 L322.46 151.37 L322.5 151.35 L323.7 150.75 L324.9 150.15 L324.92 150.14 L326.1 150.3 L326.77 150.38 L327.3 150.7 L328.5 151.42 L329.23 151.86 L329.7 151.82 L330.9 151.73 L332.1 151.63 L332.31 151.62 L333.3 151.54 L334.5 151.44 L335.38 151.37 L335.7 151.27 L336.9 150.88 L338.1 150.5 L338.46 150.38 L339.3 150.59 L340.5 150.89 L340.92 151 L341.7 151.12 L342.9 151.3 L343.38 151.37 L344.1 150.75 L345.23 149.77 L345.3 149.63 L346.5 147.13 L346.83 146.45 L347.7 145.5 L348.31 144.85 L348.9 145.12 L350.1 145.68 L350.15 145.71 L351.3 148.18 L351.75 149.15 L352.5 150.27 L353.23 151.37 L353.7 151.06 L354.9 150.26 L355.08 150.14 L356.1 149.47 L357.3 148.69 L357.54 148.54 L358.5 149.1 L359.63 149.77 L359.7 149.82 L360.9 150.69 L361.85 151.37 L362.1 151.41 L363.3 151.6 L364.5 151.79 L364.92 151.86 L365.7 151.86 L366.9 151.86 L368.1 151.86 L368.62 151.86 L369.3 151.81 L370.5 151.71 L371.69 151.62 L371.7 151.62 L372.9 151.7 L374.1 151.78 L375.3 151.86 L375.38 151.86 L376.5 151.68 L377.7 151.49 L378.46 151.37 L378.9 150.97 L380.1 149.89 L380.92 149.15 L381.3 148.97 L382.15 148.54 L382.5 149.06 L383.38 150.38 L383.7 150.38 L383.8 150.38" fill="none" stroke="#2a0a3a" stroke-width="0.7" stroke-linejoin="round"/>
<line x1="320.1" y1="153.05" x2="383.8" y2="153.05" stroke="#b01e98" stroke-width="0.9"/>
<text x="317.2" y="122.6" font-size="5" text-anchor="end" fill="#8d3e9c" stroke="#8d3e9c" stroke-width="0.12">100</text>
<text x="317.2" y="153.5" font-size="5" text-anchor="end" fill="#8d3e9c" stroke="#8d3e9c" stroke-width="0.12">0</text>
<line x1="304.6" y1="43" x2="304.6" y2="155" stroke="#555" stroke-width="0.9"/>
<text x="291" y="100.5" font-size="6.4" fill="#222" stroke="#222" stroke-width="0.12">NC</text>
<rect x="320.1" y="192.7" width="63.7" height="35.1" fill="#ebebf6"/>
<g fill="url(#cgb)"><path d="M320.1 190.8V189.5L321.3 189.4L321.7 189.4V190.8Z"/><path d="M321.3 190.8V189.4L322.5 189.3L322.8 189.3V190.8Z"/><path d="M322.5 190.8V189.3L322.5 189.3L322.9 189.3V190.8Z"/><path d="M322.5 190.8V189.3L323.7 189.4L324.1 189.4V190.8Z"/><path d="M323.7 190.8V189.4L324.9 189.5L325.3 189.4V190.8Z"/><path d="M324.9 190.8V189.5L324.9 189.5L325.3 189.4V190.8Z"/><path d="M324.9 190.8V189.5L326.1 189L326.5 188.9V190.8Z"/><path d="M326.1 190.8V189L327.3 188.6L327.7 188.6V190.8Z"/><path d="M327.3 190.8V188.6L327.4 188.6L327.7 188.7V190.8Z"/><path d="M327.4 190.8V188.6L328.5 188.9L328.9 189V190.8Z"/><path d="M328.5 190.8V188.9L329.7 189.2L330.1 189.3V190.8Z"/><path d="M329.7 190.8V189.2L329.8 189.3L330.2 189.2V190.8Z"/><path d="M329.8 190.8V189.3L330.9 189.1L331.3 189.1V190.8Z"/><path d="M330.9 190.8V189.1L332.1 189L332.5 188.9V190.8Z"/><path d="M332.1 190.8V189L332.3 188.9L332.7 188.9V190.8Z"/><path d="M332.3 190.8V188.9L333.3 188.8L333.7 188.7V190.8Z"/><path d="M333.3 190.8V188.8L334.5 188.6L334.9 188.6V190.8Z"/><path d="M334.5 190.8V188.6L334.8 188.6L335.1 188.6V190.8Z"/><path d="M334.8 190.8V188.6L335.7 188.7L336.1 188.8V190.8Z"/><path d="M335.7 190.8V188.7L336.9 189L337.3 189V190.8Z"/><path d="M336.9 190.8V189L337.2 189L337.6 189.1V190.8Z"/><path d="M337.2 190.8V189L338.1 189.2L338.5 189.3V190.8Z"/><path d="M338.1 190.8V189.2L339.3 189.4L339.7 189.5V190.8Z"/><path d="M339.3 190.8V189.4L339.7 189.5L340 189.5V190.8Z"/><path d="M339.7 190.8V189.5L340.5 189.4L340.9 189.4V190.8Z"/><path d="M340.5 190.8V189.4L341.7 189.3L342.1 189.3V190.8Z"/><path d="M341.7 190.8V189.3L342.2 189.3L342.5 189.2V190.8Z"/><path d="M342.2 190.8V189.3L342.9 189.2L343.3 189.1V190.8Z"/><path d="M342.9 190.8V189.2L344.1 189L344.5 188.9V190.8Z"/><path d="M344.1 190.8V189L344.6 188.9L345 189V190.8Z"/><path d="M344.6 190.8V188.9L345.3 189L345.7 189.1V190.8Z"/><path d="M345.3 190.8V189L346.5 189.2L346.9 189.3V190.8Z"/><path d="M346.5 190.8V189.2L347.1 189.3L347.4 189.2V190.8Z"/><path d="M347.1 190.8V189.3L347.7 189.1L348.1 189V190.8Z"/><path d="M347.7 190.8V189.1L348.9 188.7L349.3 188.6V190.8Z"/><path d="M348.9 190.8V188.7L349.5 188.6L349.9 188.6V190.8Z"/><path d="M349.5 190.8V188.6L350.1 188.6L350.5 188.6V190.8Z"/><path d="M350.1 190.8V188.6L351.3 188.6L351.7 188.6V190.8Z"/><path d="M351.3 190.8V188.6L352 188.6L352.4 188.7V190.8Z"/><path d="M352 190.8V188.6L352.5 188.8L352.9 189V190.8Z"/><path d="M352.5 190.8V188.8L353.7 189.4L354.1 189.5V190.8Z"/><path d="M353.7 190.8V189.4L353.8 189.5L354.2 189.4V190.8Z"/><path d="M353.8 190.8V189.5L354.9 189.3L355.3 189.2V190.8Z"/><path d="M354.9 190.8V189.3L356.1 189L356.5 188.9V190.8Z"/><path d="M356.1 190.8V189L356.3 188.9L356.7 188.8V190.8Z"/><path d="M356.3 190.8V188.9L357.3 188.6L357.7 188.5V190.8Z"/><path d="M357.3 190.8V188.6L358.5 188.2L358.9 188V190.8Z"/><path d="M358.5 190.8V188.2L358.8 188.1L359.1 188V190.8Z"/><path d="M358.8 190.8V188.1L359.7 187.8L360.1 187.7V190.8Z"/><path d="M359.7 190.8V187.8L360.9 187.4L361.3 187.3V190.8Z"/><path d="M360.9 190.8V187.4L361.2 187.3L361.6 187.3V190.8Z"/><path d="M361.2 190.8V187.3L362.1 187.2L362.5 187.2V190.8Z"/><path d="M362.1 190.8V187.2L363.1 187.1L363.4 187.2V190.8Z"/><path d="M363.1 190.8V187.1L363.3 187.2L363.7 187.3V190.8Z"/><path d="M363.3 190.8V187.2L364.5 187.6L364.9 187.7V190.8Z"/><path d="M364.5 190.8V187.6L364.9 187.7L365.3 187.9V190.8Z"/><path d="M364.9 190.8V187.7L365.7 188.1L366.1 188.3V190.8Z"/><path d="M365.7 190.8V188.1L366.9 188.7L367.3 188.9V190.8Z"/><path d="M366.9 190.8V188.7L367.4 188.9L367.7 189V190.8Z"/><path d="M367.4 190.8V188.9L368.1 189.1L368.5 189.2V190.8Z"/><path d="M368.1 190.8V189.1L369.3 189.4L369.7 189.5V190.8Z"/><path d="M369.3 190.8V189.4L369.8 189.5L370.2 189.5V190.8Z"/><path d="M369.8 190.8V189.5L370.5 189.5L370.9 189.5V190.8Z"/><path d="M370.5 190.8V189.5L371.7 189.5L372.1 189.5V190.8Z"/><path d="M371.7 190.8V189.5L372.3 189.5L372.7 189.5V190.8Z"/><path d="M372.3 190.8V189.5L372.9 189.5L373.3 189.5V190.8Z"/><path d="M372.9 190.8V189.5L374.1 189.5L374.5 189.5V190.8Z"/><path d="M374.1 190.8V189.5L375.3 189.5L375.7 189.5V190.8Z"/><path d="M375.3 190.8V189.5L375.4 189.5L375.7 189.5V190.8Z"/><path d="M375.4 190.8V189.5L376.5 189.4L376.9 189.4V190.8Z"/><path d="M376.5 190.8V189.4L377.7 189.3L378.1 189.3V190.8Z"/><path d="M377.7 190.8V189.3L377.8 189.3L378.2 189.2V190.8Z"/><path d="M377.8 190.8V189.3L378.9 189.1L379.3 189.1V190.8Z"/><path d="M378.9 190.8V189.1L380.1 189L380.5 188.9V190.8Z"/><path d="M380.1 190.8V189L380.3 188.9L380.7 188.9V190.8Z"/><path d="M380.3 190.8V188.9L381.3 188.9L381.7 188.9V190.8Z"/><path d="M381.3 190.8V188.9L382.5 188.9L382.9 188.9V190.8Z"/><path d="M382.5 190.8V188.9L383.4 188.9L383.7 188.9V190.8Z"/><path d="M383.4 190.8V188.9L383.7 188.9L383.8 188.9V190.8Z"/><path d="M383.7 190.8V188.9L383.8 188.9L383.8 188.9V190.8Z"/></g>
<path d="M320.1 189.5 L321.3 189.39 L322.46 189.29 L322.5 189.3 L323.7 189.4 L324.9 189.5 L324.92 189.5 L326.1 189.05 L327.3 188.59 L327.38 188.55 L328.5 188.89 L329.7 189.25 L329.85 189.29 L330.9 189.13 L332.1 188.95 L332.31 188.92 L333.3 188.77 L334.5 188.59 L334.77 188.55 L335.7 188.74 L336.9 188.98 L337.23 189.05 L338.1 189.21 L339.3 189.43 L339.69 189.5 L340.5 189.43 L341.7 189.33 L342.15 189.29 L342.9 189.18 L344.1 189 L344.62 188.92 L345.3 189.03 L346.5 189.21 L347.08 189.29 L347.7 189.11 L348.9 188.75 L349.54 188.55 L350.1 188.55 L351.3 188.55 L352 188.55 L352.5 188.81 L353.7 189.43 L353.85 189.5 L354.9 189.25 L356.1 188.97 L356.31 188.92 L357.3 188.58 L358.5 188.16 L358.77 188.06 L359.7 187.78 L360.9 187.42 L361.23 187.32 L362.1 187.21 L363.08 187.08 L363.3 187.15 L364.5 187.55 L364.92 187.69 L365.7 188.08 L366.9 188.68 L367.38 188.92 L368.1 189.09 L369.3 189.37 L369.85 189.5 L370.5 189.5 L371.7 189.5 L372.31 189.5 L372.9 189.5 L374.1 189.5 L375.3 189.5 L375.38 189.5 L376.5 189.41 L377.7 189.3 L377.85 189.29 L378.9 189.13 L380.1 188.95 L380.31 188.92 L381.3 188.92 L382.5 188.92 L383.38 188.92 L383.7 188.92 L383.8 188.92" fill="none" stroke="#141550" stroke-width="0.7" stroke-linejoin="round"/>
<line x1="320.1" y1="190.35" x2="383.8" y2="190.35" stroke="#1c1e68" stroke-width="0.9"/>
<text x="317.2" y="159.2" font-size="5" text-anchor="end" fill="#3e4f9e" stroke="#3e4f9e" stroke-width="0.12">100</text>
<text x="317.2" y="190.8" font-size="5" text-anchor="end" fill="#3e4f9e" stroke="#3e4f9e" stroke-width="0.12">0</text>
<g fill="url(#cgr)"><path d="M320.1 227.8V226.5L321.3 226.3L321.7 226.2V227.8Z"/><path d="M321.3 227.8V226.3L322.5 226.1L322.9 226V227.8Z"/><path d="M322.5 227.8V226.1L323.7 225.8L324 225.8V227.8Z"/><path d="M323.7 227.8V225.8L323.7 225.8L324.1 225.8V227.8Z"/><path d="M323.7 227.8V225.8L324.9 225.7L325.3 225.7V227.8Z"/><path d="M324.9 227.8V225.7L326.1 225.6L326.5 225.6V227.8Z"/><path d="M326.1 227.8V225.6L327.3 225.5L327.7 225.4V227.8Z"/><path d="M327.3 227.8V225.5L327.4 225.5L327.7 225.4V227.8Z"/><path d="M327.4 227.8V225.5L328.5 225.3L328.9 225.3V227.8Z"/><path d="M328.5 227.8V225.3L329.7 225.2L330.1 225.1V227.8Z"/><path d="M329.7 227.8V225.2L330.9 225L331.3 225V227.8Z"/><path d="M330.9 227.8V225L331.1 225L331.4 224.9V227.8Z"/><path d="M331.1 227.8V225L332.1 224.8L332.5 224.8V227.8Z"/><path d="M332.1 227.8V224.8L333.3 224.7L333.7 224.7V227.8Z"/><path d="M333.3 227.8V224.7L333.5 224.6L333.9 224.7V227.8Z"/><path d="M333.5 227.8V224.6L334.5 225L334.9 225.1V227.8Z"/><path d="M334.5 227.8V225L335.7 225.4L336.1 225.5V227.8Z"/><path d="M335.7 227.8V225.4L336 225.5L336.4 225.5V227.8Z"/><path d="M336 227.8V225.5L336.9 225.6L337.3 225.7V227.8Z"/><path d="M336.9 227.8V225.6L338.1 225.8L338.5 225.8V227.8Z"/><path d="M338.1 227.8V225.8L338.5 225.8L338.8 225.7V227.8Z"/><path d="M338.5 227.8V225.8L339.3 225.6L339.7 225.4V227.8Z"/><path d="M339.3 227.8V225.6L340.5 225.1L340.9 225V227.8Z"/><path d="M340.5 227.8V225.1L340.9 225L341.3 224.8V227.8Z"/><path d="M340.9 227.8V225L341.7 224.7L342.1 224.5V227.8Z"/><path d="M341.7 227.8V224.7L342.9 224.2L343.3 224.1V227.8Z"/><path d="M342.9 227.8V224.2L343.4 224L343.7 223.3V227.8Z"/><path d="M343.4 227.8V224L344.1 222.6L344.5 221.9V227.8Z"/><path d="M344.1 227.8V222.6L345.2 220.3L345.6 217.9V227.8Z"/><path d="M345.2 227.8V220.3L345.3 219.8L345.7 217.4V227.8Z"/><path d="M345.3 227.8V219.8L346.5 211.7L346.8 206.9V227.8Z"/><path d="M346.5 227.8V211.7L346.5 211.2L346.9 206.4V227.8Z"/><path d="M346.5 227.8V211.2L347.3 200L347.7 200V227.8Z"/><path d="M347.3 227.8V200L347.7 200L348.1 200V227.8Z"/><path d="M347.7 227.8V200L348.9 200L349.3 200V227.8Z"/><path d="M348.9 227.8V200L350.1 200L350.5 203.2V227.8Z"/><path d="M350.1 227.8V200L350.2 200L350.5 203.8V227.8Z"/><path d="M350.2 227.8V200L351 209.2L351.4 213.4V227.8Z"/><path d="M351 227.8V209.2L351.3 212.6L351.7 216.8V227.8Z"/><path d="M351.3 227.8V212.6L352 220.9L352.4 222.7V227.8Z"/><path d="M352 227.8V220.9L352.5 223.4L352.9 225.2V227.8Z"/><path d="M352.5 227.8V223.4L353 225.8L353.3 225.4V227.8Z"/><path d="M353 227.8V225.8L353.7 225L354.1 224.5V227.8Z"/><path d="M353.7 227.8V225L354.5 224L354.8 223.5V227.8Z"/><path d="M354.5 227.8V224L354.9 223.3L355.3 222.8V227.8Z"/><path d="M354.9 227.8V223.3L356.1 221.5L356.5 220.9V227.8Z"/><path d="M356.1 227.8V221.5L356.7 220.6L357 220.6V227.8Z"/><path d="M356.7 227.8V220.6L357.3 220.7L357.7 220.8V227.8Z"/><path d="M357.3 227.8V220.7L358.4 220.9L358.8 221.2V227.8Z"/><path d="M358.4 227.8V220.9L358.5 221L358.9 221.3V227.8Z"/><path d="M358.5 227.8V221L359.7 221.9L360.1 222.2V227.8Z"/><path d="M359.7 227.8V221.9L360 222.2L360.4 222.5V227.8Z"/><path d="M360 227.8V222.2L360.9 223.1L361.3 223.4V227.8Z"/><path d="M360.9 227.8V223.1L361.8 224L362.2 224.4V227.8Z"/><path d="M361.8 227.8V224L362.1 224.3L362.5 224.6V227.8Z"/><path d="M362.1 227.8V224.3L363.3 225.5L363.7 225.8V227.8Z"/><path d="M363.3 227.8V225.5L363.7 225.8L364 225.7V227.8Z"/><path d="M363.7 227.8V225.8L364.5 225.6L364.9 225.5V227.8Z"/><path d="M364.5 227.8V225.6L365.7 225.3L366.1 225.2V227.8Z"/><path d="M365.7 227.8V225.3L365.8 225.2L366.1 225.2V227.8Z"/><path d="M365.8 227.8V225.2L366.9 225.1L367.3 225V227.8Z"/><path d="M366.9 227.8V225.1L367.4 225L367.7 224.8V227.8Z"/><path d="M367.4 227.8V225L368.1 224.5L368.5 224.3V227.8Z"/><path d="M368.1 227.8V224.5L369.2 223.8L369.6 224.1V227.8Z"/><path d="M369.2 227.8V223.8L369.3 223.8L369.7 224.2V227.8Z"/><path d="M369.3 227.8V223.8L370.5 225L370.9 225.3V227.8Z"/><path d="M370.5 227.8V225L370.7 225.2L371.1 225.4V227.8Z"/><path d="M370.7 227.8V225.2L371.7 225.7L372.1 225.8V227.8Z"/><path d="M371.7 227.8V225.7L372.9 226.2L373.3 226.2V227.8Z"/><path d="M372.9 227.8V226.2L372.9 226.2L373.3 226.2V227.8Z"/><path d="M372.9 227.8V226.2L374.1 226.3L374.5 226.3V227.8Z"/><path d="M374.1 227.8V226.3L375.3 226.4L375.7 226.4V227.8Z"/><path d="M375.3 227.8V226.4L376.5 226.5L376.9 226.4V227.8Z"/><path d="M376.5 227.8V226.5L376.6 226.5L377 226.4V227.8Z"/><path d="M376.6 227.8V226.5L377.7 226.4L378.1 226.4V227.8Z"/><path d="M377.7 227.8V226.4L378.9 226.3L379.3 226.3V227.8Z"/><path d="M378.9 227.8V226.3L380.1 226.2L380.5 226.2V227.8Z"/><path d="M380.1 227.8V226.2L380.3 226.2L380.7 226.2V227.8Z"/><path d="M380.3 227.8V226.2L381.3 226.2L381.7 226.2V227.8Z"/><path d="M381.3 227.8V226.2L382.5 226.2L382.9 226.2V227.8Z"/><path d="M382.5 227.8V226.2L383.4 226.2L383.7 226.2V227.8Z"/><path d="M383.4 227.8V226.2L383.7 226.2L383.8 226.2V227.8Z"/><path d="M383.7 227.8V226.2L383.8 226.2L383.8 226.2V227.8Z"/></g>
<path d="M320.1 226.46 L321.3 226.26 L322.5 226.05 L323.69 225.85 L323.7 225.85 L324.9 225.73 L326.1 225.61 L327.3 225.49 L327.38 225.48 L328.5 225.33 L329.7 225.17 L330.9 225.01 L331.08 224.98 L332.1 224.83 L333.3 224.65 L333.54 224.62 L334.5 224.95 L335.7 225.37 L336 225.48 L336.9 225.61 L338.1 225.79 L338.46 225.85 L339.3 225.55 L340.5 225.13 L340.92 224.98 L341.7 224.67 L342.9 224.19 L343.38 224 L344.1 222.57 L345.23 220.31 L345.3 219.82 L346.46 211.69 L346.5 211.17 L347.32 200 L347.7 200 L348.9 200 L350.1 200 L350.15 200 L351.02 209.23 L351.3 212.61 L352 220.92 L352.5 223.42 L352.98 225.85 L353.7 224.95 L354.46 224 L354.9 223.32 L356.1 221.45 L356.68 220.55 L357.3 220.69 L358.4 220.92 L358.5 221 L359.7 221.92 L360 222.15 L360.9 223.05 L361.85 224 L362.1 224.25 L363.3 225.45 L363.69 225.85 L364.5 225.61 L365.7 225.26 L365.78 225.23 L366.9 225.06 L367.38 224.98 L368.1 224.51 L369.23 223.75 L369.3 223.82 L370.5 225.02 L370.71 225.23 L371.7 225.67 L372.9 226.21 L372.92 226.22 L374.1 226.29 L375.3 226.37 L376.5 226.45 L376.62 226.46 L377.7 226.39 L378.9 226.31 L380.1 226.23 L380.31 226.22 L381.3 226.22 L382.5 226.22 L383.38 226.22 L383.7 226.22 L383.8 226.22" fill="none" stroke="#4a0810" stroke-width="0.7" stroke-linejoin="round"/>
<line x1="320.1" y1="227.35" x2="383.8" y2="227.35" stroke="#c01424" stroke-width="0.9"/>
<text x="317.2" y="196.9" font-size="5" text-anchor="end" fill="#d8404c" stroke="#d8404c" stroke-width="0.12">100</text>
<text x="317.2" y="227.8" font-size="5" text-anchor="end" fill="#d8404c" stroke="#d8404c" stroke-width="0.12">0</text>
<g fill="url(#cgp)"><path d="M320.1 265.3V264L321.3 263.8L321.7 263.8V265.3Z"/><path d="M321.3 265.3V263.8L322.5 263.6L322.8 263.6V265.3Z"/><path d="M322.5 265.3V263.6L322.5 263.6L322.9 263.6V265.3Z"/><path d="M322.5 265.3V263.6L323.7 263.4L324.1 263.4V265.3Z"/><path d="M323.7 265.3V263.4L324.9 263.2L325.3 263.2V265.3Z"/><path d="M324.9 265.3V263.2L325.5 263.1L325.9 263V265.3Z"/><path d="M325.5 265.3V263.1L326.1 262.9L326.5 262.8V265.3Z"/><path d="M326.1 265.3V262.9L327.3 262.4L327.7 262.3V265.3Z"/><path d="M327.3 265.3V262.4L328 262.2L328.4 262.4V265.3Z"/><path d="M328 265.3V262.2L328.5 262.6L328.9 262.8V265.3Z"/><path d="M328.5 265.3V262.6L329.7 263.5L330.1 263.7V265.3Z"/><path d="M329.7 265.3V263.5L329.8 263.6L330.2 263.7V265.3Z"/><path d="M329.8 265.3V263.6L330.9 263.8L331.3 263.8V265.3Z"/><path d="M330.9 265.3V263.8L332.1 264L332.5 263.9V265.3Z"/><path d="M332.1 265.3V264L332.3 264L332.7 263.8V265.3Z"/><path d="M332.3 265.3V264L333.3 263.3L333.7 263.1V265.3Z"/><path d="M333.3 265.3V263.3L334.2 262.8L334.5 262.4V265.3Z"/><path d="M334.2 265.3V262.8L334.5 262.4L334.9 262.1V265.3Z"/><path d="M334.5 265.3V262.4L335.7 261.2L336.1 261.5V265.3Z"/><path d="M335.7 265.3V261.2L335.8 261.2L336.1 261.5V265.3Z"/><path d="M335.8 265.3V261.2L336.9 262.4L337.3 262.8V265.3Z"/><path d="M336.9 265.3V262.4L337.2 262.8L337.6 262.9V265.3Z"/><path d="M337.2 265.3V262.8L338.1 263L338.5 263.1V265.3Z"/><path d="M338.1 265.3V263L339.3 263.3L339.7 263.4V265.3Z"/><path d="M339.3 265.3V263.3L339.7 263.4L340 263.3V265.3Z"/><path d="M339.7 265.3V263.4L340.5 263.1L340.9 263V265.3Z"/><path d="M340.5 265.3V263.1L341.5 262.8L341.9 262.6V265.3Z"/><path d="M341.5 265.3V262.8L341.7 262.7L342.1 262.6V265.3Z"/><path d="M341.7 265.3V262.7L342.9 262.2L343.3 262.3V265.3Z"/><path d="M342.9 265.3V262.2L343.1 262.2L343.5 262.5V265.3Z"/><path d="M343.1 265.3V262.2L344.1 263.1L344.5 263.5V265.3Z"/><path d="M344.1 265.3V263.1L344.6 263.6L345 263.2V265.3Z"/><path d="M344.6 265.3V263.6L345.3 262.7L345.7 262.3V265.3Z"/><path d="M345.3 265.3V262.7L346.5 261.2L346.8 260.8V265.3Z"/><path d="M346.5 265.3V261.2L346.5 261.1L346.9 260.7V265.3Z"/><path d="M346.5 265.3V261.1L347.7 259.8L348.1 259.4V265.3Z"/><path d="M347.7 265.3V259.8L348.3 259.1L348.7 258.9V265.3Z"/><path d="M348.3 265.3V259.1L348.9 258.8L349.3 258.6V265.3Z"/><path d="M348.9 265.3V258.8L350.1 258.2L350.5 258.6V265.3Z"/><path d="M350.1 265.3V258.2L350.2 258.2L350.5 258.6V265.3Z"/><path d="M350.2 265.3V258.2L351.3 259.6L351.7 260.4V265.3Z"/><path d="M351.3 265.3V259.6L351.4 259.7L351.7 260.6V265.3Z"/><path d="M351.4 265.3V259.7L352.5 262.5L352.9 262.8V265.3Z"/><path d="M352.5 265.3V262.5L352.6 262.8L353 262.9V265.3Z"/><path d="M352.6 265.3V262.8L353.7 263.1L354.1 263.2V265.3Z"/><path d="M353.7 265.3V263.1L354.5 263.4L354.8 263V265.3Z"/><path d="M354.5 265.3V263.4L354.9 262.9L355.3 262.6V265.3Z"/><path d="M354.9 265.3V262.9L356.1 261.7L356.5 261.3V265.3Z"/><path d="M356.1 265.3V261.7L356.3 261.5L356.7 261V265.3Z"/><path d="M356.3 265.3V261.5L357.3 259.9L357.7 259.3V265.3Z"/><path d="M357.3 265.3V259.9L358.2 258.5L358.5 257.7V265.3Z"/><path d="M358.2 265.3V258.5L358.5 257.7L358.9 256.9V265.3Z"/><path d="M358.5 265.3V257.7L359.4 255.8L359.7 256.3V265.3Z"/><path d="M359.4 265.3V255.8L359.7 256.3L360.1 256.9V265.3Z"/><path d="M359.7 265.3V256.3L360.6 257.8L361 258.9V265.3Z"/><path d="M360.6 265.3V257.8L360.9 258.7L361.3 259.8V265.3Z"/><path d="M360.9 265.3V258.7L361.8 261.5L362.2 261.9V265.3Z"/><path d="M361.8 265.3V261.5L362.1 261.8L362.5 262.2V265.3Z"/><path d="M362.1 265.3V261.8L363.3 263.2L363.7 263.6V265.3Z"/><path d="M363.3 265.3V263.2L363.7 263.6L364 263.7V265.3Z"/><path d="M363.7 265.3V263.6L364.5 263.7L364.9 263.8V265.3Z"/><path d="M364.5 265.3V263.7L365.7 263.9L366.1 263.9V265.3Z"/><path d="M365.7 265.3V263.9L366.8 264L367.1 264V265.3Z"/><path d="M366.8 265.3V264L366.9 264L367.3 264V265.3Z"/><path d="M366.9 265.3V264L368.1 264L368.5 264V265.3Z"/><path d="M368.1 265.3V264L369.3 264L369.7 264V265.3Z"/><path d="M369.3 265.3V264L369.8 264L370.2 263.9V265.3Z"/><path d="M369.8 265.3V264L370.5 263.9L370.9 263.8V265.3Z"/><path d="M370.5 265.3V263.9L371.7 263.6L372.1 263.6V265.3Z"/><path d="M371.7 265.3V263.6L372.9 263.4L373.3 263.3V265.3Z"/><path d="M372.9 265.3V263.4L372.9 263.4L373.3 263.3V265.3Z"/><path d="M372.9 265.3V263.4L374.1 263.2L374.5 263.2V265.3Z"/><path d="M374.1 265.3V263.2L374.8 263.1L375.1 263.2V265.3Z"/><path d="M374.8 265.3V263.1L375.3 263.3L375.7 263.4V265.3Z"/><path d="M375.3 265.3V263.3L376.5 263.6L376.9 263.7V265.3Z"/><path d="M376.5 265.3V263.6L376.6 263.6L377 263.7V265.3Z"/><path d="M376.6 265.3V263.6L377.7 263.8L378.1 263.8V265.3Z"/><path d="M377.7 265.3V263.8L378.9 264L379.3 264V265.3Z"/><path d="M378.9 265.3V264L379.1 264L379.4 263.9V265.3Z"/><path d="M379.1 265.3V264L380.1 263.7L380.5 263.7V265.3Z"/><path d="M380.1 265.3V263.7L381.3 263.4L381.7 263.3V265.3Z"/><path d="M381.3 265.3V263.4L381.5 263.4L381.9 263.2V265.3Z"/><path d="M381.5 265.3V263.4L382.5 262.7L382.9 262.5V265.3Z"/><path d="M382.5 265.3V262.7L383.4 262.2L383.7 262.2V265.3Z"/><path d="M383.4 265.3V262.2L383.7 262.2L383.8 262.2V265.3Z"/><path d="M383.7 265.3V262.2L383.8 262.2L383.8 262.2V265.3Z"/></g>
<path d="M320.1 264 L321.3 263.81 L322.46 263.63 L322.5 263.62 L323.7 263.43 L324.9 263.24 L325.54 263.14 L326.1 262.91 L327.3 262.43 L328 262.15 L328.5 262.55 L329.7 263.51 L329.85 263.63 L330.9 263.79 L332.1 263.97 L332.31 264 L333.3 263.34 L334.15 262.77 L334.5 262.42 L335.7 261.22 L335.75 261.17 L336.9 262.41 L337.23 262.77 L338.1 262.99 L339.3 263.29 L339.69 263.38 L340.5 263.12 L341.54 262.77 L341.7 262.71 L342.9 262.25 L343.14 262.15 L344.1 263.12 L344.62 263.63 L345.3 262.72 L346.46 261.17 L346.5 261.13 L347.7 259.77 L348.31 259.08 L348.9 258.8 L350.1 258.24 L350.15 258.22 L351.3 259.59 L351.38 259.69 L352.5 262.48 L352.62 262.77 L353.7 263.13 L354.46 263.38 L354.9 262.95 L356.1 261.75 L356.31 261.54 L357.3 259.88 L358.15 258.46 L358.5 257.7 L359.38 255.75 L359.7 256.29 L360.62 257.85 L360.9 258.7 L361.85 261.54 L362.1 261.83 L363.3 263.19 L363.69 263.63 L364.5 263.73 L365.7 263.87 L366.77 264 L366.9 264 L368.1 264 L369.3 264 L369.85 264 L370.5 263.87 L371.7 263.63 L372.9 263.39 L372.92 263.38 L374.1 263.23 L374.77 263.14 L375.3 263.28 L376.5 263.6 L376.62 263.63 L377.7 263.79 L378.9 263.97 L379.08 264 L380.1 263.74 L381.3 263.44 L381.54 263.38 L382.5 262.74 L383.38 262.15 L383.7 262.15 L383.8 262.15" fill="none" stroke="#2a0a3a" stroke-width="0.7" stroke-linejoin="round"/>
<line x1="320.1" y1="264.85" x2="383.8" y2="264.85" stroke="#b01e98" stroke-width="0.9"/>
<text x="317.2" y="233.7" font-size="5" text-anchor="end" fill="#8d3e9c" stroke="#8d3e9c" stroke-width="0.12">100</text>
<text x="317.2" y="265.3" font-size="5" text-anchor="end" fill="#8d3e9c" stroke="#8d3e9c" stroke-width="0.12">0</text>
<line x1="304.6" y1="155.6" x2="304.6" y2="266.9" stroke="#555" stroke-width="0.9"/>
<text x="288.3" y="210.8" font-size="6.4" fill="#222" stroke="#222" stroke-width="0.12">IFNβ</text>
<rect x="343.7" y="40.2" width="10" height="228.9" fill="none" stroke="#ee6a78" stroke-width="1.0" stroke-opacity="0.75"/>
<text x="330" y="275.3" font-size="4.9" fill="#333" stroke="#333" stroke-width="0.12" font-style="italic">Cxcl10 promoter</text>
<text x="388.2" y="21.8" font-size="12.5" font-weight="bold" fill="#000">F</text>
<text x="454.2" y="17.1" font-size="6.6" fill="#231f20" stroke="#231f20" stroke-width="0.12">H3K27ac</text>
<text x="400.8" y="27" font-size="5" fill="#333" stroke="#333" stroke-width="0.12">Scale</text>
<text x="431.5" y="22.8" font-size="4.6" fill="#333" stroke="#333" stroke-width="0.12">10 kb</text>
<line x1="425" y1="24.7" x2="449" y2="24.7" stroke="#444" stroke-width="0.6"/>
<line x1="425" y1="23.9" x2="425" y2="25.5" stroke="#444" stroke-width="0.5"/>
<line x1="449" y1="23.9" x2="449" y2="25.5" stroke="#444" stroke-width="0.5"/>
<text x="402.8" y="34.6" font-size="5" fill="#333" stroke="#333" stroke-width="0.12">Chr5</text>
<text x="448.1" y="41.2" font-size="4.25" text-anchor="middle" fill="#222" stroke="#222" stroke-width="0.12">92,340,000</text>
<text x="473.1" y="41.2" font-size="4.25" text-anchor="middle" fill="#222" stroke="#222" stroke-width="0.12">92,350,000</text>
<text x="496.4" y="41.2" font-size="4.25" text-anchor="middle" fill="#222" stroke="#222" stroke-width="0.12">92,360,000</text>
<line x1="448.5" y1="43.2" x2="448.5" y2="44.4" stroke="#444" stroke-width="0.6"/>
<line x1="471.5" y1="43.2" x2="471.5" y2="44.4" stroke="#444" stroke-width="0.6"/>
<line x1="495" y1="43.2" x2="495" y2="44.4" stroke="#444" stroke-width="0.6"/>
<rect x="427.7" y="45" width="82.8" height="34.6" fill="#ebebf6"/>
<rect x="427.7" y="118.3" width="82.8" height="34" fill="#ebebf6"/>
<g fill="url(#cgb)"><path d="M427.7 79.6V77.8L428.9 77.9L429.2 78V79.6Z"/><path d="M428.9 79.6V77.9L430.1 78.1L430.4 78.1V79.6Z"/><path d="M430.1 79.6V78.1L430.2 78.1L430.6 78V79.6Z"/><path d="M430.2 79.6V78.1L431.3 78L431.7 77.9V79.6Z"/><path d="M431.3 79.6V78L432.5 77.8L432.9 77.7V79.6Z"/><path d="M432.5 79.6V77.8L433.7 77.6L434.1 77.6V79.6Z"/><path d="M433.7 79.6V77.6L434.9 77.5L435.2 77.5V79.6Z"/><path d="M434.9 79.6V77.5L435.1 77.4L435.4 77.5V79.6Z"/><path d="M435.1 79.6V77.4L436.1 77.5L436.4 77.5V79.6Z"/><path d="M436.1 79.6V77.5L437.3 77.6L437.7 77.6V79.6Z"/><path d="M437.3 79.6V77.6L438.5 77.7L438.9 77.7V79.6Z"/><path d="M438.5 79.6V77.7L439.7 77.8L440.1 77.8V79.6Z"/><path d="M439.7 79.6V77.8L439.9 77.8L440.3 77.7V79.6Z"/><path d="M439.9 79.6V77.8L440.9 77.6L441.2 77.6V79.6Z"/><path d="M440.9 79.6V77.6L442.1 77.5L442.4 77.4V79.6Z"/><path d="M442.1 79.6V77.5L443.3 77.3L443.7 77.3V79.6Z"/><path d="M443.3 79.6V77.3L444.5 77.2L444.9 77.1V79.6Z"/><path d="M444.5 79.6V77.2L444.8 77.1L445.1 77.2V79.6Z"/><path d="M444.8 79.6V77.1L445.7 77.2L446.1 77.3V79.6Z"/><path d="M445.7 79.6V77.2L446.9 77.3L447.2 77.4V79.6Z"/><path d="M446.9 79.6V77.3L448 77.4L448.4 77.3V79.6Z"/><path d="M448 79.6V77.4L448.1 77.4L448.4 77.2V79.6Z"/><path d="M448.1 79.6V77.4L449.3 76.7L449.7 76.5V79.6Z"/><path d="M449.3 79.6V76.7L450.5 76.1L450.9 75.9V79.6Z"/><path d="M450.5 79.6V76.1L450.9 75.8L451.3 76V79.6Z"/><path d="M450.9 79.6V75.8L451.7 76.3L452.1 76.5V79.6Z"/><path d="M451.7 79.6V76.3L452.9 77L453.2 77.2V79.6Z"/><path d="M452.9 79.6V77L453.7 77.4L454 77.3V79.6Z"/><path d="M453.7 79.6V77.4L454.1 77.3L454.4 77.1V79.6Z"/><path d="M454.1 79.6V77.3L455.3 76.8L455.7 76.6V79.6Z"/><path d="M455.3 79.6V76.8L456.5 76.3L456.9 76.2V79.6Z"/><path d="M456.5 79.6V76.3L456.9 76.2L457.2 76.2V79.6Z"/><path d="M456.9 79.6V76.2L457.7 76.3L458.1 76.3V79.6Z"/><path d="M457.7 79.6V76.3L458.9 76.5L459.2 76.5V79.6Z"/><path d="M458.9 79.6V76.5L460.1 76.6L460.4 76.6V79.6Z"/><path d="M460.1 79.6V76.6L460.1 76.6L460.5 76.6V79.6Z"/><path d="M460.1 79.6V76.6L461.3 76.5L461.7 76.4V79.6Z"/><path d="M461.3 79.6V76.5L462.5 76.3L462.9 76.2V79.6Z"/><path d="M462.5 79.6V76.3L463.3 76.2L463.7 75.9V79.6Z"/><path d="M463.3 79.6V76.2L463.7 75.9L464.1 75.7V79.6Z"/><path d="M463.7 79.6V75.9L464.9 75.1L465.2 74.9V79.6Z"/><path d="M464.9 79.6V75.1L465.8 74.5L466.1 74V79.6Z"/><path d="M465.8 79.6V74.5L466.1 74.1L466.4 73.5V79.6Z"/><path d="M466.1 79.6V74.1L467.3 72.3L467.7 71.8V79.6Z"/><path d="M467.3 79.6V72.3L468.2 71L468.5 70.6V79.6Z"/><path d="M468.2 79.6V71L468.5 70.7L468.9 70.3V79.6Z"/><path d="M468.5 79.6V70.7L469.7 69.5L470.1 69.1V79.6Z"/><path d="M469.7 79.6V69.5L470.3 68.9L470.6 69.3V79.6Z"/><path d="M470.3 79.6V68.9L470.9 69.5L471.2 69.9V79.6Z"/><path d="M470.9 79.6V69.5L472.1 70.8L472.4 71.3V79.6Z"/><path d="M472.1 79.6V70.8L472.2 71L472.6 71.5V79.6Z"/><path d="M472.2 79.6V71L473.3 72.4L473.7 72.9V79.6Z"/><path d="M473.3 79.6V72.4L474.5 74L474.9 73.9V79.6Z"/><path d="M474.5 79.6V74L474.7 74.2L475 73.6V79.6Z"/><path d="M474.7 79.6V74.2L475.7 72.3L476.1 71.6V79.6Z"/><path d="M475.7 79.6V72.3L476.9 70L477.2 69.5V79.6Z"/><path d="M476.9 79.6V70L477.1 69.7L477.4 69.3V79.6Z"/><path d="M477.1 79.6V69.7L478.1 68.4L478.4 68V79.6Z"/><path d="M478.1 79.6V68.4L479 67.3L479.4 68.5V79.6Z"/><path d="M479 79.6V67.3L479.3 68.3L479.7 69.5V79.6Z"/><path d="M479.3 79.6V68.3L480.5 72.5L480.9 73.2V79.6Z"/><path d="M480.5 79.6V72.5L480.6 72.9L481 73.3V79.6Z"/><path d="M480.6 79.6V72.9L481.7 74.2L482.1 74.6V79.6Z"/><path d="M481.7 79.6V74.2L482.7 75.3L483.1 75.4V79.6Z"/><path d="M482.7 79.6V75.3L482.9 75.4L483.2 75.5V79.6Z"/><path d="M482.9 79.6V75.4L484.1 75.6L484.4 75.7V79.6Z"/><path d="M484.1 79.6V75.6L485.2 75.8L485.5 76V79.6Z"/><path d="M485.2 79.6V75.8L485.3 75.9L485.6 76V79.6Z"/><path d="M485.3 79.6V75.9L486.5 76.3L486.9 76.4V79.6Z"/><path d="M486.5 79.6V76.3L487.7 76.7L488.1 76.8V79.6Z"/><path d="M487.7 79.6V76.7L488.4 77L488.7 77V79.6Z"/><path d="M488.4 79.6V77L488.9 77L489.2 77V79.6Z"/><path d="M488.9 79.6V77L490.1 77L490.4 77V79.6Z"/><path d="M490.1 79.6V77L491.3 77L491.6 77V79.6Z"/><path d="M491.3 79.6V77L492.5 77L492.9 77V79.6Z"/><path d="M492.5 79.6V77L493.2 77L493.6 76.9V79.6Z"/><path d="M493.2 79.6V77L493.7 76.9L494.1 76.8V79.6Z"/><path d="M493.7 79.6V76.9L494.9 76.6L495.2 76.5V79.6Z"/><path d="M494.9 79.6V76.6L496.1 76.3L496.4 76.2V79.6Z"/><path d="M496.1 79.6V76.3L497.3 76L497.6 75.9V79.6Z"/><path d="M497.3 79.6V76L498.1 75.8L498.4 75.7V79.6Z"/><path d="M498.1 79.6V75.8L498.5 75.7L498.9 75.6V79.6Z"/><path d="M498.5 79.6V75.7L499.7 75.4L500.1 75.3V79.6Z"/><path d="M499.7 79.6V75.4L500.9 75.1L501.2 75V79.6Z"/><path d="M500.9 79.6V75.1L501.6 74.9L502 75.1V79.6Z"/><path d="M501.6 79.6V74.9L502.1 75.2L502.4 75.5V79.6Z"/><path d="M502.1 79.6V75.2L503.3 76.1L503.6 76.3V79.6Z"/><path d="M503.3 79.6V76.1L504.5 76.9L504.9 77V79.6Z"/><path d="M504.5 79.6V76.9L504.5 77L504.9 77V79.6Z"/><path d="M504.5 79.6V77L505.7 77.1L506.1 77.2V79.6Z"/><path d="M505.7 79.6V77.1L506.9 77.3L507.2 77.4V79.6Z"/><path d="M506.9 79.6V77.3L507.8 77.4L508.1 77.1V79.6Z"/><path d="M507.8 79.6V77.4L508.1 77.2L508.4 76.9V79.6Z"/><path d="M508.1 79.6V77.2L509.3 76.1L509.6 75.8V79.6Z"/><path d="M509.3 79.6V76.1L510.2 75.3L510.5 75.3V79.6Z"/><path d="M510.2 79.6V75.3L510.5 75.3L510.5 75.3V79.6Z"/></g>
<path d="M427.7 77.77 L428.9 77.92 L430.1 78.08 L430.23 78.09 L431.3 77.95 L432.5 77.79 L433.7 77.63 L434.9 77.47 L435.08 77.45 L436.1 77.52 L437.3 77.6 L438.5 77.68 L439.7 77.76 L439.92 77.77 L440.9 77.64 L442.1 77.48 L443.3 77.32 L444.5 77.16 L444.77 77.12 L445.7 77.22 L446.9 77.34 L448 77.45 L448.1 77.39 L449.3 76.73 L450.5 76.06 L450.91 75.83 L451.7 76.3 L452.9 77 L453.66 77.45 L454.1 77.27 L455.3 76.79 L456.5 76.31 L456.89 76.16 L457.7 76.28 L458.9 76.46 L460.1 76.64 L460.12 76.64 L461.3 76.46 L462.5 76.28 L463.35 76.16 L463.7 75.92 L464.9 75.12 L465.77 74.54 L466.1 74.06 L467.3 72.3 L468.2 70.99 L468.5 70.68 L469.7 69.48 L470.3 68.89 L470.9 69.54 L472.1 70.84 L472.23 70.99 L473.3 72.41 L474.5 74.01 L474.66 74.22 L475.7 72.27 L476.9 70.03 L477.08 69.69 L478.1 68.42 L479.02 67.27 L479.3 68.25 L480.5 72.45 L480.63 72.92 L481.7 74.15 L482.74 75.35 L482.9 75.38 L484.1 75.62 L485.16 75.83 L485.3 75.88 L486.5 76.3 L487.7 76.72 L488.39 76.96 L488.9 76.96 L490.1 76.96 L491.3 76.96 L492.5 76.96 L493.24 76.96 L493.7 76.85 L494.9 76.57 L496.1 76.29 L497.3 76.01 L498.08 75.83 L498.5 75.72 L499.7 75.39 L500.9 75.06 L501.64 74.86 L502.1 75.2 L503.3 76.06 L504.5 76.93 L504.54 76.96 L505.7 77.14 L506.9 77.32 L507.78 77.45 L508.1 77.17 L509.3 76.13 L510.2 75.35 L510.5 75.35" fill="none" stroke="#141550" stroke-width="0.7" stroke-linejoin="round"/>
<line x1="427.7" y1="79.15" x2="510.5" y2="79.15" stroke="#1c1e68" stroke-width="0.9"/>
<text x="424.6" y="49.4" font-size="5" text-anchor="end" fill="#3e4f9e" stroke="#3e4f9e" stroke-width="0.12">120</text>
<text x="424.6" y="79.6" font-size="5" text-anchor="end" fill="#3e4f9e" stroke="#3e4f9e" stroke-width="0.12">0</text>
<g fill="url(#cgr)"><path d="M427.7 116V114.7L428.9 114.4L429.2 114.3V116Z"/><path d="M428.9 116V114.4L430.1 114.1L430.4 114.1V116Z"/><path d="M430.1 116V114.1L430.2 114.1L430.6 114.1V116Z"/><path d="M430.2 116V114.1L431.3 114.3L431.7 114.3V116Z"/><path d="M431.3 116V114.3L432.5 114.5L432.9 114.6V116Z"/><path d="M432.5 116V114.5L433.5 114.7L433.8 114.7V116Z"/><path d="M433.5 116V114.7L433.7 114.7L434.1 114.6V116Z"/><path d="M433.7 116V114.7L434.9 114.6L435.2 114.5V116Z"/><path d="M434.9 116V114.6L436.1 114.4L436.4 114.4V116Z"/><path d="M436.1 116V114.4L436.7 114.4L437 114.4V116Z"/><path d="M436.7 116V114.4L437.3 114.4L437.7 114.5V116Z"/><path d="M437.3 116V114.4L438.5 114.6L438.9 114.6V116Z"/><path d="M438.5 116V114.6L439.7 114.7L440.1 114.7V116Z"/><path d="M439.7 116V114.7L439.9 114.7L440.3 114.7V116Z"/><path d="M439.9 116V114.7L440.9 114.6L441.2 114.6V116Z"/><path d="M440.9 116V114.6L442.1 114.5L442.4 114.5V116Z"/><path d="M442.1 116V114.5L443.2 114.4L443.5 114.4V116Z"/><path d="M443.2 116V114.4L443.3 114.4L443.7 114.4V116Z"/><path d="M443.3 116V114.4L444.5 114.5L444.9 114.5V116Z"/><path d="M444.5 116V114.5L445.7 114.6L446.1 114.6V116Z"/><path d="M445.7 116V114.6L446.9 114.6L447.2 114.7V116Z"/><path d="M446.9 116V114.6L448 114.7L448.4 114.7V116Z"/><path d="M448 116V114.7L448.1 114.7L448.4 114.7V116Z"/><path d="M448.1 116V114.7L449.3 114.6L449.7 114.6V116Z"/><path d="M449.3 116V114.6L450.5 114.5L450.9 114.5V116Z"/><path d="M450.5 116V114.5L451.7 114.5L452.1 114.4V116Z"/><path d="M451.7 116V114.5L452.8 114.4L453.2 114.4V116Z"/><path d="M452.8 116V114.4L452.9 114.4L453.2 114.4V116Z"/><path d="M452.9 116V114.4L454.1 114.3L454.4 114.3V116Z"/><path d="M454.1 116V114.3L455.3 114.2L455.7 114.2V116Z"/><path d="M455.3 116V114.2L456.5 114.1L456.9 114.1V116Z"/><path d="M456.5 116V114.1L457.7 114.1L458 114.1V116Z"/><path d="M457.7 116V114.1L457.7 114.1L458.1 114.1V116Z"/><path d="M457.7 116V114.1L458.9 114.1L459.2 114.1V116Z"/><path d="M458.9 116V114.1L460.1 114.1L460.4 114.1V116Z"/><path d="M460.1 116V114.1L461.3 114.1L461.7 114.1V116Z"/><path d="M461.3 116V114.1L461.7 114.1L462.1 114V116Z"/><path d="M461.7 116V114.1L462.5 113.8L462.9 113.7V116Z"/><path d="M462.5 116V113.8L463.7 113.5L464.1 113.4V116Z"/><path d="M463.7 116V113.5L464.9 113.1L465.2 112.9V116Z"/><path d="M464.9 116V113.1L465 113.1L465.3 112.8V116Z"/><path d="M465 116V113.1L466.1 112.2L466.4 111.9V116Z"/><path d="M466.1 116V112.2L467.3 111.2L467.7 110.8V116Z"/><path d="M467.3 116V111.2L467.4 111.2L467.7 110.7V116Z"/><path d="M467.4 116V111.2L468.5 109.8L468.9 109.4V116Z"/><path d="M468.5 116V109.8L469.7 108.4L470.1 108.5V116Z"/><path d="M469.7 116V108.4L469.8 108.2L470.2 108.7V116Z"/><path d="M469.8 116V108.2L470.9 109.6L471.2 110V116Z"/><path d="M470.9 116V109.6L471.9 110.8L472.3 111V116Z"/><path d="M471.9 116V110.8L472.1 110.9L472.4 111.1V116Z"/><path d="M472.1 116V110.9L473.3 111.6L473.7 111.8V116Z"/><path d="M473.3 116V111.6L473.8 112L474.2 111.7V116Z"/><path d="M473.8 116V112L474.5 111.5L474.9 111.3V116Z"/><path d="M474.5 116V111.5L475.7 110.7L476.1 110.5V116Z"/><path d="M475.7 116V110.7L476.3 110.3L476.6 110.2V116Z"/><path d="M476.3 116V110.3L476.9 110.1L477.2 109.9V116Z"/><path d="M476.9 116V110.1L478.1 109.6L478.4 109.5V116Z"/><path d="M478.1 116V109.6L479 109.2L479.4 109.5V116Z"/><path d="M479 116V109.2L479.3 109.5L479.7 109.8V116Z"/><path d="M479.3 116V109.5L480.5 110.6L480.9 110.9V116Z"/><path d="M480.5 116V110.6L481.1 111.2L481.5 111.4V116Z"/><path d="M481.1 116V111.2L481.7 111.6L482.1 111.9V116Z"/><path d="M481.7 116V111.6L482.9 112.6L483.2 112.9V116Z"/><path d="M482.9 116V112.6L483.5 113.1L483.9 113.2V116Z"/><path d="M483.5 116V113.1L484.1 113.3L484.4 113.4V116Z"/><path d="M484.1 116V113.3L485.3 113.6L485.6 113.7V116Z"/><path d="M485.3 116V113.6L486.5 114L486.9 114.1V116Z"/><path d="M486.5 116V114L486.8 114.1L487.1 114.1V116Z"/><path d="M486.8 116V114.1L487.7 114.1L488.1 114.1V116Z"/><path d="M487.7 116V114.1L488.9 114.2L489.2 114.2V116Z"/><path d="M488.9 116V114.2L490.1 114.3L490.4 114.3V116Z"/><path d="M490.1 116V114.3L491.3 114.4L491.6 114.4V116Z"/><path d="M491.3 116V114.4L491.6 114.4L492 114.3V116Z"/><path d="M491.6 116V114.4L492.5 114.2L492.9 114.2V116Z"/><path d="M492.5 116V114.2L493.7 114L494.1 114V116Z"/><path d="M493.7 116V114L494.9 113.8L495.2 113.8V116Z"/><path d="M494.9 116V113.8L496.1 113.6L496.4 113.6V116Z"/><path d="M496.1 116V113.6L496.5 113.6L496.8 113.5V116Z"/><path d="M496.5 116V113.6L497.3 113.4L497.6 113.4V116Z"/><path d="M497.3 116V113.4L498.5 113.2L498.9 113.2V116Z"/><path d="M498.5 116V113.2L499.7 113L500.1 113V116Z"/><path d="M499.7 116V113L500.9 112.8L501.2 112.8V116Z"/><path d="M500.9 116V112.8L501.3 112.8L501.7 112.9V116Z"/><path d="M501.3 116V112.8L502.1 113.1L502.4 113.2V116Z"/><path d="M502.1 116V113.1L503.3 113.6L503.6 113.7V116Z"/><path d="M503.3 116V113.6L504.5 114L504.9 114.1V116Z"/><path d="M504.5 116V114L504.5 114.1L504.9 114.1V116Z"/><path d="M504.5 116V114.1L505.7 114.3L506.1 114.4V116Z"/><path d="M505.7 116V114.3L506.9 114.5L507.2 114.6V116Z"/><path d="M506.9 116V114.5L507.8 114.7L508.1 114.5V116Z"/><path d="M507.8 116V114.7L508.1 114.5L508.4 114.4V116Z"/><path d="M508.1 116V114.5L509.3 114L509.6 113.8V116Z"/><path d="M509.3 116V114L510.2 113.6L510.5 113.6V116Z"/><path d="M510.2 116V113.6L510.5 113.6L510.5 113.6V116Z"/></g>
<path d="M427.7 114.7 L428.9 114.4 L430.1 114.1 L430.23 114.06 L431.3 114.27 L432.5 114.51 L433.46 114.7 L433.7 114.68 L434.9 114.56 L436.1 114.44 L436.69 114.39 L437.3 114.45 L438.5 114.56 L439.7 114.68 L439.92 114.7 L440.9 114.61 L442.1 114.49 L443.16 114.39 L443.3 114.4 L444.5 114.47 L445.7 114.55 L446.9 114.63 L448 114.7 L448.1 114.69 L449.3 114.62 L450.5 114.54 L451.7 114.46 L452.85 114.39 L452.9 114.38 L454.1 114.3 L455.3 114.22 L456.5 114.14 L457.69 114.06 L457.7 114.06 L458.9 114.06 L460.1 114.06 L461.3 114.06 L461.73 114.06 L462.5 113.83 L463.7 113.47 L464.9 113.11 L464.96 113.09 L466.1 112.19 L467.3 111.23 L467.39 111.16 L468.5 109.82 L469.7 108.38 L469.81 108.25 L470.9 109.59 L471.91 110.83 L472.1 110.94 L473.3 111.64 L473.85 111.96 L474.5 111.53 L475.7 110.73 L476.27 110.35 L476.9 110.09 L478.1 109.6 L479.02 109.22 L479.3 109.48 L480.5 110.58 L481.12 111.16 L481.7 111.62 L482.9 112.58 L483.54 113.09 L484.1 113.26 L485.3 113.62 L486.5 113.98 L486.77 114.06 L487.7 114.12 L488.9 114.2 L490.1 114.28 L491.3 114.36 L491.62 114.39 L492.5 114.24 L493.7 114.04 L494.9 113.84 L496.1 113.64 L496.47 113.58 L497.3 113.44 L498.5 113.24 L499.7 113.04 L500.9 112.84 L501.31 112.77 L502.1 113.09 L503.3 113.57 L504.5 114.05 L504.54 114.06 L505.7 114.29 L506.9 114.53 L507.78 114.7 L508.1 114.55 L509.3 113.99 L510.2 113.58 L510.5 113.58" fill="none" stroke="#4a0810" stroke-width="0.7" stroke-linejoin="round"/>
<line x1="427.7" y1="115.55" x2="510.5" y2="115.55" stroke="#c01424" stroke-width="0.9"/>
<text x="424.6" y="85.4" font-size="5" text-anchor="end" fill="#d8404c" stroke="#d8404c" stroke-width="0.12">120</text>
<text x="424.6" y="116" font-size="5" text-anchor="end" fill="#d8404c" stroke="#d8404c" stroke-width="0.12">0</text>
<g fill="url(#cgp)"><path d="M427.7 152.3V150.7L428.9 150.5L429.2 150.4V152.3Z"/><path d="M428.9 152.3V150.5L430.1 150.3L430.4 150.3V152.3Z"/><path d="M430.1 152.3V150.3L430.2 150.3L430.6 150.3V152.3Z"/><path d="M430.2 152.3V150.3L431.3 150.5L431.7 150.5V152.3Z"/><path d="M431.3 152.3V150.5L432.5 150.7L432.9 150.8V152.3Z"/><path d="M432.5 152.3V150.7L433.5 150.9L433.8 150.8V152.3Z"/><path d="M433.5 152.3V150.9L433.7 150.9L434.1 150.8V152.3Z"/><path d="M433.7 152.3V150.9L434.9 150.7L435.2 150.6V152.3Z"/><path d="M434.9 152.3V150.7L436.1 150.5L436.4 150.4V152.3Z"/><path d="M436.1 152.3V150.5L436.7 150.4L437 150.4V152.3Z"/><path d="M436.7 152.3V150.4L437.3 150.5L437.7 150.5V152.3Z"/><path d="M437.3 152.3V150.5L438.5 150.6L438.9 150.6V152.3Z"/><path d="M438.5 152.3V150.6L439.7 150.7L440.1 150.7V152.3Z"/><path d="M439.7 152.3V150.7L439.9 150.7L440.3 150.7V152.3Z"/><path d="M439.9 152.3V150.7L440.9 150.6L441.2 150.6V152.3Z"/><path d="M440.9 152.3V150.6L442.1 150.5L442.4 150.5V152.3Z"/><path d="M442.1 152.3V150.5L443.2 150.4L443.5 150.4V152.3Z"/><path d="M443.2 152.3V150.4L443.3 150.4L443.7 150.4V152.3Z"/><path d="M443.3 152.3V150.4L444.5 150.3L444.9 150.3V152.3Z"/><path d="M444.5 152.3V150.3L445.7 150.3L446.1 150.3V152.3Z"/><path d="M445.7 152.3V150.3L446.4 150.3L446.7 150.1V152.3Z"/><path d="M446.4 152.3V150.3L446.9 150L447.2 149.9V152.3Z"/><path d="M446.9 152.3V150L448.1 149.6L448.4 149.4V152.3Z"/><path d="M448.1 152.3V149.6L449.3 149.1L449.7 148.9V152.3Z"/><path d="M449.3 152.3V149.1L450.5 148.6L450.9 148.5V152.3Z"/><path d="M450.5 152.3V148.6L451.2 148.3L451.6 148.7V152.3Z"/><path d="M451.2 152.3V148.3L451.7 148.8L452.1 149.1V152.3Z"/><path d="M451.7 152.3V148.8L452.9 150L453.2 150.3V152.3Z"/><path d="M452.9 152.3V150L453.7 150.7L454 150.7V152.3Z"/><path d="M453.7 152.3V150.7L454.1 150.7L454.4 150.7V152.3Z"/><path d="M454.1 152.3V150.7L455.3 150.7L455.7 150.7V152.3Z"/><path d="M455.3 152.3V150.7L456.5 150.7L456.9 150.7V152.3Z"/><path d="M456.5 152.3V150.7L456.9 150.7L457.2 150.7V152.3Z"/><path d="M456.9 152.3V150.7L457.7 150.6L458.1 150.6V152.3Z"/><path d="M457.7 152.3V150.6L458.9 150.4L459.2 150.4V152.3Z"/><path d="M458.9 152.3V150.4L460.1 150.3L460.4 150.1V152.3Z"/><path d="M460.1 152.3V150.3L460.1 150.3L460.5 150V152.3Z"/><path d="M460.1 152.3V150.3L461.3 149.5L461.7 149.3V152.3Z"/><path d="M461.3 152.3V149.5L462.5 148.8L462.9 148.6V152.3Z"/><path d="M462.5 152.3V148.8L463.3 148.3L463.7 147.9V152.3Z"/><path d="M463.3 152.3V148.3L463.7 147.9L464.1 147.4V152.3Z"/><path d="M463.7 152.3V147.9L464.9 146.4L465.2 145.9V152.3Z"/><path d="M464.9 152.3V146.4L466.1 144.9L466.4 144.4V152.3Z"/><path d="M466.1 152.3V144.9L466.6 144.3L466.9 143.9V152.3Z"/><path d="M466.6 152.3V144.3L467.3 143.6L467.7 143.2V152.3Z"/><path d="M467.3 152.3V143.6L468.5 142.4L468.9 142V152.3Z"/><path d="M468.5 152.3V142.4L469.7 141.2L470.1 140.8V152.3Z"/><path d="M469.7 152.3V141.2L470.3 140.6L470.6 140.8V152.3Z"/><path d="M470.3 152.3V140.6L470.9 141L471.2 141.3V152.3Z"/><path d="M470.9 152.3V141L472.1 141.9L472.4 142.2V152.3Z"/><path d="M472.1 152.3V141.9L473 142.7L473.4 143.3V152.3Z"/><path d="M473 152.3V142.7L473.3 143.1L473.7 143.7V152.3Z"/><path d="M473.3 152.3V143.1L474.5 145.2L474.9 145.9V152.3Z"/><path d="M474.5 152.3V145.2L475.1 146.4L475.5 146V152.3Z"/><path d="M475.1 152.3V146.4L475.7 145.9L476.1 145.5V152.3Z"/><path d="M475.7 152.3V145.9L476.9 144.7L477.2 144.4V152.3Z"/><path d="M476.9 152.3V144.7L477.4 144.3L477.8 143.9V152.3Z"/><path d="M477.4 152.3V144.3L478.1 143.5L478.4 143.1V152.3Z"/><path d="M478.1 152.3V143.5L479.3 142.1L479.7 142.4V152.3Z"/><path d="M479.3 152.3V142.1L479.5 141.8L479.9 143.1V152.3Z"/><path d="M479.5 152.3V141.8L480.5 145.3L480.9 146.6V152.3Z"/><path d="M480.5 152.3V145.3L481.1 147.5L481.5 148V152.3Z"/><path d="M481.1 152.3V147.5L481.7 148.4L482.1 148.9V152.3Z"/><path d="M481.7 152.3V148.4L482.7 149.9L483.1 150V152.3Z"/><path d="M482.7 152.3V149.9L482.9 150L483.2 150V152.3Z"/><path d="M482.9 152.3V150L484.1 150.2L484.4 150.3V152.3Z"/><path d="M484.1 152.3V150.2L485.3 150.4L485.6 150.5V152.3Z"/><path d="M485.3 152.3V150.4L486.5 150.7L486.9 150.7V152.3Z"/><path d="M486.5 152.3V150.7L486.8 150.7L487.1 150.7V152.3Z"/><path d="M486.8 152.3V150.7L487.7 150.6L488.1 150.6V152.3Z"/><path d="M487.7 152.3V150.6L488.9 150.5L489.2 150.5V152.3Z"/><path d="M488.9 152.3V150.5L490.1 150.4L490.4 150.4V152.3Z"/><path d="M490.1 152.3V150.4L491.3 150.3L491.6 150.2V152.3Z"/><path d="M491.3 152.3V150.3L491.6 150.3L492 150.2V152.3Z"/><path d="M491.6 152.3V150.3L492.5 150.2L492.9 150.2V152.3Z"/><path d="M492.5 152.3V150.2L493.7 150.1L494.1 150.1V152.3Z"/><path d="M493.7 152.3V150.1L494.9 150L495.2 150V152.3Z"/><path d="M494.9 152.3V150L496.1 150L496.4 149.9V152.3Z"/><path d="M496.1 152.3V150L496.5 149.9L496.8 149.9V152.3Z"/><path d="M496.5 152.3V149.9L497.3 149.9L497.6 149.9V152.3Z"/><path d="M497.3 152.3V149.9L498.5 149.9L498.9 149.9V152.3Z"/><path d="M498.5 152.3V149.9L499.7 149.9L500.1 149.9V152.3Z"/><path d="M499.7 152.3V149.9L500.9 149.9L501.2 149.9V152.3Z"/><path d="M500.9 152.3V149.9L501.3 149.9L501.7 150V152.3Z"/><path d="M501.3 152.3V149.9L502.1 150L502.4 150V152.3Z"/><path d="M502.1 152.3V150L503.3 150.1L503.6 150.2V152.3Z"/><path d="M503.3 152.3V150.1L504.5 150.2L504.9 150.1V152.3Z"/><path d="M504.5 152.3V150.2L504.5 150.3L504.9 150.1V152.3Z"/><path d="M504.5 152.3V150.3L505.7 149.8L506.1 149.7V152.3Z"/><path d="M505.7 152.3V149.8L506.9 149.4L507.2 149.3V152.3Z"/><path d="M506.9 152.3V149.4L507.8 149.1L508.1 149V152.3Z"/><path d="M507.8 152.3V149.1L508.1 149L508.4 148.9V152.3Z"/><path d="M508.1 152.3V149L509.3 148.6L509.6 148.5V152.3Z"/><path d="M509.3 152.3V148.6L510.2 148.3L510.5 148.3V152.3Z"/><path d="M510.2 152.3V148.3L510.5 148.3L510.5 148.3V152.3Z"/></g>
<path d="M427.7 150.74 L428.9 150.51 L430.1 150.28 L430.23 150.25 L431.3 150.46 L432.5 150.7 L433.46 150.9 L433.7 150.86 L434.9 150.68 L436.1 150.5 L436.69 150.41 L437.3 150.47 L438.5 150.59 L439.7 150.71 L439.92 150.74 L440.9 150.64 L442.1 150.52 L443.16 150.41 L443.3 150.4 L444.5 150.34 L445.7 150.28 L446.39 150.25 L446.9 150.04 L448.1 149.56 L449.3 149.08 L450.5 148.6 L451.23 148.31 L451.7 148.78 L452.9 149.98 L453.66 150.74 L454.1 150.74 L455.3 150.74 L456.5 150.74 L456.89 150.74 L457.7 150.61 L458.9 150.43 L460.1 150.25 L460.12 150.25 L461.3 149.54 L462.5 148.82 L463.35 148.31 L463.7 147.87 L464.9 146.37 L466.1 144.87 L466.58 144.27 L467.3 143.55 L468.5 142.35 L469.7 141.15 L470.3 140.56 L470.9 141.02 L472.1 141.94 L473.04 142.66 L473.3 143.11 L474.5 145.24 L475.14 146.37 L475.7 145.86 L476.9 144.74 L477.4 144.27 L478.1 143.47 L479.3 142.09 L479.5 141.85 L480.5 145.34 L481.12 147.5 L481.7 148.37 L482.74 149.93 L482.9 149.96 L484.1 150.2 L485.3 150.44 L486.5 150.68 L486.77 150.74 L487.7 150.64 L488.9 150.52 L490.1 150.4 L491.3 150.28 L491.62 150.25 L492.5 150.19 L493.7 150.11 L494.9 150.03 L496.1 149.95 L496.47 149.93 L497.3 149.93 L498.5 149.93 L499.7 149.93 L500.9 149.93 L501.31 149.93 L502.1 150.01 L503.3 150.13 L504.5 150.25 L504.54 150.25 L505.7 149.85 L506.9 149.43 L507.78 149.12 L508.1 149.01 L509.3 148.61 L510.2 148.31 L510.5 148.31" fill="none" stroke="#2a0a3a" stroke-width="0.7" stroke-linejoin="round"/>
<line x1="427.7" y1="151.85" x2="510.5" y2="151.85" stroke="#b01e98" stroke-width="0.9"/>
<text x="424.6" y="122.7" font-size="5" text-anchor="end" fill="#8d3e9c" stroke="#8d3e9c" stroke-width="0.12">120</text>
<text x="424.6" y="152.3" font-size="5" text-anchor="end" fill="#8d3e9c" stroke="#8d3e9c" stroke-width="0.12">0</text>
<line x1="412.9" y1="45.5" x2="412.9" y2="155" stroke="#555" stroke-width="0.9"/>
<text x="398.3" y="100.6" font-size="6.4" fill="#222" stroke="#222" stroke-width="0.12">NC</text>
<rect x="427.7" y="189.7" width="82.8" height="35.2" fill="#ebebf6"/>
<g fill="url(#cgb)"><path d="M427.7 188.2V185L428.9 185.4L429.2 185.5V188.2Z"/><path d="M428.9 188.2V185.4L429.4 185.5L429.8 185.7V188.2Z"/><path d="M429.4 188.2V185.5L430.1 185.8L430.4 186V188.2Z"/><path d="M430.1 188.2V185.8L431.3 186.4L431.7 186.6V188.2Z"/><path d="M431.3 188.2V186.4L431.8 186.7L432.2 186.7V188.2Z"/><path d="M431.8 188.2V186.7L432.5 186.7L432.9 186.7V188.2Z"/><path d="M432.5 188.2V186.7L433.7 186.8L434.1 186.8V188.2Z"/><path d="M433.7 188.2V186.8L434.9 186.9L435.2 186.9V188.2Z"/><path d="M434.9 188.2V186.9L435.1 186.9L435.4 186.8V188.2Z"/><path d="M435.1 188.2V186.9L436.1 186.6L436.4 186.5V188.2Z"/><path d="M436.1 188.2V186.6L437.3 186.3L437.7 186.2V188.2Z"/><path d="M437.3 188.2V186.3L438.5 186L438.9 185.9V188.2Z"/><path d="M438.5 188.2V186L439.1 185.8L439.5 186V188.2Z"/><path d="M439.1 188.2V185.8L439.7 186L440.1 186.2V188.2Z"/><path d="M439.7 188.2V186L440.9 186.4L441.2 186.5V188.2Z"/><path d="M440.9 188.2V186.4L442.1 186.8L442.4 186.9V188.2Z"/><path d="M442.1 188.2V186.8L442.3 186.9L442.7 186.9V188.2Z"/><path d="M442.3 188.2V186.9L443.3 186.9L443.7 186.9V188.2Z"/><path d="M443.3 188.2V186.9L444.5 186.9L444.9 186.9V188.2Z"/><path d="M444.5 188.2V186.9L445.7 186.9L446.1 186.9V188.2Z"/><path d="M445.7 188.2V186.9L446.4 186.9L446.7 186.9V188.2Z"/><path d="M446.4 188.2V186.9L446.9 186.9L447.2 186.9V188.2Z"/><path d="M446.9 188.2V186.9L448.1 186.9L448.4 186.9V188.2Z"/><path d="M448.1 188.2V186.9L449.3 186.9L449.7 186.9V188.2Z"/><path d="M449.3 188.2V186.9L450.5 186.9L450.9 186.9V188.2Z"/><path d="M450.5 188.2V186.9L451.2 186.9L451.6 186.9V188.2Z"/><path d="M451.2 188.2V186.9L451.7 186.9L452.1 186.9V188.2Z"/><path d="M451.7 188.2V186.9L452.9 186.9L453.2 186.9V188.2Z"/><path d="M452.9 188.2V186.9L454.1 186.9L454.4 186.9V188.2Z"/><path d="M454.1 188.2V186.9L455.3 186.9L455.7 186.9V188.2Z"/><path d="M455.3 188.2V186.9L456.1 186.9L456.4 186.9V188.2Z"/><path d="M456.1 188.2V186.9L456.5 186.9L456.9 186.8V188.2Z"/><path d="M456.5 188.2V186.9L457.7 186.8L458.1 186.8V188.2Z"/><path d="M457.7 188.2V186.8L458.9 186.7L459.2 186.7V188.2Z"/><path d="M458.9 188.2V186.7L459.3 186.7L459.7 186.5V188.2Z"/><path d="M459.3 188.2V186.7L460.1 186.3L460.4 186.1V188.2Z"/><path d="M460.1 188.2V186.3L461.3 185.7L461.7 185.5V188.2Z"/><path d="M461.3 188.2V185.7L462.5 185.1L462.9 184.7V188.2Z"/><path d="M462.5 188.2V185.1L462.5 185L462.9 184.6V188.2Z"/><path d="M462.5 188.2V185L463.7 183.6L464.1 183.2V188.2Z"/><path d="M463.7 188.2V183.6L464.9 182.1L465.2 181.7V188.2Z"/><path d="M464.9 188.2V182.1L465.8 181L466.1 180.5V188.2Z"/><path d="M465.8 188.2V181L466.1 180.6L466.4 180.1V188.2Z"/><path d="M466.1 188.2V180.6L467.3 179L467.7 178.5V188.2Z"/><path d="M467.3 188.2V179L468.2 177.8L468.5 177.4V188.2Z"/><path d="M468.2 188.2V177.8L468.5 177.5L468.9 177.2V188.2Z"/><path d="M468.5 188.2V177.5L469.7 176.4L470.1 176.1V188.2Z"/><path d="M469.7 188.2V176.4L470.3 175.8L470.6 176.2V188.2Z"/><path d="M470.3 188.2V175.8L470.9 176.4L471.2 176.8V188.2Z"/><path d="M470.9 188.2V176.4L472.1 177.6L472.4 178V188.2Z"/><path d="M472.1 188.2V177.6L472.2 177.8L472.6 178.1V188.2Z"/><path d="M472.2 188.2V177.8L473.3 178.8L473.7 179.2V188.2Z"/><path d="M473.3 188.2V178.8L474.5 180L474.9 179.8V188.2Z"/><path d="M474.5 188.2V180L474.7 180.2L475 179.5V188.2Z"/><path d="M474.7 188.2V180.2L475.7 178.1L476.1 177.4V188.2Z"/><path d="M475.7 188.2V178.1L476.9 175.7L477.2 174.9V188.2Z"/><path d="M476.9 188.2V175.7L477.1 175.3L477.4 174.3V188.2Z"/><path d="M477.1 188.2V175.3L478.1 172.4L478.4 171.4V188.2Z"/><path d="M478.1 188.2V172.4L479.3 169L479.7 169V188.2Z"/><path d="M479.3 188.2V169L479.5 168.4L479.9 169.8V188.2Z"/><path d="M479.5 188.2V168.4L480.5 172.3L480.9 173.6V188.2Z"/><path d="M480.5 188.2V172.3L481.7 176.9L482.1 178V188.2Z"/><path d="M481.7 188.2V176.9L481.9 177.8L482.3 178.5V188.2Z"/><path d="M481.9 188.2V177.8L482.9 179.7L483.2 180.4V188.2Z"/><path d="M482.9 188.2V179.7L484.1 182.1L484.4 182.7V188.2Z"/><path d="M484.1 188.2V182.1L484.4 182.6L484.7 182.9V188.2Z"/><path d="M484.4 188.2V182.6L485.3 183.4L485.6 183.7V188.2Z"/><path d="M485.3 188.2V183.4L486.5 184.3L486.9 184.6V188.2Z"/><path d="M486.5 188.2V184.3L487.7 185.3L488.1 185.6V188.2Z"/><path d="M487.7 188.2V185.3L488.4 185.8L488.7 185.9V188.2Z"/><path d="M488.4 188.2V185.8L488.9 186L489.2 186V188.2Z"/><path d="M488.9 188.2V186L490.1 186.2L490.4 186.3V188.2Z"/><path d="M490.1 188.2V186.2L491.3 186.5L491.6 186.6V188.2Z"/><path d="M491.3 188.2V186.5L492.5 186.7L492.9 186.8V188.2Z"/><path d="M492.5 188.2V186.7L493.2 186.9L493.6 186.9V188.2Z"/><path d="M493.2 188.2V186.9L493.7 186.9L494.1 186.9V188.2Z"/><path d="M493.7 188.2V186.9L494.9 186.8L495.2 186.8V188.2Z"/><path d="M494.9 188.2V186.8L496.1 186.8L496.4 186.7V188.2Z"/><path d="M496.1 188.2V186.8L497.3 186.7L497.6 186.7V188.2Z"/><path d="M497.3 188.2V186.7L498.1 186.7L498.4 186.6V188.2Z"/><path d="M498.1 188.2V186.7L498.5 186.6L498.9 186.6V188.2Z"/><path d="M498.5 188.2V186.6L499.7 186.5L500.1 186.5V188.2Z"/><path d="M499.7 188.2V186.5L500.9 186.4L501.2 186.3V188.2Z"/><path d="M500.9 188.2V186.4L502.1 186.3L502.4 186.2V188.2Z"/><path d="M502.1 188.2V186.3L502.9 186.2L503.3 186V188.2Z"/><path d="M502.9 188.2V186.2L503.3 186L503.6 185.8V188.2Z"/><path d="M503.3 188.2V186L504.5 185.4L504.9 185.2V188.2Z"/><path d="M504.5 188.2V185.4L505.7 184.8L506.1 184.7V188.2Z"/><path d="M505.7 188.2V184.8L506.9 184.3L507.2 184.2V188.2Z"/><path d="M506.9 188.2V184.3L507 184.2L507.3 184.1V188.2Z"/><path d="M507 188.2V184.2L508.1 183.9L508.4 183.9V188.2Z"/><path d="M508.1 188.2V183.9L509.3 183.6L509.6 183.6V188.2Z"/><path d="M509.3 188.2V183.6L510.2 183.4L510.5 183.4V188.2Z"/><path d="M510.2 188.2V183.4L510.5 183.4L510.5 183.4V188.2Z"/></g>
<path d="M427.7 185.04 L428.9 185.38 L429.42 185.53 L430.1 185.84 L431.3 186.4 L431.85 186.66 L432.5 186.71 L433.7 186.8 L434.9 186.89 L435.08 186.9 L436.1 186.63 L437.3 186.32 L438.5 186.01 L439.12 185.85 L439.7 186.04 L440.9 186.43 L442.1 186.82 L442.35 186.9 L443.3 186.9 L444.5 186.9 L445.7 186.9 L446.39 186.9 L446.9 186.9 L448.1 186.9 L449.3 186.9 L450.5 186.9 L451.23 186.9 L451.7 186.9 L452.9 186.9 L454.1 186.9 L455.3 186.9 L456.08 186.9 L456.5 186.87 L457.7 186.78 L458.9 186.69 L459.31 186.66 L460.1 186.26 L461.3 185.66 L462.5 185.06 L462.54 185.04 L463.7 183.59 L464.9 182.09 L465.77 181 L466.1 180.56 L467.3 178.96 L468.2 177.77 L468.5 177.49 L469.7 176.38 L470.3 175.83 L470.9 176.44 L472.1 177.64 L472.23 177.77 L473.3 178.84 L474.5 180.04 L474.66 180.19 L475.7 178.11 L476.9 175.71 L477.08 175.35 L478.1 172.43 L479.3 168.99 L479.5 168.4 L480.5 172.25 L481.7 176.89 L481.93 177.77 L482.9 179.72 L484.1 182.12 L484.35 182.62 L485.3 183.38 L486.5 184.34 L487.7 185.3 L488.39 185.85 L488.9 185.96 L490.1 186.22 L491.3 186.48 L492.5 186.74 L493.24 186.9 L493.7 186.88 L494.9 186.82 L496.1 186.76 L497.3 186.7 L498.08 186.66 L498.5 186.61 L499.7 186.49 L500.9 186.37 L502.1 186.25 L502.93 186.17 L503.3 185.99 L504.5 185.42 L505.7 184.84 L506.9 184.27 L506.97 184.23 L508.1 183.95 L509.3 183.65 L510.2 183.42 L510.5 183.42" fill="none" stroke="#141550" stroke-width="0.7" stroke-linejoin="round"/>
<line x1="427.7" y1="187.75" x2="510.5" y2="187.75" stroke="#1c1e68" stroke-width="0.9"/>
<text x="424.6" y="157.9" font-size="5" text-anchor="end" fill="#3e4f9e" stroke="#3e4f9e" stroke-width="0.12">120</text>
<text x="424.6" y="188.2" font-size="5" text-anchor="end" fill="#3e4f9e" stroke="#3e4f9e" stroke-width="0.12">0</text>
<g fill="url(#cgr)"><path d="M427.7 224.9V223.6L428.9 223.6L429.2 223.6V224.9Z"/><path d="M428.9 224.9V223.6L430.1 223.6L430.4 223.6V224.9Z"/><path d="M430.1 224.9V223.6L431.3 223.6L431.7 223.6V224.9Z"/><path d="M431.3 224.9V223.6L431.8 223.6L432.2 223.6V224.9Z"/><path d="M431.8 224.9V223.6L432.5 223.6L432.9 223.6V224.9Z"/><path d="M432.5 224.9V223.6L433.7 223.6L434.1 223.6V224.9Z"/><path d="M433.7 224.9V223.6L434.9 223.6L435.2 223.6V224.9Z"/><path d="M434.9 224.9V223.6L436.1 223.6L436.4 223.6V224.9Z"/><path d="M436.1 224.9V223.6L436.7 223.6L437 223.6V224.9Z"/><path d="M436.7 224.9V223.6L437.3 223.6L437.7 223.6V224.9Z"/><path d="M437.3 224.9V223.6L438.5 223.6L438.9 223.6V224.9Z"/><path d="M438.5 224.9V223.6L439.7 223.6L440.1 223.6V224.9Z"/><path d="M439.7 224.9V223.6L440.9 223.6L441.2 223.6V224.9Z"/><path d="M440.9 224.9V223.6L442.1 223.6L442.4 223.6V224.9Z"/><path d="M442.1 224.9V223.6L443.2 223.6L443.5 223.6V224.9Z"/><path d="M443.2 224.9V223.6L443.3 223.6L443.7 223.5V224.9Z"/><path d="M443.3 224.9V223.6L444.5 223.4L444.9 223.4V224.9Z"/><path d="M444.5 224.9V223.4L445.7 223.3L446.1 223.2V224.9Z"/><path d="M445.7 224.9V223.3L446.9 223.1L447.2 223.1V224.9Z"/><path d="M446.9 224.9V223.1L448 223L448.4 222.9V224.9Z"/><path d="M448 224.9V223L448.1 223L448.4 222.9V224.9Z"/><path d="M448.1 224.9V223L449.3 222.7L449.7 222.6V224.9Z"/><path d="M449.3 224.9V222.7L450.5 222.4L450.9 222.3V224.9Z"/><path d="M450.5 224.9V222.4L451.2 222.2L451.6 222.3V224.9Z"/><path d="M451.2 224.9V222.2L451.7 222.3L452.1 222.4V224.9Z"/><path d="M451.7 224.9V222.3L452.9 222.6L453.2 222.7V224.9Z"/><path d="M452.9 224.9V222.6L454.1 222.9L454.4 223V224.9Z"/><path d="M454.1 224.9V222.9L454.5 223L454.8 223V224.9Z"/><path d="M454.5 224.9V223L455.3 223.1L455.7 223.2V224.9Z"/><path d="M455.3 224.9V223.1L456.5 223.3L456.9 223.3V224.9Z"/><path d="M456.5 224.9V223.3L457.7 223.4L458.1 223.4V224.9Z"/><path d="M457.7 224.9V223.4L458.9 223.5L459.2 223.6V224.9Z"/><path d="M458.9 224.9V223.5L459.3 223.6L459.7 223.5V224.9Z"/><path d="M459.3 224.9V223.6L460.1 223.3L460.4 223.2V224.9Z"/><path d="M460.1 224.9V223.3L461.3 222.9L461.7 222.8V224.9Z"/><path d="M461.3 224.9V222.9L462.5 222.5L462.9 222.4V224.9Z"/><path d="M462.5 224.9V222.5L463.3 222.2L463.7 221.9V224.9Z"/><path d="M463.3 224.9V222.2L463.7 221.9L464.1 221.6V224.9Z"/><path d="M463.7 224.9V221.9L464.9 220.9L465.2 220.5V224.9Z"/><path d="M464.9 224.9V220.9L465.8 220.1L466.1 219.7V224.9Z"/><path d="M465.8 224.9V220.1L466.1 219.7L466.4 219.3V224.9Z"/><path d="M466.1 224.9V219.7L467.3 218.4L467.7 218V224.9Z"/><path d="M467.3 224.9V218.4L468.2 217.4L468.5 216.9V224.9Z"/><path d="M468.2 224.9V217.4L468.5 217L468.9 216.5V224.9Z"/><path d="M468.5 224.9V217L469.7 215.4L470.1 214.9V224.9Z"/><path d="M469.7 224.9V215.4L470.3 214.6L470.6 215.3V224.9Z"/><path d="M470.3 224.9V214.6L470.9 215.8L471.2 216.4V224.9Z"/><path d="M470.9 224.9V215.8L472.1 218.1L472.4 218.8V224.9Z"/><path d="M472.1 224.9V218.1L472.6 219L472.9 219.2V224.9Z"/><path d="M472.6 224.9V219L473.3 219.5L473.7 219.8V224.9Z"/><path d="M473.3 224.9V219.5L474.5 220.5L474.9 220.1V224.9Z"/><path d="M474.5 224.9V220.5L474.7 220.6L475 219.8V224.9Z"/><path d="M474.7 224.9V220.6L475.7 218.1L476.1 217.3V224.9Z"/><path d="M475.7 224.9V218.1L476.9 215.3L477.2 214.5V224.9Z"/><path d="M476.9 224.9V215.3L477.1 214.9L477.4 213.9V224.9Z"/><path d="M477.1 224.9V214.9L478.1 212.1L478.4 211.1V224.9Z"/><path d="M478.1 224.9V212.1L479.3 208.7L479.7 208.7V224.9Z"/><path d="M479.3 224.9V208.7L479.5 208.1L479.9 209.4V224.9Z"/><path d="M479.5 224.9V208.1L480.5 211.7L480.9 213V224.9Z"/><path d="M480.5 224.9V211.7L481.6 215.7L482 216.4V224.9Z"/><path d="M481.6 224.9V215.7L481.7 215.9L482.1 216.6V224.9Z"/><path d="M481.7 224.9V215.9L482.9 218.2L483.2 218.9V224.9Z"/><path d="M482.9 224.9V218.2L483.9 220.1L484.2 220.2V224.9Z"/><path d="M483.9 224.9V220.1L484.1 220.1L484.4 220.2V224.9Z"/><path d="M484.1 224.9V220.1L485.3 220.3L485.6 220.4V224.9Z"/><path d="M485.3 224.9V220.3L486.5 220.5L486.9 220.6V224.9Z"/><path d="M486.5 224.9V220.5L486.8 220.6L487.1 220.8V224.9Z"/><path d="M486.8 224.9V220.6L487.7 221L488.1 221.2V224.9Z"/><path d="M487.7 224.9V221L488.9 221.6L489.2 221.8V224.9Z"/><path d="M488.9 224.9V221.6L490 222.2L490.4 222.2V224.9Z"/><path d="M490 224.9V222.2L490.1 222.2L490.4 222.2V224.9Z"/><path d="M490.1 224.9V222.2L491.3 222.3L491.6 222.4V224.9Z"/><path d="M491.3 224.9V222.3L492.5 222.4L492.9 222.5V224.9Z"/><path d="M492.5 224.9V222.4L493.7 222.6L494.1 222.6V224.9Z"/><path d="M493.7 224.9V222.6L494.9 222.7L495.2 222.7V224.9Z"/><path d="M494.9 224.9V222.7L494.9 222.7L495.2 222.7V224.9Z"/><path d="M494.9 224.9V222.7L496.1 222.8L496.4 222.8V224.9Z"/><path d="M496.1 224.9V222.8L497.3 222.8L497.6 222.9V224.9Z"/><path d="M497.3 224.9V222.8L498.5 222.9L498.9 222.9V224.9Z"/><path d="M498.5 224.9V222.9L499.7 223L500 222.8V224.9Z"/><path d="M499.7 224.9V223L499.7 223L500.1 222.8V224.9Z"/><path d="M499.7 224.9V223L500.9 222.4L501.2 222.2V224.9Z"/><path d="M500.9 224.9V222.4L502.1 221.8L502.4 221.6V224.9Z"/><path d="M502.1 224.9V221.8L502.9 221.4L503.3 221.5V224.9Z"/><path d="M502.9 224.9V221.4L503.3 221.5L503.6 221.6V224.9Z"/><path d="M503.3 224.9V221.5L504.5 221.8L504.9 221.9V224.9Z"/><path d="M504.5 224.9V221.8L505.7 222.1L506.1 222.2V224.9Z"/><path d="M505.7 224.9V222.1L506.2 222.2L506.5 222V224.9Z"/><path d="M506.2 224.9V222.2L506.9 221.9L507.2 221.7V224.9Z"/><path d="M506.9 224.9V221.9L508.1 221.3L508.4 221.1V224.9Z"/><path d="M508.1 224.9V221.3L508.6 221.1L508.9 221.3V224.9Z"/><path d="M508.6 224.9V221.1L509.3 221.6L509.6 221.8V224.9Z"/><path d="M509.3 224.9V221.6L510.2 222.2L510.5 222.2V224.9Z"/><path d="M510.2 224.9V222.2L510.5 222.2L510.5 222.2V224.9Z"/></g>
<path d="M427.7 223.6 L428.9 223.6 L430.1 223.6 L431.3 223.6 L431.85 223.6 L432.5 223.6 L433.7 223.6 L434.9 223.6 L436.1 223.6 L436.69 223.6 L437.3 223.6 L438.5 223.6 L439.7 223.6 L440.9 223.6 L442.1 223.6 L443.16 223.6 L443.3 223.58 L444.5 223.43 L445.7 223.29 L446.9 223.14 L448 223 L448.1 222.98 L449.3 222.68 L450.5 222.38 L451.23 222.2 L451.7 222.31 L452.9 222.61 L454.1 222.91 L454.46 223 L455.3 223.11 L456.5 223.25 L457.7 223.4 L458.9 223.55 L459.31 223.6 L460.1 223.33 L461.3 222.91 L462.5 222.49 L463.35 222.2 L463.7 221.89 L464.9 220.85 L465.77 220.1 L466.1 219.73 L467.3 218.37 L468.2 217.35 L468.5 216.95 L469.7 215.38 L470.3 214.6 L470.9 215.77 L472.1 218.08 L472.56 218.97 L473.3 219.54 L474.5 220.46 L474.66 220.58 L475.7 218.15 L476.9 215.35 L477.08 214.93 L478.1 212.07 L479.3 208.71 L479.5 208.14 L480.5 211.74 L481.6 215.74 L481.7 215.92 L482.9 218.23 L483.87 220.1 L484.1 220.14 L485.3 220.34 L486.5 220.54 L486.77 220.58 L487.7 221.04 L488.9 221.64 L490 222.2 L490.1 222.21 L491.3 222.33 L492.5 222.45 L493.7 222.57 L494.85 222.68 L494.9 222.68 L496.1 222.76 L497.3 222.84 L498.5 222.92 L499.7 223 L499.7 223 L500.9 222.4 L502.1 221.8 L502.93 221.39 L503.3 221.48 L504.5 221.78 L505.7 222.08 L506.16 222.2 L506.9 221.85 L508.1 221.29 L508.58 221.07 L509.3 221.57 L510.2 222.2 L510.5 222.2" fill="none" stroke="#4a0810" stroke-width="0.7" stroke-linejoin="round"/>
<line x1="427.7" y1="224.45" x2="510.5" y2="224.45" stroke="#c01424" stroke-width="0.9"/>
<text x="424.6" y="194.1" font-size="5" text-anchor="end" fill="#d8404c" stroke="#d8404c" stroke-width="0.12">120</text>
<text x="424.6" y="224.9" font-size="5" text-anchor="end" fill="#d8404c" stroke="#d8404c" stroke-width="0.12">0</text>
<g fill="url(#cgp)"><path d="M427.7 260.5V257.3L428.6 256L429 256.3V260.5Z"/><path d="M428.6 260.5V256L428.9 256.3L429.2 256.6V260.5Z"/><path d="M428.9 260.5V256.3L430.1 257.3L430.4 257.6V260.5Z"/><path d="M430.1 260.5V257.3L431 258.1L431.4 258.2V260.5Z"/><path d="M431 260.5V258.1L431.3 258.2L431.7 258.3V260.5Z"/><path d="M431.3 260.5V258.2L432.5 258.6L432.9 258.7V260.5Z"/><path d="M432.5 260.5V258.6L433.7 259L434.1 259.1V260.5Z"/><path d="M433.7 260.5V259L434.3 259.2L434.6 259V260.5Z"/><path d="M434.3 260.5V259.2L434.9 258.8L435.2 258.5V260.5Z"/><path d="M434.9 260.5V258.8L436.1 257.9L436.4 257.7V260.5Z"/><path d="M436.1 260.5V257.9L437.3 257.1L437.7 257.1V260.5Z"/><path d="M437.3 260.5V257.1L437.5 257L437.9 257.2V260.5Z"/><path d="M437.5 260.5V257L438.5 257.6L438.9 257.8V260.5Z"/><path d="M438.5 260.5V257.6L439.7 258.3L440.1 258.5V260.5Z"/><path d="M439.7 260.5V258.3L440.7 258.9L441.1 258.9V260.5Z"/><path d="M440.7 260.5V258.9L440.9 258.9L441.2 259V260.5Z"/><path d="M440.9 260.5V258.9L442.1 259L442.4 259V260.5Z"/><path d="M442.1 260.5V259L443.3 259.1L443.7 259.1V260.5Z"/><path d="M443.3 260.5V259.1L444.5 259.2L444.9 259.2V260.5Z"/><path d="M444.5 260.5V259.2L444.8 259.2L445.1 259.2V260.5Z"/><path d="M444.8 260.5V259.2L445.7 259.1L446.1 259.1V260.5Z"/><path d="M445.7 260.5V259.1L446.9 259L447.2 259V260.5Z"/><path d="M446.9 260.5V259L448 258.9L448.4 258.9V260.5Z"/><path d="M448 260.5V258.9L448.1 258.9L448.4 258.9V260.5Z"/><path d="M448.1 260.5V258.9L449.3 258.7L449.7 258.7V260.5Z"/><path d="M449.3 260.5V258.7L450.5 258.5L450.9 258.5V260.5Z"/><path d="M450.5 260.5V258.5L451.7 258.3L452.1 258.3V260.5Z"/><path d="M451.7 260.5V258.3L452.8 258.1L453.2 258.1V260.5Z"/><path d="M452.8 260.5V258.1L452.9 258.1L453.2 258.1V260.5Z"/><path d="M452.9 260.5V258.1L454.1 258.1L454.4 258.1V260.5Z"/><path d="M454.1 260.5V258.1L455.3 258.1L455.7 258.1V260.5Z"/><path d="M455.3 260.5V258.1L456.1 258.1L456.4 258.1V260.5Z"/><path d="M456.1 260.5V258.1L456.5 258.1L456.9 258.1V260.5Z"/><path d="M456.5 260.5V258.1L457.7 258.1L458.1 258.1V260.5Z"/><path d="M457.7 260.5V258.1L458.9 258.1L459.2 258.1V260.5Z"/><path d="M458.9 260.5V258.1L460.1 258.1L460.4 258V260.5Z"/><path d="M460.1 260.5V258.1L460.1 258.1L460.5 257.9V260.5Z"/><path d="M460.1 260.5V258.1L461.3 257.5L461.7 257.4V260.5Z"/><path d="M461.3 260.5V257.5L462.5 256.9L462.9 256.8V260.5Z"/><path d="M462.5 260.5V256.9L463.3 256.5L463.7 256.2V260.5Z"/><path d="M463.3 260.5V256.5L463.7 256.2L464.1 255.8V260.5Z"/><path d="M463.7 260.5V256.2L464.9 255L465.2 254.6V260.5Z"/><path d="M464.9 260.5V255L466.1 253.8L466.4 253.4V260.5Z"/><path d="M466.1 260.5V253.8L466.6 253.3L466.9 252.3V260.5Z"/><path d="M466.6 260.5V253.3L467.3 251.4L467.7 250.4V260.5Z"/><path d="M467.3 260.5V251.4L468.5 248.2L468.9 247.3V260.5Z"/><path d="M468.5 260.5V248.2L469.3 246L469.7 245.9V260.5Z"/><path d="M469.3 260.5V246L469.7 245.9L470.1 245.8V260.5Z"/><path d="M469.7 260.5V245.9L470.6 245.7L471 246.5V260.5Z"/><path d="M470.6 260.5V245.7L470.9 246.4L471.2 247.2V260.5Z"/><path d="M470.9 260.5V246.4L472.1 249.3L472.4 250.2V260.5Z"/><path d="M472.1 260.5V249.3L473 251.7L473.4 252.1V260.5Z"/><path d="M473 260.5V251.7L473.3 252L473.7 252.4V260.5Z"/><path d="M473.3 260.5V252L474.5 253.6L474.9 253.1V260.5Z"/><path d="M474.5 260.5V253.6L474.7 253.8L475 252.6V260.5Z"/><path d="M474.7 260.5V253.8L475.7 250.4L476.1 249.3V260.5Z"/><path d="M475.7 260.5V250.4L476.9 246.6L477.2 245.6V260.5Z"/><path d="M476.9 260.5V246.6L477.1 246L477.4 245.1V260.5Z"/><path d="M477.1 260.5V246L478.1 243.5L478.4 242.6V260.5Z"/><path d="M478.1 260.5V243.5L479 241.2L479.4 242.2V260.5Z"/><path d="M479 260.5V241.2L479.3 242L479.7 243.1V260.5Z"/><path d="M479.3 260.5V242L480.5 245.7L480.9 246.8V260.5Z"/><path d="M480.5 260.5V245.7L481.1 247.6L481.5 248.8V260.5Z"/><path d="M481.1 260.5V247.6L481.7 249.6L482.1 250.7V260.5Z"/><path d="M481.7 260.5V249.6L482.9 253.6L483.2 254.7V260.5Z"/><path d="M482.9 260.5V253.6L483.5 255.7L483.9 255.9V260.5Z"/><path d="M483.5 260.5V255.7L484.1 256L484.4 256.1V260.5Z"/><path d="M484.1 260.5V256L485.3 256.6L485.6 256.7V260.5Z"/><path d="M485.3 260.5V256.6L486.5 257.2L486.9 257.3V260.5Z"/><path d="M486.5 260.5V257.2L486.8 257.3L487.1 257.4V260.5Z"/><path d="M486.8 260.5V257.3L487.7 257.5L488.1 257.5V260.5Z"/><path d="M487.7 260.5V257.5L488.9 257.7L489.2 257.7V260.5Z"/><path d="M488.9 260.5V257.7L490.1 257.9L490.4 257.9V260.5Z"/><path d="M490.1 260.5V257.9L491.3 258.1L491.6 258.1V260.5Z"/><path d="M491.3 260.5V258.1L491.6 258.1L492 258V260.5Z"/><path d="M491.6 260.5V258.1L492.5 257.9L492.9 257.9V260.5Z"/><path d="M492.5 260.5V257.9L493.7 257.7L494.1 257.6V260.5Z"/><path d="M493.7 260.5V257.7L494.9 257.5L495.2 257.4V260.5Z"/><path d="M494.9 260.5V257.5L495.7 257.3L496 257.1V260.5Z"/><path d="M495.7 260.5V257.3L496.1 257.1L496.4 256.9V260.5Z"/><path d="M496.1 260.5V257.1L497.3 256.4L497.6 256.2V260.5Z"/><path d="M497.3 260.5V256.4L498.1 256L498.4 256.3V260.5Z"/><path d="M498.1 260.5V256L498.5 256.4L498.9 256.7V260.5Z"/><path d="M498.5 260.5V256.4L499.7 257.4L500.1 257.7V260.5Z"/><path d="M499.7 260.5V257.4L500.5 258.1L500.9 258.1V260.5Z"/><path d="M500.5 260.5V258.1L500.9 258.1L501.2 258.1V260.5Z"/><path d="M500.9 260.5V258.1L502.1 258.1L502.4 258.1V260.5Z"/><path d="M502.1 260.5V258.1L503.3 258.1L503.6 258.1V260.5Z"/><path d="M503.3 260.5V258.1L504.5 258.1L504.9 258V260.5Z"/><path d="M504.5 260.5V258.1L504.5 258.1L504.9 258V260.5Z"/><path d="M504.5 260.5V258.1L505.7 257.7L506.1 257.6V260.5Z"/><path d="M505.7 260.5V257.7L506.9 257.3L507.2 257.2V260.5Z"/><path d="M506.9 260.5V257.3L507.8 257L508.1 256.7V260.5Z"/><path d="M507.8 260.5V257L508.1 256.7L508.4 256.4V260.5Z"/><path d="M508.1 260.5V256.7L509.3 255.7L509.6 255.4V260.5Z"/><path d="M509.3 260.5V255.7L510.2 254.9L510.5 254.9V260.5Z"/><path d="M510.2 260.5V254.9L510.5 254.9L510.5 254.9V260.5Z"/></g>
<path d="M427.7 257.31 L428.62 256.02 L428.9 256.26 L430.1 257.3 L431.04 258.12 L431.3 258.21 L432.5 258.61 L433.7 259.01 L434.27 259.2 L434.9 258.77 L436.1 257.95 L437.3 257.12 L437.5 256.99 L438.5 257.59 L439.7 258.31 L440.73 258.93 L440.9 258.94 L442.1 259.02 L443.3 259.1 L444.5 259.18 L444.77 259.2 L445.7 259.12 L446.9 259.02 L448 258.93 L448.1 258.91 L449.3 258.71 L450.5 258.51 L451.7 258.31 L452.85 258.12 L452.9 258.12 L454.1 258.12 L455.3 258.12 L456.08 258.12 L456.5 258.12 L457.7 258.12 L458.9 258.12 L460.1 258.12 L460.12 258.12 L461.3 257.53 L462.5 256.93 L463.35 256.5 L463.7 256.15 L464.9 254.95 L466.1 253.75 L466.58 253.27 L467.3 251.37 L468.5 248.19 L469.33 246 L469.7 245.91 L470.62 245.68 L470.9 246.37 L472.1 249.33 L473.04 251.66 L473.3 251.99 L474.5 253.55 L474.66 253.76 L475.7 250.42 L476.9 246.58 L477.08 246 L478.1 243.45 L479.02 241.16 L479.3 242.02 L480.5 245.71 L481.12 247.62 L481.7 249.55 L482.9 253.55 L483.54 255.69 L484.1 255.97 L485.3 256.57 L486.5 257.17 L486.77 257.31 L487.7 257.46 L488.9 257.66 L490.1 257.86 L491.3 258.06 L491.62 258.12 L492.5 257.94 L493.7 257.7 L494.9 257.46 L495.66 257.31 L496.1 257.08 L497.3 256.44 L498.08 256.02 L498.5 256.38 L499.7 257.42 L500.51 258.12 L500.9 258.12 L502.1 258.12 L503.3 258.12 L504.5 258.12 L504.54 258.12 L505.7 257.71 L506.9 257.29 L507.78 256.99 L508.1 256.71 L509.3 255.67 L510.2 254.89 L510.5 254.89" fill="none" stroke="#2a0a3a" stroke-width="0.7" stroke-linejoin="round"/>
<line x1="427.7" y1="260.05" x2="510.5" y2="260.05" stroke="#b01e98" stroke-width="0.9"/>
<text x="424.6" y="230.4" font-size="5" text-anchor="end" fill="#8d3e9c" stroke="#8d3e9c" stroke-width="0.12">120</text>
<text x="424.6" y="260.5" font-size="5" text-anchor="end" fill="#8d3e9c" stroke="#8d3e9c" stroke-width="0.12">0</text>
<line x1="412.9" y1="154.6" x2="412.9" y2="262" stroke="#555" stroke-width="0.9"/>
<text x="398.5" y="199.6" font-size="6.4" fill="#222" stroke="#222" stroke-width="0.12">IFNβ</text>
<rect x="460.9" y="43.9" width="15.4" height="219.1" fill="none" stroke="#ee6a78" stroke-width="1.0" stroke-opacity="0.75"/>
<text x="449.3" y="271" font-size="4.9" fill="#333" stroke="#333" stroke-width="0.12">Cxcl10 promoter</text>
<text x="0.2" y="296.2" font-size="12.5" font-weight="bold" fill="#000">C</text>
<text x="57" y="296.6" font-size="5.9" fill="#231f20" stroke="#231f20" stroke-width="0.12">ChIP HDAC3</text>
<rect x="36.4" y="302.9" width="6.4" height="2.8" fill="#2a2f6e" stroke="#151a45" stroke-width="0.6"/>
<rect x="54.6" y="302.9" width="6.8" height="2.8" fill="#8e2232" stroke="#4a0808" stroke-width="0.6"/>
<rect x="86.3" y="302.9" width="6.9" height="2.8" fill="#351a4c" stroke="#2e0a3a" stroke-width="0.6"/>
<text x="43.3" y="306.2" font-size="5.7" fill="#231f20" stroke="#231f20" stroke-width="0.12">WT</text>
<text x="63.6" y="306.2" font-size="5.7" fill="#231f20" stroke="#231f20" stroke-width="0.12"><tspan font-style="italic">Hdac3</tspan><tspan font-size="3.0" dy="-2.4">+/−</tspan></text>
<text x="94.7" y="306.2" font-size="5.7" fill="#231f20" stroke="#231f20" stroke-width="0.12"><tspan font-style="italic">Hdac3</tspan><tspan font-size="3.0" dy="-2.4">−/−</tspan></text>
<line x1="22.9" y1="314.35" x2="22.9" y2="401" stroke="#111" stroke-width="0.9"/>
<line x1="22.5" y1="400.6" x2="122.5" y2="400.6" stroke="#111" stroke-width="0.9"/>
<line x1="21.3" y1="400.6" x2="22.9" y2="400.6" stroke="#231f20" stroke-width="0.7"/>
<text x="20.1" y="402.55" font-size="5.9" text-anchor="end" fill="#231f20" stroke="#231f20" stroke-width="0.12">0.0</text>
<line x1="21.3" y1="386.23" x2="22.9" y2="386.23" stroke="#231f20" stroke-width="0.7"/>
<text x="20.1" y="388.17" font-size="5.9" text-anchor="end" fill="#231f20" stroke="#231f20" stroke-width="0.12">0.5</text>
<line x1="21.3" y1="371.85" x2="22.9" y2="371.85" stroke="#231f20" stroke-width="0.7"/>
<text x="20.1" y="373.8" font-size="5.9" text-anchor="end" fill="#231f20" stroke="#231f20" stroke-width="0.12">1.0</text>
<line x1="21.3" y1="357.48" x2="22.9" y2="357.48" stroke="#231f20" stroke-width="0.7"/>
<text x="20.1" y="359.42" font-size="5.9" text-anchor="end" fill="#231f20" stroke="#231f20" stroke-width="0.12">1.5</text>
<line x1="21.3" y1="343.1" x2="22.9" y2="343.1" stroke="#231f20" stroke-width="0.7"/>
<text x="20.1" y="345.05" font-size="5.9" text-anchor="end" fill="#231f20" stroke="#231f20" stroke-width="0.12">2.0</text>
<line x1="21.3" y1="328.73" x2="22.9" y2="328.73" stroke="#231f20" stroke-width="0.7"/>
<text x="20.1" y="330.67" font-size="5.9" text-anchor="end" fill="#231f20" stroke="#231f20" stroke-width="0.12">2.5</text>
<line x1="21.3" y1="314.35" x2="22.9" y2="314.35" stroke="#231f20" stroke-width="0.7"/>
<text x="20.1" y="316.3" font-size="5.9" text-anchor="end" fill="#231f20" stroke="#231f20" stroke-width="0.12">3.0</text>
<line x1="36.3" y1="400.6" x2="36.3" y2="402.2" stroke="#231f20" stroke-width="0.7"/>
<line x1="28.9" y1="323.26" x2="28.9" y2="322.11" stroke="#111" stroke-width="0.6"/>
<line x1="27.54" y1="322.11" x2="30.26" y2="322.11" stroke="#111" stroke-width="0.6"/>
<rect x="26.1" y="323.56" width="5.6" height="77.04" fill="#3a52a8" stroke="#151a45" stroke-width="0.6"/>
<line x1="36.3" y1="355.46" x2="36.3" y2="352.59" stroke="#111" stroke-width="0.6"/>
<line x1="34.94" y1="352.59" x2="37.66" y2="352.59" stroke="#111" stroke-width="0.6"/>
<rect x="33.5" y="355.76" width="5.6" height="44.84" fill="#e2262b" stroke="#4a0808" stroke-width="0.6"/>
<line x1="43.7" y1="371.85" x2="43.7" y2="364.09" stroke="#111" stroke-width="0.6"/>
<line x1="42.34" y1="364.09" x2="45.06" y2="364.09" stroke="#111" stroke-width="0.6"/>
<rect x="40.9" y="372.15" width="5.6" height="28.45" fill="#6f288b" stroke="#2e0a3a" stroke-width="0.6"/>
<text x="37.2" y="409.7" font-size="6.1" text-anchor="middle" fill="#231f20" stroke="#231f20" stroke-width="0.12">NC</text>
<line x1="61.2" y1="400.6" x2="61.2" y2="402.2" stroke="#231f20" stroke-width="0.7"/>
<line x1="53.8" y1="338.5" x2="53.8" y2="337.35" stroke="#111" stroke-width="0.6"/>
<line x1="52.44" y1="337.35" x2="55.16" y2="337.35" stroke="#111" stroke-width="0.6"/>
<rect x="51" y="338.8" width="5.6" height="61.8" fill="#3a52a8" stroke="#151a45" stroke-width="0.6"/>
<line x1="61.2" y1="361.79" x2="61.2" y2="359.49" stroke="#111" stroke-width="0.6"/>
<line x1="59.84" y1="359.49" x2="62.56" y2="359.49" stroke="#111" stroke-width="0.6"/>
<rect x="58.4" y="362.09" width="5.6" height="38.51" fill="#e2262b" stroke="#4a0808" stroke-width="0.6"/>
<line x1="68.6" y1="372.14" x2="68.6" y2="368.11" stroke="#111" stroke-width="0.6"/>
<line x1="67.24" y1="368.11" x2="69.96" y2="368.11" stroke="#111" stroke-width="0.6"/>
<rect x="65.8" y="372.44" width="5.6" height="28.16" fill="#6f288b" stroke="#2e0a3a" stroke-width="0.6"/>
<text x="62.1" y="409.7" font-size="6.1" text-anchor="middle" fill="#231f20" stroke="#231f20" stroke-width="0.12">IFNα</text>
<line x1="86.2" y1="400.6" x2="86.2" y2="402.2" stroke="#231f20" stroke-width="0.7"/>
<line x1="78.8" y1="342.24" x2="78.8" y2="341.09" stroke="#111" stroke-width="0.6"/>
<line x1="77.44" y1="341.09" x2="80.16" y2="341.09" stroke="#111" stroke-width="0.6"/>
<rect x="76" y="342.54" width="5.6" height="58.06" fill="#3a52a8" stroke="#151a45" stroke-width="0.6"/>
<line x1="86.2" y1="361.21" x2="86.2" y2="356.04" stroke="#111" stroke-width="0.6"/>
<line x1="84.84" y1="356.04" x2="87.56" y2="356.04" stroke="#111" stroke-width="0.6"/>
<rect x="83.4" y="361.51" width="5.6" height="39.09" fill="#e2262b" stroke="#4a0808" stroke-width="0.6"/>
<line x1="93.6" y1="372.14" x2="93.6" y2="367.54" stroke="#111" stroke-width="0.6"/>
<line x1="92.24" y1="367.54" x2="94.96" y2="367.54" stroke="#111" stroke-width="0.6"/>
<rect x="90.8" y="372.44" width="5.6" height="28.16" fill="#6f288b" stroke="#2e0a3a" stroke-width="0.6"/>
<text x="87.1" y="409.7" font-size="6.1" text-anchor="middle" fill="#231f20" stroke="#231f20" stroke-width="0.12">IFNβ</text>
<line x1="111.2" y1="400.6" x2="111.2" y2="402.2" stroke="#231f20" stroke-width="0.7"/>
<line x1="103.8" y1="333.33" x2="103.8" y2="331.03" stroke="#111" stroke-width="0.6"/>
<line x1="102.44" y1="331.03" x2="105.16" y2="331.03" stroke="#111" stroke-width="0.6"/>
<rect x="101" y="333.63" width="5.6" height="66.97" fill="#3a52a8" stroke="#151a45" stroke-width="0.6"/>
<line x1="111.2" y1="360.06" x2="111.2" y2="356.9" stroke="#111" stroke-width="0.6"/>
<line x1="109.84" y1="356.9" x2="112.56" y2="356.9" stroke="#111" stroke-width="0.6"/>
<rect x="108.4" y="360.36" width="5.6" height="40.24" fill="#e2262b" stroke="#4a0808" stroke-width="0.6"/>
<line x1="118.6" y1="371.85" x2="118.6" y2="367.54" stroke="#111" stroke-width="0.6"/>
<line x1="117.24" y1="367.54" x2="119.96" y2="367.54" stroke="#111" stroke-width="0.6"/>
<rect x="115.8" y="372.15" width="5.6" height="28.45" fill="#6f288b" stroke="#2e0a3a" stroke-width="0.6"/>
<text x="112.1" y="409.7" font-size="6.1" text-anchor="middle" fill="#231f20" stroke="#231f20" stroke-width="0.12">IFNγ</text>
<line x1="29.2" y1="315.7" x2="43.9" y2="315.7" stroke="#231f20" stroke-width="0.75"/>
<circle cx="32.12" cy="313.4" r="0.94" fill="#231f20"/>
<circle cx="35.27" cy="313.4" r="0.94" fill="#231f20"/>
<circle cx="38.43" cy="313.4" r="0.94" fill="#231f20"/>
<circle cx="41.58" cy="313.4" r="0.94" fill="#231f20"/>
<line x1="29.5" y1="320.3" x2="36.1" y2="320.3" stroke="#231f20" stroke-width="0.75"/>
<circle cx="28.07" cy="318" r="0.94" fill="#231f20"/>
<circle cx="31.22" cy="318" r="0.94" fill="#231f20"/>
<circle cx="34.38" cy="318" r="0.94" fill="#231f20"/>
<circle cx="37.52" cy="318" r="0.94" fill="#231f20"/>
<line x1="54.5" y1="330.3" x2="68.2" y2="330.3" stroke="#231f20" stroke-width="0.75"/>
<circle cx="56.98" cy="327.8" r="0.94" fill="#231f20"/>
<circle cx="60.12" cy="327.8" r="0.94" fill="#231f20"/>
<circle cx="63.28" cy="327.8" r="0.94" fill="#231f20"/>
<circle cx="66.42" cy="327.8" r="0.94" fill="#231f20"/>
<line x1="53.5" y1="334.6" x2="61" y2="334.6" stroke="#231f20" stroke-width="0.75"/>
<circle cx="53.02" cy="332.4" r="0.94" fill="#231f20"/>
<circle cx="56.17" cy="332.4" r="0.94" fill="#231f20"/>
<circle cx="59.33" cy="332.4" r="0.94" fill="#231f20"/>
<circle cx="62.48" cy="332.4" r="0.94" fill="#231f20"/>
<line x1="79" y1="333.2" x2="93.9" y2="333.2" stroke="#231f20" stroke-width="0.75"/>
<circle cx="82.23" cy="331" r="0.94" fill="#231f20"/>
<circle cx="85.38" cy="331" r="0.94" fill="#231f20"/>
<circle cx="88.53" cy="331" r="0.94" fill="#231f20"/>
<circle cx="91.67" cy="331" r="0.94" fill="#231f20"/>
<line x1="78" y1="338.2" x2="86.2" y2="338.2" stroke="#231f20" stroke-width="0.75"/>
<circle cx="78.28" cy="336" r="0.94" fill="#231f20"/>
<circle cx="81.42" cy="336" r="0.94" fill="#231f20"/>
<circle cx="84.58" cy="336" r="0.94" fill="#231f20"/>
<circle cx="87.72" cy="336" r="0.94" fill="#231f20"/>
<line x1="104.3" y1="324.1" x2="118.7" y2="324.1" stroke="#231f20" stroke-width="0.75"/>
<circle cx="107.12" cy="321.2" r="0.94" fill="#231f20"/>
<circle cx="110.27" cy="321.2" r="0.94" fill="#231f20"/>
<circle cx="113.42" cy="321.2" r="0.94" fill="#231f20"/>
<circle cx="116.57" cy="321.2" r="0.94" fill="#231f20"/>
<line x1="102.8" y1="328.4" x2="111.5" y2="328.4" stroke="#231f20" stroke-width="0.75"/>
<circle cx="103.38" cy="326.4" r="0.94" fill="#231f20"/>
<circle cx="106.52" cy="326.4" r="0.94" fill="#231f20"/>
<circle cx="109.67" cy="326.4" r="0.94" fill="#231f20"/>
<circle cx="112.82" cy="326.4" r="0.94" fill="#231f20"/>
<text x="0" y="0" font-size="5.95" text-anchor="middle" fill="#231f20" transform="translate(8 357.2) rotate(-90)"><tspan font-style="italic">Cxcl10</tspan> promoter enrichment fold change</text>
<text x="126" y="296.4" font-size="12.5" font-weight="bold" fill="#000">D</text>
<text x="183.1" y="296.6" font-size="5.9" fill="#231f20" stroke="#231f20" stroke-width="0.12">ChIP H3K27ac</text>
<rect x="164.3" y="302.9" width="6.5" height="2.5" fill="#2a2f6e" stroke="#151a45" stroke-width="0.6"/>
<rect x="184.9" y="302.9" width="6.1" height="2.5" fill="#8e2232" stroke="#4a0808" stroke-width="0.6"/>
<rect x="215.7" y="302.9" width="6.3" height="2.5" fill="#351a4c" stroke="#2e0a3a" stroke-width="0.6"/>
<text x="171.4" y="306.2" font-size="5.7" fill="#231f20" stroke="#231f20" stroke-width="0.12">WT</text>
<text x="192.8" y="306.2" font-size="5.7" fill="#231f20" stroke="#231f20" stroke-width="0.12"><tspan font-style="italic">Hdac3</tspan><tspan font-size="3.0" dy="-2.4">+/−</tspan></text>
<text x="223.4" y="306.2" font-size="5.7" fill="#231f20" stroke="#231f20" stroke-width="0.12"><tspan font-style="italic">Hdac3</tspan><tspan font-size="3.0" dy="-2.4">−/−</tspan></text>
<line x1="150.6" y1="314.6" x2="150.6" y2="401.1" stroke="#111" stroke-width="0.9"/>
<line x1="150.2" y1="400.7" x2="251" y2="400.7" stroke="#111" stroke-width="0.9"/>
<line x1="149" y1="400.7" x2="150.6" y2="400.7" stroke="#231f20" stroke-width="0.7"/>
<text x="147.3" y="402.65" font-size="5.9" text-anchor="end" fill="#231f20" stroke="#231f20" stroke-width="0.12">0</text>
<line x1="149" y1="372" x2="150.6" y2="372" stroke="#231f20" stroke-width="0.7"/>
<text x="147.3" y="373.95" font-size="5.9" text-anchor="end" fill="#231f20" stroke="#231f20" stroke-width="0.12">1</text>
<line x1="149" y1="343.3" x2="150.6" y2="343.3" stroke="#231f20" stroke-width="0.7"/>
<text x="147.3" y="345.25" font-size="5.9" text-anchor="end" fill="#231f20" stroke="#231f20" stroke-width="0.12">2</text>
<line x1="149" y1="314.6" x2="150.6" y2="314.6" stroke="#231f20" stroke-width="0.7"/>
<text x="147.3" y="316.55" font-size="5.9" text-anchor="end" fill="#231f20" stroke="#231f20" stroke-width="0.12">3</text>
<line x1="163.8" y1="400.7" x2="163.8" y2="402.3" stroke="#231f20" stroke-width="0.7"/>
<line x1="156.8" y1="372" x2="156.8" y2="371.43" stroke="#111" stroke-width="0.6"/>
<line x1="155.5" y1="371.43" x2="158.1" y2="371.43" stroke="#111" stroke-width="0.6"/>
<rect x="154.15" y="372.3" width="5.3" height="28.4" fill="#3a52a8" stroke="#151a45" stroke-width="0.6"/>
<line x1="163.8" y1="365.4" x2="163.8" y2="364.54" stroke="#111" stroke-width="0.6"/>
<line x1="162.5" y1="364.54" x2="165.1" y2="364.54" stroke="#111" stroke-width="0.6"/>
<rect x="161.15" y="365.7" width="5.3" height="35" fill="#e2262b" stroke="#4a0808" stroke-width="0.6"/>
<line x1="170.9" y1="358.22" x2="170.9" y2="355.93" stroke="#111" stroke-width="0.6"/>
<line x1="169.6" y1="355.93" x2="172.2" y2="355.93" stroke="#111" stroke-width="0.6"/>
<rect x="168.25" y="358.52" width="5.3" height="42.18" fill="#6f288b" stroke="#2e0a3a" stroke-width="0.6"/>
<text x="163.8" y="409.7" font-size="6.1" text-anchor="middle" fill="#231f20" stroke="#231f20" stroke-width="0.12">NC</text>
<line x1="188.2" y1="400.7" x2="188.2" y2="402.3" stroke="#231f20" stroke-width="0.7"/>
<line x1="181.2" y1="366.26" x2="181.2" y2="364.25" stroke="#111" stroke-width="0.6"/>
<line x1="179.9" y1="364.25" x2="182.5" y2="364.25" stroke="#111" stroke-width="0.6"/>
<rect x="178.55" y="366.56" width="5.3" height="34.14" fill="#3a52a8" stroke="#151a45" stroke-width="0.6"/>
<line x1="188.2" y1="341.87" x2="188.2" y2="339.86" stroke="#111" stroke-width="0.6"/>
<line x1="186.9" y1="339.86" x2="189.5" y2="339.86" stroke="#111" stroke-width="0.6"/>
<rect x="185.55" y="342.17" width="5.3" height="58.53" fill="#e2262b" stroke="#4a0808" stroke-width="0.6"/>
<line x1="195.3" y1="327.23" x2="195.3" y2="324.07" stroke="#111" stroke-width="0.6"/>
<line x1="194" y1="324.07" x2="196.6" y2="324.07" stroke="#111" stroke-width="0.6"/>
<rect x="192.65" y="327.53" width="5.3" height="73.17" fill="#6f288b" stroke="#2e0a3a" stroke-width="0.6"/>
<text x="188.2" y="409.7" font-size="6.1" text-anchor="middle" fill="#231f20" stroke="#231f20" stroke-width="0.12">IFNα</text>
<line x1="212.6" y1="400.7" x2="212.6" y2="402.3" stroke="#231f20" stroke-width="0.7"/>
<line x1="205.6" y1="363.1" x2="205.6" y2="360.23" stroke="#111" stroke-width="0.6"/>
<line x1="204.3" y1="360.23" x2="206.9" y2="360.23" stroke="#111" stroke-width="0.6"/>
<rect x="202.95" y="363.4" width="5.3" height="37.3" fill="#3a52a8" stroke="#151a45" stroke-width="0.6"/>
<line x1="212.6" y1="333.83" x2="212.6" y2="332.97" stroke="#111" stroke-width="0.6"/>
<line x1="211.3" y1="332.97" x2="213.9" y2="332.97" stroke="#111" stroke-width="0.6"/>
<rect x="209.95" y="334.13" width="5.3" height="66.57" fill="#e2262b" stroke="#4a0808" stroke-width="0.6"/>
<line x1="219.7" y1="319.19" x2="219.7" y2="315.46" stroke="#111" stroke-width="0.6"/>
<line x1="218.4" y1="315.46" x2="221" y2="315.46" stroke="#111" stroke-width="0.6"/>
<rect x="217.05" y="319.49" width="5.3" height="81.21" fill="#6f288b" stroke="#2e0a3a" stroke-width="0.6"/>
<text x="212.6" y="409.7" font-size="6.1" text-anchor="middle" fill="#231f20" stroke="#231f20" stroke-width="0.12">IFNβ</text>
<line x1="237" y1="400.7" x2="237" y2="402.3" stroke="#231f20" stroke-width="0.7"/>
<line x1="230" y1="364.25" x2="230" y2="363.1" stroke="#111" stroke-width="0.6"/>
<line x1="228.7" y1="363.1" x2="231.3" y2="363.1" stroke="#111" stroke-width="0.6"/>
<rect x="227.35" y="364.55" width="5.3" height="36.15" fill="#3a52a8" stroke="#151a45" stroke-width="0.6"/>
<line x1="237" y1="351.34" x2="237" y2="349.61" stroke="#111" stroke-width="0.6"/>
<line x1="235.7" y1="349.61" x2="238.3" y2="349.61" stroke="#111" stroke-width="0.6"/>
<rect x="234.35" y="351.64" width="5.3" height="49.06" fill="#e2262b" stroke="#4a0808" stroke-width="0.6"/>
<line x1="244.1" y1="336.41" x2="244.1" y2="331.82" stroke="#111" stroke-width="0.6"/>
<line x1="242.8" y1="331.82" x2="245.4" y2="331.82" stroke="#111" stroke-width="0.6"/>
<rect x="241.45" y="336.71" width="5.3" height="63.99" fill="#6f288b" stroke="#2e0a3a" stroke-width="0.6"/>
<text x="237" y="409.7" font-size="6.1" text-anchor="middle" fill="#231f20" stroke="#231f20" stroke-width="0.12">IFNγ</text>
<line x1="157.1" y1="353.2" x2="171.3" y2="353.2" stroke="#231f20" stroke-width="0.75"/>
<circle cx="160.15" cy="350.9" r="0.94" fill="#231f20"/>
<circle cx="163.15" cy="350.9" r="0.94" fill="#231f20"/>
<circle cx="166.15" cy="350.9" r="0.94" fill="#231f20"/>
<circle cx="169.15" cy="350.9" r="0.94" fill="#231f20"/>
<line x1="157.1" y1="361.5" x2="163.7" y2="361.5" stroke="#231f20" stroke-width="0.75"/>
<circle cx="160.4" cy="358.9" r="0.94" fill="#231f20"/>
<line x1="181.6" y1="323.5" x2="195.6" y2="323.5" stroke="#231f20" stroke-width="0.75"/>
<line x1="195.6" y1="323.5" x2="195.6" y2="326" stroke="#231f20" stroke-width="0.7"/>
<circle cx="184.55" cy="320.8" r="0.94" fill="#231f20"/>
<circle cx="187.55" cy="320.8" r="0.94" fill="#231f20"/>
<circle cx="190.55" cy="320.8" r="0.94" fill="#231f20"/>
<circle cx="193.55" cy="320.8" r="0.94" fill="#231f20"/>
<line x1="181.1" y1="338" x2="187.6" y2="338" stroke="#231f20" stroke-width="0.75"/>
<circle cx="180.9" cy="335.3" r="0.94" fill="#231f20"/>
<circle cx="183.9" cy="335.3" r="0.94" fill="#231f20"/>
<circle cx="186.9" cy="335.3" r="0.94" fill="#231f20"/>
<circle cx="189.9" cy="335.3" r="0.94" fill="#231f20"/>
<line x1="206" y1="313.8" x2="220.7" y2="313.8" stroke="#231f20" stroke-width="0.75"/>
<line x1="220.7" y1="313.8" x2="220.7" y2="315.6" stroke="#231f20" stroke-width="0.7"/>
<circle cx="208.85" cy="311.3" r="0.94" fill="#231f20"/>
<circle cx="211.85" cy="311.3" r="0.94" fill="#231f20"/>
<circle cx="214.85" cy="311.3" r="0.94" fill="#231f20"/>
<circle cx="217.85" cy="311.3" r="0.94" fill="#231f20"/>
<line x1="206.9" y1="330.8" x2="213.5" y2="330.8" stroke="#231f20" stroke-width="0.75"/>
<circle cx="205.95" cy="328.1" r="0.94" fill="#231f20"/>
<circle cx="208.95" cy="328.1" r="0.94" fill="#231f20"/>
<circle cx="211.95" cy="328.1" r="0.94" fill="#231f20"/>
<circle cx="214.95" cy="328.1" r="0.94" fill="#231f20"/>
<line x1="230.6" y1="330.5" x2="245" y2="330.5" stroke="#231f20" stroke-width="0.75"/>
<line x1="245" y1="330.5" x2="245" y2="332.4" stroke="#231f20" stroke-width="0.7"/>
<circle cx="233.75" cy="327.9" r="0.94" fill="#231f20"/>
<circle cx="236.75" cy="327.9" r="0.94" fill="#231f20"/>
<circle cx="239.75" cy="327.9" r="0.94" fill="#231f20"/>
<circle cx="242.75" cy="327.9" r="0.94" fill="#231f20"/>
<line x1="231" y1="347.3" x2="237.5" y2="347.3" stroke="#231f20" stroke-width="0.75"/>
<circle cx="229.95" cy="344.6" r="0.94" fill="#231f20"/>
<circle cx="232.95" cy="344.6" r="0.94" fill="#231f20"/>
<circle cx="235.95" cy="344.6" r="0.94" fill="#231f20"/>
<circle cx="238.95" cy="344.6" r="0.94" fill="#231f20"/>
<text x="0" y="0" font-size="5.95" text-anchor="middle" fill="#231f20" transform="translate(139.9 357.5) rotate(-90)"><tspan font-style="italic">Cxcl10</tspan> promoter enrichment fold change</text>
<text x="253.2" y="296.2" font-size="12.5" font-weight="bold" fill="#000">G</text>
<text x="310.2" y="296.7" font-size="5.9" fill="#231f20" stroke="#231f20" stroke-width="0.12">ChIP HDAC3</text>
<rect x="273.2" y="304" width="5.8" height="2.3" fill="#2a3578" stroke="#151a45" stroke-width="0.6"/>
<rect x="296" y="304" width="6.1" height="2.3" fill="#d82228" stroke="#4a0808" stroke-width="0.6"/>
<rect x="334.5" y="304" width="5.4" height="2.3" fill="#351a4c" stroke="#2e0a3a" stroke-width="0.6"/>
<text x="279.9" y="306.9" font-size="5.2" fill="#231f20" stroke="#231f20" stroke-width="0.12">Vector</text>
<text x="302.8" y="306.9" font-size="5" fill="#231f20" stroke="#231f20" stroke-width="0.12">HDAC3 WT</text>
<text x="341.6" y="306.9" font-size="5" fill="#231f20" stroke="#231f20" stroke-width="0.12">HDAC3 H134/135Q</text>
<line x1="279.6" y1="313.5" x2="279.6" y2="401.1" stroke="#111" stroke-width="0.9"/>
<line x1="279.2" y1="400.7" x2="378" y2="400.7" stroke="#111" stroke-width="0.9"/>
<line x1="278" y1="400.7" x2="279.6" y2="400.7" stroke="#231f20" stroke-width="0.7"/>
<text x="276.7" y="402.65" font-size="5.9" text-anchor="end" fill="#231f20" stroke="#231f20" stroke-width="0.12">0</text>
<line x1="278" y1="378.9" x2="279.6" y2="378.9" stroke="#231f20" stroke-width="0.7"/>
<text x="276.7" y="380.85" font-size="5.9" text-anchor="end" fill="#231f20" stroke="#231f20" stroke-width="0.12">1</text>
<line x1="278" y1="357.1" x2="279.6" y2="357.1" stroke="#231f20" stroke-width="0.7"/>
<text x="276.7" y="359.05" font-size="5.9" text-anchor="end" fill="#231f20" stroke="#231f20" stroke-width="0.12">2</text>
<line x1="278" y1="335.3" x2="279.6" y2="335.3" stroke="#231f20" stroke-width="0.7"/>
<text x="276.7" y="337.25" font-size="5.9" text-anchor="end" fill="#231f20" stroke="#231f20" stroke-width="0.12">3</text>
<line x1="278" y1="313.5" x2="279.6" y2="313.5" stroke="#231f20" stroke-width="0.7"/>
<text x="276.7" y="315.45" font-size="5.9" text-anchor="end" fill="#231f20" stroke="#231f20" stroke-width="0.12">4</text>
<line x1="293" y1="400.7" x2="293" y2="402.3" stroke="#231f20" stroke-width="0.7"/>
<line x1="285.8" y1="378.9" x2="285.8" y2="375.19" stroke="#111" stroke-width="0.6"/>
<line x1="284.55" y1="375.19" x2="287.05" y2="375.19" stroke="#111" stroke-width="0.6"/>
<rect x="283.25" y="379.2" width="5.1" height="21.5" fill="#3a52a8" stroke="#151a45" stroke-width="0.6"/>
<line x1="293" y1="360.37" x2="293" y2="359.72" stroke="#111" stroke-width="0.6"/>
<line x1="291.75" y1="359.72" x2="294.25" y2="359.72" stroke="#111" stroke-width="0.6"/>
<rect x="290.45" y="360.67" width="5.1" height="40.03" fill="#e2262b" stroke="#4a0808" stroke-width="0.6"/>
<line x1="300.1" y1="376.72" x2="300.1" y2="374.1" stroke="#111" stroke-width="0.6"/>
<line x1="298.85" y1="374.1" x2="301.35" y2="374.1" stroke="#111" stroke-width="0.6"/>
<rect x="297.55" y="377.02" width="5.1" height="23.68" fill="#6f288b" stroke="#2e0a3a" stroke-width="0.6"/>
<text x="293.8" y="409.7" font-size="6.1" text-anchor="middle" fill="#231f20" stroke="#231f20" stroke-width="0.12">NC</text>
<line x1="317" y1="400.7" x2="317" y2="402.3" stroke="#231f20" stroke-width="0.7"/>
<line x1="309.8" y1="391.98" x2="309.8" y2="389.8" stroke="#111" stroke-width="0.6"/>
<line x1="308.55" y1="389.8" x2="311.05" y2="389.8" stroke="#111" stroke-width="0.6"/>
<rect x="307.25" y="392.28" width="5.1" height="8.42" fill="#3a52a8" stroke="#151a45" stroke-width="0.6"/>
<line x1="317" y1="363.2" x2="317" y2="362.77" stroke="#111" stroke-width="0.6"/>
<line x1="315.75" y1="362.77" x2="318.25" y2="362.77" stroke="#111" stroke-width="0.6"/>
<rect x="314.45" y="363.5" width="5.1" height="37.2" fill="#e2262b" stroke="#4a0808" stroke-width="0.6"/>
<line x1="324.1" y1="394.16" x2="324.1" y2="390.89" stroke="#111" stroke-width="0.6"/>
<line x1="322.85" y1="390.89" x2="325.35" y2="390.89" stroke="#111" stroke-width="0.6"/>
<rect x="321.55" y="394.46" width="5.1" height="6.24" fill="#6f288b" stroke="#2e0a3a" stroke-width="0.6"/>
<text x="317.8" y="409.7" font-size="6.1" text-anchor="middle" fill="#231f20" stroke="#231f20" stroke-width="0.12">IFNα</text>
<line x1="341" y1="400.7" x2="341" y2="402.3" stroke="#231f20" stroke-width="0.7"/>
<line x1="333.8" y1="394.6" x2="333.8" y2="392.42" stroke="#111" stroke-width="0.6"/>
<line x1="332.55" y1="392.42" x2="335.05" y2="392.42" stroke="#111" stroke-width="0.6"/>
<rect x="331.25" y="394.9" width="5.1" height="5.8" fill="#3a52a8" stroke="#151a45" stroke-width="0.6"/>
<line x1="341" y1="331.38" x2="341" y2="323.31" stroke="#111" stroke-width="0.6"/>
<line x1="339.75" y1="323.31" x2="342.25" y2="323.31" stroke="#111" stroke-width="0.6"/>
<rect x="338.45" y="331.68" width="5.1" height="69.02" fill="#e2262b" stroke="#4a0808" stroke-width="0.6"/>
<line x1="348.1" y1="395.25" x2="348.1" y2="394.81" stroke="#111" stroke-width="0.6"/>
<line x1="346.85" y1="394.81" x2="349.35" y2="394.81" stroke="#111" stroke-width="0.6"/>
<rect x="345.55" y="395.55" width="5.1" height="5.15" fill="#6f288b" stroke="#2e0a3a" stroke-width="0.6"/>
<text x="341.8" y="409.7" font-size="6.1" text-anchor="middle" fill="#231f20" stroke="#231f20" stroke-width="0.12">IFNβ</text>
<line x1="365" y1="400.7" x2="365" y2="402.3" stroke="#231f20" stroke-width="0.7"/>
<line x1="357.8" y1="394.16" x2="357.8" y2="391.33" stroke="#111" stroke-width="0.6"/>
<line x1="356.55" y1="391.33" x2="359.05" y2="391.33" stroke="#111" stroke-width="0.6"/>
<rect x="355.25" y="394.46" width="5.1" height="6.24" fill="#3a52a8" stroke="#151a45" stroke-width="0.6"/>
<line x1="365" y1="353.18" x2="365" y2="349.69" stroke="#111" stroke-width="0.6"/>
<line x1="363.75" y1="349.69" x2="366.25" y2="349.69" stroke="#111" stroke-width="0.6"/>
<rect x="362.45" y="353.48" width="5.1" height="47.22" fill="#e2262b" stroke="#4a0808" stroke-width="0.6"/>
<line x1="372.1" y1="396.34" x2="372.1" y2="395.69" stroke="#111" stroke-width="0.6"/>
<line x1="370.85" y1="395.69" x2="373.35" y2="395.69" stroke="#111" stroke-width="0.6"/>
<rect x="369.55" y="396.64" width="5.1" height="4.06" fill="#6f288b" stroke="#2e0a3a" stroke-width="0.6"/>
<text x="365.8" y="409.7" font-size="6.1" text-anchor="middle" fill="#231f20" stroke="#231f20" stroke-width="0.12">IFNγ</text>
<line x1="286.3" y1="353.5" x2="299.7" y2="353.5" stroke="#231f20" stroke-width="0.75"/>
<text x="293.2" y="352" font-size="5" text-anchor="middle" fill="#231f20" stroke="#231f20" stroke-width="0.12">ns</text>
<line x1="286.3" y1="357.8" x2="292" y2="357.8" stroke="#231f20" stroke-width="0.75"/>
<circle cx="289.1" cy="355.4" r="0.94" fill="#231f20"/>
<line x1="309.3" y1="356.5" x2="323.8" y2="356.5" stroke="#231f20" stroke-width="0.75"/>
<text x="316.3" y="354.4" font-size="5" text-anchor="middle" fill="#231f20" stroke="#231f20" stroke-width="0.12">ns</text>
<line x1="309.3" y1="360.7" x2="316" y2="360.7" stroke="#231f20" stroke-width="0.75"/>
<circle cx="310.15" cy="358.8" r="0.94" fill="#231f20"/>
<circle cx="313.15" cy="358.8" r="0.94" fill="#231f20"/>
<circle cx="316.15" cy="358.8" r="0.94" fill="#231f20"/>
<line x1="334.3" y1="317" x2="348.7" y2="317" stroke="#231f20" stroke-width="0.75"/>
<text x="341.5" y="315.1" font-size="5" text-anchor="middle" fill="#231f20" stroke="#231f20" stroke-width="0.12">ns</text>
<line x1="334.9" y1="321.5" x2="340.5" y2="321.5" stroke="#231f20" stroke-width="0.75"/>
<line x1="340.5" y1="321.5" x2="340.5" y2="323.3" stroke="#231f20" stroke-width="0.7"/>
<circle cx="333.5" cy="319.2" r="0.94" fill="#231f20"/>
<circle cx="336.5" cy="319.2" r="0.94" fill="#231f20"/>
<circle cx="339.5" cy="319.2" r="0.94" fill="#231f20"/>
<circle cx="342.5" cy="319.2" r="0.94" fill="#231f20"/>
<line x1="358.6" y1="343.3" x2="372.7" y2="343.3" stroke="#231f20" stroke-width="0.75"/>
<text x="364.3" y="341.5" font-size="5" text-anchor="middle" fill="#231f20" stroke="#231f20" stroke-width="0.12">ns</text>
<line x1="358.8" y1="348.3" x2="364.5" y2="348.3" stroke="#231f20" stroke-width="0.75"/>
<line x1="364.5" y1="348.3" x2="364.5" y2="350" stroke="#231f20" stroke-width="0.7"/>
<circle cx="357.3" cy="345.9" r="0.94" fill="#231f20"/>
<circle cx="360.3" cy="345.9" r="0.94" fill="#231f20"/>
<circle cx="363.3" cy="345.9" r="0.94" fill="#231f20"/>
<circle cx="366.3" cy="345.9" r="0.94" fill="#231f20"/>
<text x="0" y="0" font-size="5.95" text-anchor="middle" fill="#231f20" transform="translate(267.6 355.5) rotate(-90)"><tspan font-style="italic">Cxcl10</tspan> promoter enrichment fold change</text>
<text x="392.2" y="296.4" font-size="12.5" font-weight="bold" fill="#000">H</text>
<text x="447.6" y="296.7" font-size="5.9" fill="#231f20" stroke="#231f20" stroke-width="0.12">ChIP H3K27ac</text>
<rect x="405.2" y="304.2" width="6" height="2.4" fill="#3a52a8" stroke="#151a45" stroke-width="0.6"/>
<rect x="429.4" y="304.2" width="6.5" height="2.4" fill="#e2262b" stroke="#4a0808" stroke-width="0.6"/>
<rect x="468.8" y="304.2" width="5.7" height="2.4" fill="#6f288b" stroke="#2e0a3a" stroke-width="0.6"/>
<text x="411.6" y="307" font-size="5.2" fill="#231f20" stroke="#231f20" stroke-width="0.12">Vector</text>
<text x="436.1" y="307" font-size="5" fill="#231f20" stroke="#231f20" stroke-width="0.12">HDAC3 WT</text>
<text x="474.9" y="307" font-size="5.1" fill="#231f20" stroke="#231f20" stroke-width="0.12">HDAC3 H134/135Q</text>
<line x1="416.6" y1="314.8" x2="416.6" y2="401.2" stroke="#111" stroke-width="0.9"/>
<line x1="416.2" y1="400.8" x2="516.6" y2="400.8" stroke="#111" stroke-width="0.9"/>
<line x1="415" y1="400.8" x2="416.6" y2="400.8" stroke="#231f20" stroke-width="0.7"/>
<text x="412.8" y="402.75" font-size="5.9" text-anchor="end" fill="#231f20" stroke="#231f20" stroke-width="0.12">0.0</text>
<line x1="415" y1="379.3" x2="416.6" y2="379.3" stroke="#231f20" stroke-width="0.7"/>
<text x="412.8" y="381.25" font-size="5.9" text-anchor="end" fill="#231f20" stroke="#231f20" stroke-width="0.12">0.5</text>
<line x1="415" y1="357.8" x2="416.6" y2="357.8" stroke="#231f20" stroke-width="0.7"/>
<text x="412.8" y="359.75" font-size="5.9" text-anchor="end" fill="#231f20" stroke="#231f20" stroke-width="0.12">1.0</text>
<line x1="415" y1="336.3" x2="416.6" y2="336.3" stroke="#231f20" stroke-width="0.7"/>
<text x="412.8" y="338.25" font-size="5.9" text-anchor="end" fill="#231f20" stroke="#231f20" stroke-width="0.12">1.5</text>
<line x1="415" y1="314.8" x2="416.6" y2="314.8" stroke="#231f20" stroke-width="0.7"/>
<text x="412.8" y="316.75" font-size="5.9" text-anchor="end" fill="#231f20" stroke="#231f20" stroke-width="0.12">2.0</text>
<line x1="430.1" y1="400.8" x2="430.1" y2="402.4" stroke="#231f20" stroke-width="0.7"/>
<line x1="422.65" y1="358.66" x2="422.65" y2="356.94" stroke="#111" stroke-width="0.6"/>
<line x1="421.33" y1="356.94" x2="423.97" y2="356.94" stroke="#111" stroke-width="0.6"/>
<rect x="419.95" y="358.96" width="5.4" height="41.84" fill="#3a52a8" stroke="#151a45" stroke-width="0.6"/>
<line x1="430.1" y1="365.97" x2="430.1" y2="365.11" stroke="#111" stroke-width="0.6"/>
<line x1="428.78" y1="365.11" x2="431.42" y2="365.11" stroke="#111" stroke-width="0.6"/>
<rect x="427.4" y="366.27" width="5.4" height="34.53" fill="#e2262b" stroke="#4a0808" stroke-width="0.6"/>
<line x1="437.5" y1="354.36" x2="437.5" y2="352.64" stroke="#111" stroke-width="0.6"/>
<line x1="436.18" y1="352.64" x2="438.82" y2="352.64" stroke="#111" stroke-width="0.6"/>
<rect x="434.8" y="354.66" width="5.4" height="46.14" fill="#6f288b" stroke="#2e0a3a" stroke-width="0.6"/>
<text x="430.6" y="409.7" font-size="6.1" text-anchor="middle" fill="#231f20" stroke="#231f20" stroke-width="0.12">NC</text>
<line x1="455.2" y1="400.8" x2="455.2" y2="402.4" stroke="#231f20" stroke-width="0.7"/>
<line x1="447.75" y1="323.4" x2="447.75" y2="322.97" stroke="#111" stroke-width="0.6"/>
<line x1="446.43" y1="322.97" x2="449.07" y2="322.97" stroke="#111" stroke-width="0.6"/>
<rect x="445.05" y="323.7" width="5.4" height="77.1" fill="#3a52a8" stroke="#151a45" stroke-width="0.6"/>
<line x1="455.2" y1="372.42" x2="455.2" y2="371.13" stroke="#111" stroke-width="0.6"/>
<line x1="453.88" y1="371.13" x2="456.52" y2="371.13" stroke="#111" stroke-width="0.6"/>
<rect x="452.5" y="372.72" width="5.4" height="28.08" fill="#e2262b" stroke="#4a0808" stroke-width="0.6"/>
<line x1="462.6" y1="335.01" x2="462.6" y2="332" stroke="#111" stroke-width="0.6"/>
<line x1="461.28" y1="332" x2="463.92" y2="332" stroke="#111" stroke-width="0.6"/>
<rect x="459.9" y="335.31" width="5.4" height="65.49" fill="#6f288b" stroke="#2e0a3a" stroke-width="0.6"/>
<text x="455.7" y="409.7" font-size="6.1" text-anchor="middle" fill="#231f20" stroke="#231f20" stroke-width="0.12">IFNα</text>
<line x1="480.3" y1="400.8" x2="480.3" y2="402.4" stroke="#231f20" stroke-width="0.7"/>
<line x1="472.85" y1="347.05" x2="472.85" y2="345.55" stroke="#111" stroke-width="0.6"/>
<line x1="471.53" y1="345.55" x2="474.17" y2="345.55" stroke="#111" stroke-width="0.6"/>
<rect x="470.15" y="347.35" width="5.4" height="53.45" fill="#3a52a8" stroke="#151a45" stroke-width="0.6"/>
<line x1="480.3" y1="371.13" x2="480.3" y2="368.55" stroke="#111" stroke-width="0.6"/>
<line x1="478.98" y1="368.55" x2="481.62" y2="368.55" stroke="#111" stroke-width="0.6"/>
<rect x="477.6" y="371.43" width="5.4" height="29.37" fill="#e2262b" stroke="#4a0808" stroke-width="0.6"/>
<line x1="487.7" y1="343.61" x2="487.7" y2="339.31" stroke="#111" stroke-width="0.6"/>
<line x1="486.38" y1="339.31" x2="489.02" y2="339.31" stroke="#111" stroke-width="0.6"/>
<rect x="485" y="343.91" width="5.4" height="56.89" fill="#6f288b" stroke="#2e0a3a" stroke-width="0.6"/>
<text x="480.8" y="409.7" font-size="6.1" text-anchor="middle" fill="#231f20" stroke="#231f20" stroke-width="0.12">IFNβ</text>
<line x1="505.3" y1="400.8" x2="505.3" y2="402.4" stroke="#231f20" stroke-width="0.7"/>
<line x1="497.85" y1="343.61" x2="497.85" y2="339.31" stroke="#111" stroke-width="0.6"/>
<line x1="496.53" y1="339.31" x2="499.17" y2="339.31" stroke="#111" stroke-width="0.6"/>
<rect x="495.15" y="343.91" width="5.4" height="56.89" fill="#3a52a8" stroke="#151a45" stroke-width="0.6"/>
<line x1="505.3" y1="371.99" x2="505.3" y2="370.7" stroke="#111" stroke-width="0.6"/>
<line x1="503.98" y1="370.7" x2="506.62" y2="370.7" stroke="#111" stroke-width="0.6"/>
<rect x="502.6" y="372.29" width="5.4" height="28.51" fill="#e2262b" stroke="#4a0808" stroke-width="0.6"/>
<line x1="512.7" y1="350.92" x2="512.7" y2="350.49" stroke="#111" stroke-width="0.6"/>
<line x1="511.38" y1="350.49" x2="514.02" y2="350.49" stroke="#111" stroke-width="0.6"/>
<rect x="510" y="351.22" width="5.4" height="49.58" fill="#6f288b" stroke="#2e0a3a" stroke-width="0.6"/>
<text x="505.8" y="409.7" font-size="6.1" text-anchor="middle" fill="#231f20" stroke="#231f20" stroke-width="0.12">IFNγ</text>
<line x1="423" y1="354.1" x2="429.5" y2="354.1" stroke="#231f20" stroke-width="0.75"/>
<text x="425.45" y="352.4" font-size="5" text-anchor="middle" fill="#231f20" stroke="#231f20" stroke-width="0.12">ns</text>
<line x1="430.5" y1="349" x2="436.8" y2="349" stroke="#231f20" stroke-width="0.75"/>
<circle cx="432.9" cy="346.4" r="0.94" fill="#231f20"/>
<line x1="448.3" y1="321.4" x2="455" y2="321.4" stroke="#231f20" stroke-width="0.75"/>
<circle cx="447.3" cy="318.9" r="0.94" fill="#231f20"/>
<circle cx="450.5" cy="318.9" r="0.94" fill="#231f20"/>
<circle cx="453.7" cy="318.9" r="0.94" fill="#231f20"/>
<circle cx="456.9" cy="318.9" r="0.94" fill="#231f20"/>
<line x1="456.5" y1="331" x2="463.2" y2="331" stroke="#231f20" stroke-width="0.75"/>
<line x1="463.2" y1="331" x2="463.2" y2="332.2" stroke="#231f20" stroke-width="0.7"/>
<circle cx="455.25" cy="328.5" r="0.94" fill="#231f20"/>
<circle cx="458.45" cy="328.5" r="0.94" fill="#231f20"/>
<circle cx="461.65" cy="328.5" r="0.94" fill="#231f20"/>
<circle cx="464.85" cy="328.5" r="0.94" fill="#231f20"/>
<line x1="472.9" y1="343.3" x2="479.9" y2="343.3" stroke="#231f20" stroke-width="0.75"/>
<circle cx="473.6" cy="341.3" r="0.94" fill="#231f20"/>
<circle cx="476.8" cy="341.3" r="0.94" fill="#231f20"/>
<circle cx="480" cy="341.3" r="0.94" fill="#231f20"/>
<line x1="480.2" y1="337.3" x2="487.6" y2="337.3" stroke="#231f20" stroke-width="0.75"/>
<line x1="487.6" y1="337.3" x2="487.6" y2="339.4" stroke="#231f20" stroke-width="0.7"/>
<circle cx="480.85" cy="334.8" r="0.94" fill="#231f20"/>
<circle cx="484.05" cy="334.8" r="0.94" fill="#231f20"/>
<circle cx="487.25" cy="334.8" r="0.94" fill="#231f20"/>
<line x1="497.7" y1="337.3" x2="505" y2="337.3" stroke="#231f20" stroke-width="0.75"/>
<circle cx="498.35" cy="335.4" r="0.94" fill="#231f20"/>
<circle cx="501.55" cy="335.4" r="0.94" fill="#231f20"/>
<circle cx="504.75" cy="335.4" r="0.94" fill="#231f20"/>
<line x1="504.5" y1="348.1" x2="511.2" y2="348.1" stroke="#231f20" stroke-width="0.75"/>
<circle cx="505.05" cy="345.7" r="0.94" fill="#231f20"/>
<circle cx="508.25" cy="345.7" r="0.94" fill="#231f20"/>
<circle cx="511.45" cy="345.7" r="0.94" fill="#231f20"/>
<text x="0" y="0" font-size="5.95" text-anchor="middle" fill="#231f20" transform="translate(399.8 357.5) rotate(-90)"><tspan font-style="italic">Cxcl10</tspan> promoter enrichment fold change</text>
<text x="5.9" y="430.3" font-size="12" font-weight="bold" fill="#000">I</text>
<rect x="38.3" y="442.1" width="7.6" height="3.8" fill="#3a52a8" stroke="#151a45" stroke-width="0.6"/>
<rect x="38.3" y="449.9" width="7.6" height="4" fill="#e2262b" stroke="#4a0808" stroke-width="0.6"/>
<rect x="38.3" y="457.7" width="7.6" height="3.8" fill="#6f288b" stroke="#2e0a3a" stroke-width="0.6"/>
<text x="48.2" y="446.6" font-size="6.6" fill="#231f20" stroke="#231f20" stroke-width="0.12">Vector</text>
<text x="48.2" y="454.4" font-size="6.6" fill="#231f20" stroke="#231f20" stroke-width="0.12">HDAC3 WT</text>
<text x="48.2" y="462.2" font-size="6.6" fill="#231f20" stroke="#231f20" stroke-width="0.12">HDAC3 H134/135Q</text>
<line x1="35.8" y1="450" x2="35.8" y2="566.8" stroke="#111" stroke-width="0.9"/>
<line x1="35.4" y1="566.4" x2="181.2" y2="566.4" stroke="#111" stroke-width="0.9"/>
<line x1="34.2" y1="566.4" x2="35.8" y2="566.4" stroke="#231f20" stroke-width="0.7"/>
<text x="33.1" y="568.68" font-size="6.9" text-anchor="end" fill="#231f20" stroke="#231f20" stroke-width="0.12">0</text>
<line x1="34.2" y1="527.6" x2="35.8" y2="527.6" stroke="#231f20" stroke-width="0.7"/>
<text x="33.1" y="529.88" font-size="6.9" text-anchor="end" fill="#231f20" stroke="#231f20" stroke-width="0.12">50</text>
<line x1="34.2" y1="488.8" x2="35.8" y2="488.8" stroke="#231f20" stroke-width="0.7"/>
<text x="33.1" y="491.08" font-size="6.9" text-anchor="end" fill="#231f20" stroke="#231f20" stroke-width="0.12">100</text>
<line x1="34.2" y1="450" x2="35.8" y2="450" stroke="#231f20" stroke-width="0.7"/>
<text x="33.1" y="452.28" font-size="6.9" text-anchor="end" fill="#231f20" stroke="#231f20" stroke-width="0.12">150</text>
<line x1="54.5" y1="566.4" x2="54.5" y2="568" stroke="#231f20" stroke-width="0.7"/>
<rect x="40.5" y="566.08" width="7.8" height="0.32" fill="#3a52a8" stroke="#151a45" stroke-width="0.6"/>
<rect x="50.6" y="566.31" width="7.8" height="0.09" fill="#e2262b" stroke="#4a0808" stroke-width="0.6"/>
<rect x="60.7" y="566.31" width="7.8" height="0.09" fill="#6f288b" stroke="#2e0a3a" stroke-width="0.6"/>
<text x="54.5" y="576.3" font-size="6.6" text-anchor="middle" fill="#231f20" stroke="#231f20" stroke-width="0.12">NC</text>
<line x1="90.5" y1="566.4" x2="90.5" y2="568" stroke="#231f20" stroke-width="0.7"/>
<line x1="80.4" y1="523.72" x2="80.4" y2="522.94" stroke="#111" stroke-width="0.6"/>
<line x1="78.55" y1="522.94" x2="82.25" y2="522.94" stroke="#111" stroke-width="0.6"/>
<rect x="76.5" y="524.02" width="7.8" height="42.38" fill="#3a52a8" stroke="#151a45" stroke-width="0.6"/>
<rect x="86.6" y="553.51" width="7.8" height="12.89" fill="#e2262b" stroke="#4a0808" stroke-width="0.6"/>
<line x1="100.6" y1="520.62" x2="100.6" y2="518.29" stroke="#111" stroke-width="0.6"/>
<line x1="98.75" y1="518.29" x2="102.45" y2="518.29" stroke="#111" stroke-width="0.6"/>
<rect x="96.7" y="520.92" width="7.8" height="45.48" fill="#6f288b" stroke="#2e0a3a" stroke-width="0.6"/>
<text x="90.5" y="576.3" font-size="6.6" text-anchor="middle" fill="#231f20" stroke="#231f20" stroke-width="0.12">IFNα</text>
<line x1="125.9" y1="566.4" x2="125.9" y2="568" stroke="#231f20" stroke-width="0.7"/>
<line x1="115.8" y1="456.98" x2="115.8" y2="455.43" stroke="#111" stroke-width="0.6"/>
<line x1="113.95" y1="455.43" x2="117.65" y2="455.43" stroke="#111" stroke-width="0.6"/>
<rect x="111.9" y="457.28" width="7.8" height="109.12" fill="#3a52a8" stroke="#151a45" stroke-width="0.6"/>
<line x1="125.9" y1="529.15" x2="125.9" y2="528.76" stroke="#111" stroke-width="0.6"/>
<line x1="124.05" y1="528.76" x2="127.75" y2="528.76" stroke="#111" stroke-width="0.6"/>
<rect x="122" y="529.45" width="7.8" height="36.95" fill="#e2262b" stroke="#4a0808" stroke-width="0.6"/>
<line x1="136" y1="456.98" x2="136" y2="454.66" stroke="#111" stroke-width="0.6"/>
<line x1="134.15" y1="454.66" x2="137.85" y2="454.66" stroke="#111" stroke-width="0.6"/>
<rect x="132.1" y="457.28" width="7.8" height="109.12" fill="#6f288b" stroke="#2e0a3a" stroke-width="0.6"/>
<text x="125.9" y="576.3" font-size="6.6" text-anchor="middle" fill="#231f20" stroke="#231f20" stroke-width="0.12">IFNβ</text>
<line x1="161.4" y1="566.4" x2="161.4" y2="568" stroke="#231f20" stroke-width="0.7"/>
<line x1="151.3" y1="547" x2="151.3" y2="545.45" stroke="#111" stroke-width="0.6"/>
<line x1="149.45" y1="545.45" x2="153.15" y2="545.45" stroke="#111" stroke-width="0.6"/>
<rect x="147.4" y="547.3" width="7.8" height="19.1" fill="#3a52a8" stroke="#151a45" stroke-width="0.6"/>
<line x1="161.4" y1="561.74" x2="161.4" y2="560.97" stroke="#111" stroke-width="0.6"/>
<line x1="159.55" y1="560.97" x2="163.25" y2="560.97" stroke="#111" stroke-width="0.6"/>
<rect x="157.5" y="562.04" width="7.8" height="4.36" fill="#e2262b" stroke="#4a0808" stroke-width="0.6"/>
<line x1="171.5" y1="548.94" x2="171.5" y2="547" stroke="#111" stroke-width="0.6"/>
<line x1="169.65" y1="547" x2="173.35" y2="547" stroke="#111" stroke-width="0.6"/>
<rect x="167.6" y="549.24" width="7.8" height="17.16" fill="#6f288b" stroke="#2e0a3a" stroke-width="0.6"/>
<text x="161.4" y="576.3" font-size="6.6" text-anchor="middle" fill="#231f20" stroke="#231f20" stroke-width="0.12">IFNγ</text>
<line x1="45.1" y1="549.6" x2="62.6" y2="549.6" stroke="#231f20" stroke-width="0.75"/>
<text x="55.2" y="547.6" font-size="6.6" text-anchor="middle" fill="#231f20" stroke="#231f20" stroke-width="0.12">ns</text>
<line x1="54.5" y1="557" x2="63.3" y2="557" stroke="#231f20" stroke-width="0.75"/>
<text x="59.9" y="555.7" font-size="6.6" text-anchor="middle" fill="#231f20" stroke="#231f20" stroke-width="0.12">ns</text>
<line x1="45.1" y1="562.4" x2="54.9" y2="562.4" stroke="#231f20" stroke-width="0.75"/>
<text x="50.1" y="560.6" font-size="6.6" text-anchor="middle" fill="#231f20" stroke="#231f20" stroke-width="0.12">ns</text>
<line x1="80.8" y1="507.5" x2="99.2" y2="507.5" stroke="#231f20" stroke-width="0.75"/>
<text x="91.2" y="505.5" font-size="6.6" text-anchor="middle" fill="#231f20" stroke="#231f20" stroke-width="0.12">ns</text>
<line x1="90.3" y1="514.3" x2="99.8" y2="514.3" stroke="#231f20" stroke-width="0.75"/>
<circle cx="88.45" cy="511" r="1.22" fill="#231f20"/>
<circle cx="92.65" cy="511" r="1.22" fill="#231f20"/>
<circle cx="96.85" cy="511" r="1.22" fill="#231f20"/>
<circle cx="101.05" cy="511" r="1.22" fill="#231f20"/>
<line x1="81" y1="519.9" x2="90.6" y2="519.9" stroke="#231f20" stroke-width="0.75"/>
<circle cx="79.25" cy="516.6" r="1.22" fill="#231f20"/>
<circle cx="83.45" cy="516.6" r="1.22" fill="#231f20"/>
<circle cx="87.65" cy="516.6" r="1.22" fill="#231f20"/>
<circle cx="91.85" cy="516.6" r="1.22" fill="#231f20"/>
<line x1="116.1" y1="440.6" x2="133.9" y2="440.6" stroke="#231f20" stroke-width="0.75"/>
<text x="125.5" y="438.4" font-size="6.6" text-anchor="middle" fill="#231f20" stroke="#231f20" stroke-width="0.12">ns</text>
<line x1="127.5" y1="446.8" x2="135.6" y2="446.8" stroke="#231f20" stroke-width="0.75"/>
<circle cx="125" cy="443.3" r="1.22" fill="#231f20"/>
<circle cx="129.2" cy="443.3" r="1.22" fill="#231f20"/>
<circle cx="133.4" cy="443.3" r="1.22" fill="#231f20"/>
<circle cx="137.6" cy="443.3" r="1.22" fill="#231f20"/>
<line x1="116.1" y1="453.4" x2="125.8" y2="453.4" stroke="#231f20" stroke-width="0.75"/>
<circle cx="114" cy="449.9" r="1.22" fill="#231f20"/>
<circle cx="118.2" cy="449.9" r="1.22" fill="#231f20"/>
<circle cx="122.4" cy="449.9" r="1.22" fill="#231f20"/>
<circle cx="126.6" cy="449.9" r="1.22" fill="#231f20"/>
<line x1="153.9" y1="532.7" x2="170.9" y2="532.7" stroke="#231f20" stroke-width="0.75"/>
<text x="162.75" y="530.7" font-size="6.6" text-anchor="middle" fill="#231f20" stroke="#231f20" stroke-width="0.12">ns</text>
<line x1="150.5" y1="539.3" x2="161.4" y2="539.3" stroke="#231f20" stroke-width="0.75"/>
<circle cx="149.45" cy="536.2" r="1.22" fill="#231f20"/>
<circle cx="153.65" cy="536.2" r="1.22" fill="#231f20"/>
<circle cx="157.85" cy="536.2" r="1.22" fill="#231f20"/>
<circle cx="162.05" cy="536.2" r="1.22" fill="#231f20"/>
<line x1="161.7" y1="545.7" x2="171.6" y2="545.7" stroke="#231f20" stroke-width="0.75"/>
<circle cx="159.85" cy="542.3" r="1.22" fill="#231f20"/>
<circle cx="164.05" cy="542.3" r="1.22" fill="#231f20"/>
<circle cx="168.25" cy="542.3" r="1.22" fill="#231f20"/>
<circle cx="172.45" cy="542.3" r="1.22" fill="#231f20"/>
<text x="0" y="0" font-size="6.75" text-anchor="middle" fill="#231f20" transform="translate(15.9 503) rotate(-90)"><tspan font-style="italic">Cxcl10</tspan> mRNA fold change</text>
<text x="182.6" y="430.6" font-size="12.5" font-weight="bold" fill="#000">J</text>
<text x="357.2" y="431.2" font-size="12.5" font-weight="bold" fill="#000">K</text>
<line x1="215.1" y1="444.3" x2="215.1" y2="553.6" stroke="#231f20" stroke-width="0.8"/>
<line x1="214.7" y1="553.2" x2="333" y2="553.2" stroke="#231f20" stroke-width="0.8"/>
<line x1="213.5" y1="553.2" x2="215.1" y2="553.2" stroke="#231f20" stroke-width="0.7"/>
<text x="211.9" y="556.1" font-size="6.6" text-anchor="end" fill="#231f20" stroke="#231f20" stroke-width="0.12">0</text>
<line x1="213.5" y1="516.9" x2="215.1" y2="516.9" stroke="#231f20" stroke-width="0.7"/>
<text x="211.9" y="519.8" font-size="6.6" text-anchor="end" fill="#231f20" stroke="#231f20" stroke-width="0.12">100</text>
<line x1="213.5" y1="480.6" x2="215.1" y2="480.6" stroke="#231f20" stroke-width="0.7"/>
<text x="211.9" y="483.5" font-size="6.6" text-anchor="end" fill="#231f20" stroke="#231f20" stroke-width="0.12">200</text>
<line x1="213.5" y1="444.3" x2="215.1" y2="444.3" stroke="#231f20" stroke-width="0.7"/>
<text x="211.9" y="447.2" font-size="6.6" text-anchor="end" fill="#231f20" stroke="#231f20" stroke-width="0.12">300</text>
<line x1="215.9" y1="553.2" x2="215.9" y2="554.8" stroke="#231f20" stroke-width="0.7"/>
<text x="215.9" y="564.8" font-size="6.6" text-anchor="middle" fill="#231f20" stroke="#231f20" stroke-width="0.12">0</text>
<line x1="228.69" y1="553.2" x2="228.69" y2="554.8" stroke="#231f20" stroke-width="0.7"/>
<text x="228.69" y="564.8" font-size="6.6" text-anchor="middle" fill="#231f20" stroke="#231f20" stroke-width="0.12">3</text>
<line x1="241.49" y1="553.2" x2="241.49" y2="554.8" stroke="#231f20" stroke-width="0.7"/>
<text x="241.49" y="564.8" font-size="6.6" text-anchor="middle" fill="#231f20" stroke="#231f20" stroke-width="0.12">6</text>
<line x1="254.28" y1="553.2" x2="254.28" y2="554.8" stroke="#231f20" stroke-width="0.7"/>
<text x="254.28" y="564.8" font-size="6.6" text-anchor="middle" fill="#231f20" stroke="#231f20" stroke-width="0.12">9</text>
<line x1="267.08" y1="553.2" x2="267.08" y2="554.8" stroke="#231f20" stroke-width="0.7"/>
<text x="267.08" y="564.8" font-size="6.6" text-anchor="middle" fill="#231f20" stroke="#231f20" stroke-width="0.12">12</text>
<line x1="279.88" y1="553.2" x2="279.88" y2="554.8" stroke="#231f20" stroke-width="0.7"/>
<text x="279.88" y="564.8" font-size="6.6" text-anchor="middle" fill="#231f20" stroke="#231f20" stroke-width="0.12">15</text>
<line x1="292.67" y1="553.2" x2="292.67" y2="554.8" stroke="#231f20" stroke-width="0.7"/>
<text x="292.67" y="564.8" font-size="6.6" text-anchor="middle" fill="#231f20" stroke="#231f20" stroke-width="0.12">18</text>
<line x1="305.47" y1="553.2" x2="305.47" y2="554.8" stroke="#231f20" stroke-width="0.7"/>
<text x="305.47" y="564.8" font-size="6.6" text-anchor="middle" fill="#231f20" stroke="#231f20" stroke-width="0.12">21</text>
<line x1="318.26" y1="553.2" x2="318.26" y2="554.8" stroke="#231f20" stroke-width="0.7"/>
<text x="318.26" y="564.8" font-size="6.6" text-anchor="middle" fill="#231f20" stroke="#231f20" stroke-width="0.12">24</text>
<line x1="331.06" y1="553.2" x2="331.06" y2="554.8" stroke="#231f20" stroke-width="0.7"/>
<text x="331.06" y="564.8" font-size="6.6" text-anchor="middle" fill="#231f20" stroke="#231f20" stroke-width="0.12">27</text>
<text x="244.6" y="575.3" font-size="6.8" fill="#231f20" stroke="#231f20" stroke-width="0.12">Days post inoculation</text>
<text x="0" y="0" font-size="6.9" text-anchor="middle" fill="#231f20" transform="translate(194.4 498.4) rotate(-90)">Tumor size (mm<tspan font-size="3.4" dy="-1.8">2</tspan><tspan dy="1.8">)</tspan></text>
<line x1="216.3" y1="428.9" x2="224.3" y2="428.9" stroke="#111" stroke-width="0.8"/>
<ellipse cx="220.3" cy="428.9" rx="2.3" ry="1.9" fill="#111"/>
<text x="225.9" y="431.2" font-size="6.5" fill="#231f20" stroke="#231f20" stroke-width="0.12">WT</text>
<line x1="216.3" y1="439" x2="224.3" y2="439" stroke="#000" stroke-width="0.8"/>
<ellipse cx="220.3" cy="439" rx="2.3" ry="1.9" fill="#000"/>
<text x="225.9" y="441.3" font-size="6.5" fill="#231f20" stroke="#231f20" stroke-width="0.12"><tspan font-style="italic">Hdac3</tspan><tspan font-size="3.2" dy="-2.4">−/−</tspan><tspan dy="2.4"> +Vector</tspan></text>
<line x1="216.3" y1="447.6" x2="224.3" y2="447.6" stroke="#e8202a" stroke-width="0.8"/>
<ellipse cx="220.3" cy="447.6" rx="2.3" ry="1.9" fill="#e8202a"/>
<text x="225.9" y="449.9" font-size="6.5" fill="#231f20" stroke="#231f20" stroke-width="0.12"><tspan font-style="italic">Hdac3</tspan><tspan font-size="3.2" dy="-2.4">−/−</tspan><tspan dy="2.4"> +HDAC3 WT</tspan></text>
<line x1="216.3" y1="456.4" x2="224.3" y2="456.4" stroke="#a040a8" stroke-width="0.8"/>
<ellipse cx="220.3" cy="456.4" rx="2.3" ry="1.9" fill="#a040a8"/>
<text x="225.9" y="458.7" font-size="6.5" fill="#231f20" stroke="#231f20" stroke-width="0.12"><tspan font-style="italic">Hdac3</tspan><tspan font-size="3.2" dy="-2.4">−/−</tspan><tspan dy="2.4"> +HDAC3 H134/135Q</tspan></text>
<polyline points="215.9,553.2 250.02,540.86 258.55,550.66" fill="none" stroke="#000" stroke-width="0.8"/>
<rect x="213.7" y="551" width="4.4" height="4.4" fill="#000"/>
<rect x="247.82" y="538.66" width="4.4" height="4.4" fill="#000"/>
<rect x="256.35" y="548.46" width="4.4" height="4.4" fill="#000"/>
<polyline points="215.9,553.2 250.02,536.5 258.55,537.59 267.08,529.97 275.61,519.08 284.14,511.46 292.67,504.56 301.2,493.31 309.73,486.41 318.26,478.42 326.79,469.71" fill="none" stroke="#e8202a" stroke-width="0.8"/>
<line x1="250.02" y1="535.05" x2="250.02" y2="537.95" stroke="#e8202a" stroke-width="0.7"/>
<line x1="248.72" y1="535.05" x2="251.32" y2="535.05" stroke="#e8202a" stroke-width="0.7"/>
<line x1="248.72" y1="537.95" x2="251.32" y2="537.95" stroke="#e8202a" stroke-width="0.7"/>
<line x1="258.55" y1="535.78" x2="258.55" y2="539.41" stroke="#e8202a" stroke-width="0.7"/>
<line x1="257.25" y1="535.78" x2="259.85" y2="535.78" stroke="#e8202a" stroke-width="0.7"/>
<line x1="257.25" y1="539.41" x2="259.85" y2="539.41" stroke="#e8202a" stroke-width="0.7"/>
<line x1="267.08" y1="528.15" x2="267.08" y2="531.78" stroke="#e8202a" stroke-width="0.7"/>
<line x1="265.78" y1="528.15" x2="268.38" y2="528.15" stroke="#e8202a" stroke-width="0.7"/>
<line x1="265.78" y1="531.78" x2="268.38" y2="531.78" stroke="#e8202a" stroke-width="0.7"/>
<line x1="275.61" y1="516.17" x2="275.61" y2="521.98" stroke="#e8202a" stroke-width="0.7"/>
<line x1="274.31" y1="516.17" x2="276.91" y2="516.17" stroke="#e8202a" stroke-width="0.7"/>
<line x1="274.31" y1="521.98" x2="276.91" y2="521.98" stroke="#e8202a" stroke-width="0.7"/>
<line x1="284.14" y1="504.2" x2="284.14" y2="518.72" stroke="#e8202a" stroke-width="0.7"/>
<line x1="282.84" y1="504.2" x2="285.44" y2="504.2" stroke="#e8202a" stroke-width="0.7"/>
<line x1="282.84" y1="518.72" x2="285.44" y2="518.72" stroke="#e8202a" stroke-width="0.7"/>
<line x1="292.67" y1="498.39" x2="292.67" y2="510.73" stroke="#e8202a" stroke-width="0.7"/>
<line x1="291.37" y1="498.39" x2="293.97" y2="498.39" stroke="#e8202a" stroke-width="0.7"/>
<line x1="291.37" y1="510.73" x2="293.97" y2="510.73" stroke="#e8202a" stroke-width="0.7"/>
<line x1="301.2" y1="484.23" x2="301.2" y2="502.38" stroke="#e8202a" stroke-width="0.7"/>
<line x1="299.9" y1="484.23" x2="302.5" y2="484.23" stroke="#e8202a" stroke-width="0.7"/>
<line x1="299.9" y1="502.38" x2="302.5" y2="502.38" stroke="#e8202a" stroke-width="0.7"/>
<line x1="309.73" y1="476.61" x2="309.73" y2="496.21" stroke="#e8202a" stroke-width="0.7"/>
<line x1="308.43" y1="476.61" x2="311.03" y2="476.61" stroke="#e8202a" stroke-width="0.7"/>
<line x1="308.43" y1="496.21" x2="311.03" y2="496.21" stroke="#e8202a" stroke-width="0.7"/>
<line x1="318.26" y1="466.44" x2="318.26" y2="490.4" stroke="#e8202a" stroke-width="0.7"/>
<line x1="316.96" y1="466.44" x2="319.56" y2="466.44" stroke="#e8202a" stroke-width="0.7"/>
<line x1="316.96" y1="490.4" x2="319.56" y2="490.4" stroke="#e8202a" stroke-width="0.7"/>
<line x1="326.79" y1="453.74" x2="326.79" y2="485.68" stroke="#e8202a" stroke-width="0.7"/>
<line x1="325.49" y1="453.74" x2="328.09" y2="453.74" stroke="#e8202a" stroke-width="0.7"/>
<line x1="325.49" y1="485.68" x2="328.09" y2="485.68" stroke="#e8202a" stroke-width="0.7"/>
<rect x="213.5" y="550.8" width="4.8" height="4.8" fill="#e8202a"/>
<rect x="247.62" y="534.1" width="4.8" height="4.8" fill="#e8202a"/>
<rect x="256.15" y="535.19" width="4.8" height="4.8" fill="#e8202a"/>
<rect x="264.68" y="527.57" width="4.8" height="4.8" fill="#e8202a"/>
<rect x="273.21" y="516.68" width="4.8" height="4.8" fill="#e8202a"/>
<rect x="281.74" y="509.06" width="4.8" height="4.8" fill="#e8202a"/>
<rect x="290.27" y="502.16" width="4.8" height="4.8" fill="#e8202a"/>
<rect x="298.8" y="490.91" width="4.8" height="4.8" fill="#e8202a"/>
<rect x="307.33" y="484.01" width="4.8" height="4.8" fill="#e8202a"/>
<rect x="315.86" y="476.02" width="4.8" height="4.8" fill="#e8202a"/>
<rect x="324.39" y="467.31" width="4.8" height="4.8" fill="#e8202a"/>
<polyline points="215.9,553.2 250.02,528.88 258.55,525.25 267.08,518.72 275.61,513.27 284.14,500.57 292.67,492.58 301.2,482.05 309.73,474.07 318.26,465.35 326.79,460.27" fill="none" stroke="#000" stroke-width="0.9"/>
<line x1="250.02" y1="527.43" x2="250.02" y2="530.33" stroke="#000" stroke-width="0.7"/>
<line x1="248.72" y1="527.43" x2="251.32" y2="527.43" stroke="#000" stroke-width="0.7"/>
<line x1="248.72" y1="530.33" x2="251.32" y2="530.33" stroke="#000" stroke-width="0.7"/>
<line x1="258.55" y1="524.16" x2="258.55" y2="526.34" stroke="#000" stroke-width="0.7"/>
<line x1="257.25" y1="524.16" x2="259.85" y2="524.16" stroke="#000" stroke-width="0.7"/>
<line x1="257.25" y1="526.34" x2="259.85" y2="526.34" stroke="#000" stroke-width="0.7"/>
<line x1="267.08" y1="517.26" x2="267.08" y2="520.17" stroke="#000" stroke-width="0.7"/>
<line x1="265.78" y1="517.26" x2="268.38" y2="517.26" stroke="#000" stroke-width="0.7"/>
<line x1="265.78" y1="520.17" x2="268.38" y2="520.17" stroke="#000" stroke-width="0.7"/>
<line x1="275.61" y1="511.46" x2="275.61" y2="515.09" stroke="#000" stroke-width="0.7"/>
<line x1="274.31" y1="511.46" x2="276.91" y2="511.46" stroke="#000" stroke-width="0.7"/>
<line x1="274.31" y1="515.09" x2="276.91" y2="515.09" stroke="#000" stroke-width="0.7"/>
<line x1="284.14" y1="496.57" x2="284.14" y2="504.56" stroke="#000" stroke-width="0.7"/>
<line x1="282.84" y1="496.57" x2="285.44" y2="496.57" stroke="#000" stroke-width="0.7"/>
<line x1="282.84" y1="504.56" x2="285.44" y2="504.56" stroke="#000" stroke-width="0.7"/>
<line x1="292.67" y1="484.96" x2="292.67" y2="500.2" stroke="#000" stroke-width="0.7"/>
<line x1="291.37" y1="484.96" x2="293.97" y2="484.96" stroke="#000" stroke-width="0.7"/>
<line x1="291.37" y1="500.2" x2="293.97" y2="500.2" stroke="#000" stroke-width="0.7"/>
<line x1="301.2" y1="472.98" x2="301.2" y2="491.13" stroke="#000" stroke-width="0.7"/>
<line x1="299.9" y1="472.98" x2="302.5" y2="472.98" stroke="#000" stroke-width="0.7"/>
<line x1="299.9" y1="491.13" x2="302.5" y2="491.13" stroke="#000" stroke-width="0.7"/>
<line x1="309.73" y1="463.54" x2="309.73" y2="484.59" stroke="#000" stroke-width="0.7"/>
<line x1="308.43" y1="463.54" x2="311.03" y2="463.54" stroke="#000" stroke-width="0.7"/>
<line x1="308.43" y1="484.59" x2="311.03" y2="484.59" stroke="#000" stroke-width="0.7"/>
<line x1="318.26" y1="454.83" x2="318.26" y2="475.88" stroke="#000" stroke-width="0.7"/>
<line x1="316.96" y1="454.83" x2="319.56" y2="454.83" stroke="#000" stroke-width="0.7"/>
<line x1="316.96" y1="475.88" x2="319.56" y2="475.88" stroke="#000" stroke-width="0.7"/>
<line x1="326.79" y1="448.66" x2="326.79" y2="471.89" stroke="#000" stroke-width="0.7"/>
<line x1="325.49" y1="448.66" x2="328.09" y2="448.66" stroke="#000" stroke-width="0.7"/>
<line x1="325.49" y1="471.89" x2="328.09" y2="471.89" stroke="#000" stroke-width="0.7"/>
<circle cx="215.9" cy="553.2" r="2.49" fill="#000"/>
<circle cx="250.02" cy="528.88" r="2.49" fill="#000"/>
<circle cx="258.55" cy="525.25" r="2.49" fill="#000"/>
<circle cx="267.08" cy="518.72" r="2.49" fill="#000"/>
<circle cx="275.61" cy="513.27" r="2.49" fill="#000"/>
<circle cx="284.14" cy="500.57" r="2.49" fill="#000"/>
<circle cx="292.67" cy="492.58" r="2.49" fill="#000"/>
<circle cx="301.2" cy="482.05" r="2.49" fill="#000"/>
<circle cx="309.73" cy="474.07" r="2.49" fill="#000"/>
<circle cx="318.26" cy="465.35" r="2.49" fill="#000"/>
<circle cx="326.79" cy="460.27" r="2.49" fill="#000"/>
<polyline points="215.9,553.2 250.02,547.75 258.55,545.94 267.08,553.2 275.61,553.2 284.14,553.2 292.67,553.2 301.2,553.2 309.73,553.2 318.26,553.2 326.79,553.2" fill="none" stroke="#a040a8" stroke-width="0.8"/>
<rect x="213.5" y="550.8" width="4.8" height="4.8" fill="#a040a8"/>
<rect x="247.62" y="545.36" width="4.8" height="4.8" fill="#a040a8"/>
<rect x="256.15" y="543.54" width="4.8" height="4.8" fill="#a040a8"/>
<rect x="264.68" y="550.8" width="4.8" height="4.8" fill="#a040a8"/>
<rect x="273.21" y="550.8" width="4.8" height="4.8" fill="#a040a8"/>
<rect x="281.74" y="550.8" width="4.8" height="4.8" fill="#a040a8"/>
<rect x="290.27" y="550.8" width="4.8" height="4.8" fill="#a040a8"/>
<rect x="298.8" y="550.8" width="4.8" height="4.8" fill="#a040a8"/>
<rect x="307.33" y="550.8" width="4.8" height="4.8" fill="#a040a8"/>
<rect x="315.86" y="550.8" width="4.8" height="4.8" fill="#a040a8"/>
<rect x="324.39" y="550.8" width="4.8" height="4.8" fill="#a040a8"/>
<rect x="213.3" y="550.6" width="5.2" height="5.2" fill="#000"/>
<line x1="332.6" y1="468.3" x2="332.6" y2="551.6" stroke="#9a3aa0" stroke-width="0.9"/>
<line x1="341.9" y1="459.7" x2="341.9" y2="551.6" stroke="#555" stroke-width="1"/>
<circle cx="337.8" cy="507.4" r="1.14" fill="#231f20"/>
<circle cx="337.8" cy="511.6" r="1.14" fill="#231f20"/>
<circle cx="337.8" cy="515.8" r="1.14" fill="#231f20"/>
<circle cx="346.3" cy="500.6" r="1.14" fill="#231f20"/>
<circle cx="346.3" cy="504.8" r="1.14" fill="#231f20"/>
<circle cx="346.3" cy="509" r="1.14" fill="#231f20"/>
<line x1="387.7" y1="443.9" x2="387.7" y2="553.9" stroke="#231f20" stroke-width="0.8"/>
<line x1="387.3" y1="553.5" x2="502" y2="553.5" stroke="#231f20" stroke-width="0.8"/>
<line x1="386.1" y1="553.5" x2="387.7" y2="553.5" stroke="#231f20" stroke-width="0.7"/>
<text x="384.5" y="556.4" font-size="6.6" text-anchor="end" fill="#231f20" stroke="#231f20" stroke-width="0.12">0</text>
<line x1="386.1" y1="526.1" x2="387.7" y2="526.1" stroke="#231f20" stroke-width="0.7"/>
<text x="384.5" y="529" font-size="6.6" text-anchor="end" fill="#231f20" stroke="#231f20" stroke-width="0.12">100</text>
<line x1="386.1" y1="498.7" x2="387.7" y2="498.7" stroke="#231f20" stroke-width="0.7"/>
<text x="384.5" y="501.6" font-size="6.6" text-anchor="end" fill="#231f20" stroke="#231f20" stroke-width="0.12">200</text>
<line x1="386.1" y1="471.3" x2="387.7" y2="471.3" stroke="#231f20" stroke-width="0.7"/>
<text x="384.5" y="474.2" font-size="6.6" text-anchor="end" fill="#231f20" stroke="#231f20" stroke-width="0.12">300</text>
<line x1="386.1" y1="443.9" x2="387.7" y2="443.9" stroke="#231f20" stroke-width="0.7"/>
<text x="384.5" y="446.8" font-size="6.6" text-anchor="end" fill="#231f20" stroke="#231f20" stroke-width="0.12">400</text>
<line x1="388.7" y1="553.5" x2="388.7" y2="555.1" stroke="#231f20" stroke-width="0.7"/>
<text x="388.7" y="563.8" font-size="6.6" text-anchor="middle" fill="#231f20" stroke="#231f20" stroke-width="0.12">0</text>
<line x1="404.96" y1="553.5" x2="404.96" y2="555.1" stroke="#231f20" stroke-width="0.7"/>
<text x="404.96" y="563.8" font-size="6.6" text-anchor="middle" fill="#231f20" stroke="#231f20" stroke-width="0.12">3</text>
<line x1="421.22" y1="553.5" x2="421.22" y2="555.1" stroke="#231f20" stroke-width="0.7"/>
<text x="421.22" y="563.8" font-size="6.6" text-anchor="middle" fill="#231f20" stroke="#231f20" stroke-width="0.12">6</text>
<line x1="437.48" y1="553.5" x2="437.48" y2="555.1" stroke="#231f20" stroke-width="0.7"/>
<text x="437.48" y="563.8" font-size="6.6" text-anchor="middle" fill="#231f20" stroke="#231f20" stroke-width="0.12">9</text>
<line x1="453.74" y1="553.5" x2="453.74" y2="555.1" stroke="#231f20" stroke-width="0.7"/>
<text x="453.74" y="563.8" font-size="6.6" text-anchor="middle" fill="#231f20" stroke="#231f20" stroke-width="0.12">12</text>
<line x1="470" y1="553.5" x2="470" y2="555.1" stroke="#231f20" stroke-width="0.7"/>
<text x="470" y="563.8" font-size="6.6" text-anchor="middle" fill="#231f20" stroke="#231f20" stroke-width="0.12">15</text>
<line x1="486.26" y1="553.5" x2="486.26" y2="555.1" stroke="#231f20" stroke-width="0.7"/>
<text x="486.26" y="563.8" font-size="6.6" text-anchor="middle" fill="#231f20" stroke="#231f20" stroke-width="0.12">18</text>
<line x1="502.52" y1="553.5" x2="502.52" y2="555.1" stroke="#231f20" stroke-width="0.7"/>
<text x="502.52" y="563.8" font-size="6.6" text-anchor="middle" fill="#231f20" stroke="#231f20" stroke-width="0.12">21</text>
<text x="418.7" y="574.9" font-size="6.7" fill="#231f20" stroke="#231f20" stroke-width="0.12">Days post inoculation</text>
<text x="0" y="0" font-size="6.9" text-anchor="middle" fill="#231f20" transform="translate(366.4 499.7) rotate(-90)">Tumor size (mm<tspan font-size="3.4" dy="-1.8">2</tspan><tspan dy="1.8">)</tspan></text>
<line x1="390.3" y1="430.9" x2="398.3" y2="430.9" stroke="#111" stroke-width="0.8"/>
<ellipse cx="394.3" cy="430.9" rx="2.3" ry="1.9" fill="#111"/>
<text x="398.9" y="433.2" font-size="6.5" fill="#231f20" stroke="#231f20" stroke-width="0.12">WT</text>
<line x1="390.3" y1="440.1" x2="398.3" y2="440.1" stroke="#000" stroke-width="0.8"/>
<ellipse cx="394.3" cy="440.1" rx="2.3" ry="1.9" fill="#000"/>
<text x="398.9" y="442.4" font-size="6.5" fill="#231f20" stroke="#231f20" stroke-width="0.12"><tspan font-style="italic">Hdac3</tspan><tspan font-size="3.2" dy="-2.4">−/−</tspan><tspan dy="2.4"> +Vector</tspan></text>
<line x1="390.3" y1="448.4" x2="398.3" y2="448.4" stroke="#e8202a" stroke-width="0.8"/>
<ellipse cx="394.3" cy="448.4" rx="2.3" ry="1.9" fill="#e8202a"/>
<text x="398.9" y="450.7" font-size="6.5" fill="#231f20" stroke="#231f20" stroke-width="0.12"><tspan font-style="italic">Hdac3</tspan><tspan font-size="3.2" dy="-2.4">−/−</tspan><tspan dy="2.4"> +HDAC3 WT</tspan></text>
<line x1="390.3" y1="456.9" x2="398.3" y2="456.9" stroke="#a040a8" stroke-width="0.8"/>
<ellipse cx="394.3" cy="456.9" rx="2.3" ry="1.9" fill="#a040a8"/>
<text x="398.9" y="459.2" font-size="6.5" fill="#231f20" stroke="#231f20" stroke-width="0.12"><tspan font-style="italic">Hdac3</tspan><tspan font-size="3.2" dy="-2.4">−/−</tspan><tspan dy="2.4"> +HDAC3 H134/135Q</tspan></text>
<polyline points="388.7,553.5 426.64,541.44 442.9,532.68 453.74,523.36 464.58,505.82 475.42,493.77 491.68,463.63" fill="none" stroke="#a040a8" stroke-width="0.8"/>
<line x1="491.68" y1="461.44" x2="491.68" y2="465.82" stroke="#a040a8" stroke-width="0.7"/>
<line x1="490.38" y1="461.44" x2="492.98" y2="461.44" stroke="#a040a8" stroke-width="0.7"/>
<line x1="490.38" y1="465.82" x2="492.98" y2="465.82" stroke="#a040a8" stroke-width="0.7"/>
<rect x="386.6" y="551.4" width="4.2" height="4.2" fill="#a040a8"/>
<rect x="424.54" y="539.34" width="4.2" height="4.2" fill="#a040a8"/>
<rect x="440.8" y="530.58" width="4.2" height="4.2" fill="#a040a8"/>
<rect x="451.64" y="521.26" width="4.2" height="4.2" fill="#a040a8"/>
<rect x="462.48" y="503.72" width="4.2" height="4.2" fill="#a040a8"/>
<rect x="473.32" y="491.67" width="4.2" height="4.2" fill="#a040a8"/>
<rect x="489.58" y="461.53" width="4.2" height="4.2" fill="#a040a8"/>
<polyline points="388.7,553.5 426.64,541.99 442.9,533.22 453.74,523.91 464.58,506.92 475.42,495.14 491.68,473.77" fill="none" stroke="#e8202a" stroke-width="0.8"/>
<line x1="426.64" y1="541.17" x2="426.64" y2="542.81" stroke="#e8202a" stroke-width="0.7"/>
<line x1="425.34" y1="541.17" x2="427.94" y2="541.17" stroke="#e8202a" stroke-width="0.7"/>
<line x1="425.34" y1="542.81" x2="427.94" y2="542.81" stroke="#e8202a" stroke-width="0.7"/>
<line x1="442.9" y1="532.13" x2="442.9" y2="534.32" stroke="#e8202a" stroke-width="0.7"/>
<line x1="441.6" y1="532.13" x2="444.2" y2="532.13" stroke="#e8202a" stroke-width="0.7"/>
<line x1="441.6" y1="534.32" x2="444.2" y2="534.32" stroke="#e8202a" stroke-width="0.7"/>
<line x1="453.74" y1="522.81" x2="453.74" y2="525" stroke="#e8202a" stroke-width="0.7"/>
<line x1="452.44" y1="522.81" x2="455.04" y2="522.81" stroke="#e8202a" stroke-width="0.7"/>
<line x1="452.44" y1="525" x2="455.04" y2="525" stroke="#e8202a" stroke-width="0.7"/>
<line x1="464.58" y1="504.73" x2="464.58" y2="509.11" stroke="#e8202a" stroke-width="0.7"/>
<line x1="463.28" y1="504.73" x2="465.88" y2="504.73" stroke="#e8202a" stroke-width="0.7"/>
<line x1="463.28" y1="509.11" x2="465.88" y2="509.11" stroke="#e8202a" stroke-width="0.7"/>
<line x1="475.42" y1="492.95" x2="475.42" y2="497.33" stroke="#e8202a" stroke-width="0.7"/>
<line x1="474.12" y1="492.95" x2="476.72" y2="492.95" stroke="#e8202a" stroke-width="0.7"/>
<line x1="474.12" y1="497.33" x2="476.72" y2="497.33" stroke="#e8202a" stroke-width="0.7"/>
<line x1="491.68" y1="469.93" x2="491.68" y2="477.6" stroke="#e8202a" stroke-width="0.7"/>
<line x1="490.38" y1="469.93" x2="492.98" y2="469.93" stroke="#e8202a" stroke-width="0.7"/>
<line x1="490.38" y1="477.6" x2="492.98" y2="477.6" stroke="#e8202a" stroke-width="0.7"/>
<rect x="386.6" y="551.4" width="4.2" height="4.2" fill="#e8202a"/>
<rect x="424.54" y="539.89" width="4.2" height="4.2" fill="#e8202a"/>
<rect x="440.8" y="531.12" width="4.2" height="4.2" fill="#e8202a"/>
<rect x="451.64" y="521.81" width="4.2" height="4.2" fill="#e8202a"/>
<rect x="462.48" y="504.82" width="4.2" height="4.2" fill="#e8202a"/>
<rect x="473.32" y="493.04" width="4.2" height="4.2" fill="#e8202a"/>
<rect x="489.58" y="471.67" width="4.2" height="4.2" fill="#e8202a"/>
<polyline points="388.7,553.5 426.64,541.17 442.9,531.58 453.74,522.26 464.58,504.73 475.42,492.67 491.68,471.3" fill="none" stroke="#000" stroke-width="0.8"/>
<line x1="426.64" y1="540.35" x2="426.64" y2="541.99" stroke="#000" stroke-width="0.7"/>
<line x1="425.34" y1="540.35" x2="427.94" y2="540.35" stroke="#000" stroke-width="0.7"/>
<line x1="425.34" y1="541.99" x2="427.94" y2="541.99" stroke="#000" stroke-width="0.7"/>
<line x1="442.9" y1="530.48" x2="442.9" y2="532.68" stroke="#000" stroke-width="0.7"/>
<line x1="441.6" y1="530.48" x2="444.2" y2="530.48" stroke="#000" stroke-width="0.7"/>
<line x1="441.6" y1="532.68" x2="444.2" y2="532.68" stroke="#000" stroke-width="0.7"/>
<line x1="453.74" y1="520.89" x2="453.74" y2="523.63" stroke="#000" stroke-width="0.7"/>
<line x1="452.44" y1="520.89" x2="455.04" y2="520.89" stroke="#000" stroke-width="0.7"/>
<line x1="452.44" y1="523.63" x2="455.04" y2="523.63" stroke="#000" stroke-width="0.7"/>
<line x1="464.58" y1="502.81" x2="464.58" y2="506.65" stroke="#000" stroke-width="0.7"/>
<line x1="463.28" y1="502.81" x2="465.88" y2="502.81" stroke="#000" stroke-width="0.7"/>
<line x1="463.28" y1="506.65" x2="465.88" y2="506.65" stroke="#000" stroke-width="0.7"/>
<line x1="475.42" y1="490.48" x2="475.42" y2="494.86" stroke="#000" stroke-width="0.7"/>
<line x1="474.12" y1="490.48" x2="476.72" y2="490.48" stroke="#000" stroke-width="0.7"/>
<line x1="474.12" y1="494.86" x2="476.72" y2="494.86" stroke="#000" stroke-width="0.7"/>
<line x1="491.68" y1="468.56" x2="491.68" y2="474.04" stroke="#000" stroke-width="0.7"/>
<line x1="490.38" y1="468.56" x2="492.98" y2="468.56" stroke="#000" stroke-width="0.7"/>
<line x1="490.38" y1="474.04" x2="492.98" y2="474.04" stroke="#000" stroke-width="0.7"/>
<path d="M386.4 553.5 L388.7 551.66 L391 553.5 L388.7 555.34 Z" fill="#000"/>
<path d="M424.34 541.17 L426.64 539.33 L428.94 541.17 L426.64 543.01 Z" fill="#000"/>
<path d="M440.6 531.58 L442.9 529.74 L445.2 531.58 L442.9 533.42 Z" fill="#000"/>
<path d="M451.44 522.26 L453.74 520.42 L456.04 522.26 L453.74 524.1 Z" fill="#000"/>
<path d="M462.28 504.73 L464.58 502.89 L466.88 504.73 L464.58 506.57 Z" fill="#000"/>
<path d="M473.12 492.67 L475.42 490.83 L477.72 492.67 L475.42 494.51 Z" fill="#000"/>
<path d="M489.38 471.3 L491.68 469.46 L493.98 471.3 L491.68 473.14 Z" fill="#000"/>
<polyline points="388.7,553.5 426.64,537.61 442.9,525.83 453.74,515.69 464.58,500.34 475.42,488.29 491.68,468.01" fill="none" stroke="#000" stroke-width="0.9"/>
<line x1="426.64" y1="536.79" x2="426.64" y2="538.43" stroke="#000" stroke-width="0.7"/>
<line x1="425.34" y1="536.79" x2="427.94" y2="536.79" stroke="#000" stroke-width="0.7"/>
<line x1="425.34" y1="538.43" x2="427.94" y2="538.43" stroke="#000" stroke-width="0.7"/>
<line x1="442.9" y1="524.73" x2="442.9" y2="526.92" stroke="#000" stroke-width="0.7"/>
<line x1="441.6" y1="524.73" x2="444.2" y2="524.73" stroke="#000" stroke-width="0.7"/>
<line x1="441.6" y1="526.92" x2="444.2" y2="526.92" stroke="#000" stroke-width="0.7"/>
<line x1="453.74" y1="514.32" x2="453.74" y2="517.06" stroke="#000" stroke-width="0.7"/>
<line x1="452.44" y1="514.32" x2="455.04" y2="514.32" stroke="#000" stroke-width="0.7"/>
<line x1="452.44" y1="517.06" x2="455.04" y2="517.06" stroke="#000" stroke-width="0.7"/>
<line x1="464.58" y1="498.15" x2="464.58" y2="502.54" stroke="#000" stroke-width="0.7"/>
<line x1="463.28" y1="498.15" x2="465.88" y2="498.15" stroke="#000" stroke-width="0.7"/>
<line x1="463.28" y1="502.54" x2="465.88" y2="502.54" stroke="#000" stroke-width="0.7"/>
<line x1="475.42" y1="485.82" x2="475.42" y2="490.75" stroke="#000" stroke-width="0.7"/>
<line x1="474.12" y1="485.82" x2="476.72" y2="485.82" stroke="#000" stroke-width="0.7"/>
<line x1="474.12" y1="490.75" x2="476.72" y2="490.75" stroke="#000" stroke-width="0.7"/>
<line x1="491.68" y1="464.72" x2="491.68" y2="471.3" stroke="#000" stroke-width="0.7"/>
<line x1="490.38" y1="464.72" x2="492.98" y2="464.72" stroke="#000" stroke-width="0.7"/>
<line x1="490.38" y1="471.3" x2="492.98" y2="471.3" stroke="#000" stroke-width="0.7"/>
<rect x="386.7" y="551.5" width="4" height="4" fill="#000"/>
<rect x="424.64" y="535.61" width="4" height="4" fill="#000"/>
<rect x="440.9" y="523.83" width="4" height="4" fill="#000"/>
<rect x="451.74" y="513.69" width="4" height="4" fill="#000"/>
<rect x="462.58" y="498.34" width="4" height="4" fill="#000"/>
<rect x="473.42" y="486.29" width="4" height="4" fill="#000"/>
<rect x="489.68" y="466.01" width="4" height="4" fill="#000"/>
<rect x="386.1" y="550.9" width="5.2" height="5.2" fill="#000"/></svg>
</body></html>
